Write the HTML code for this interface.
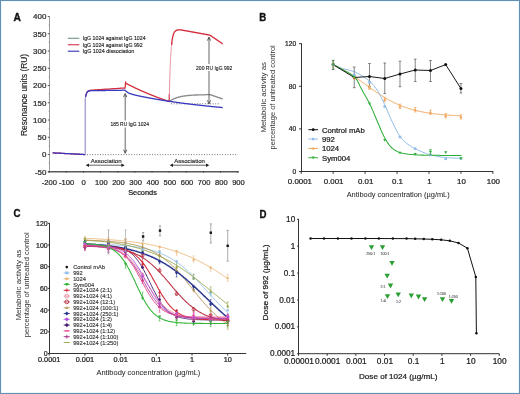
<!DOCTYPE html>
<html><head><meta charset="utf-8"><style>
html,body{margin:0;padding:0;background:#fff;}
svg{display:block;will-change:transform;filter:blur(0.3px);}
text{font-family:"Liberation Sans", sans-serif;}
</style></head><body>
<svg width="520" height="394" viewBox="0 0 520 394">
<rect x="0" y="0" width="520" height="394" fill="#fff"/>
<text x="13.60" y="20.90" font-size="10.6" fill="#111" stroke="#111" stroke-width="0.35" font-weight="bold" textLength="7.40" lengthAdjust="spacingAndGlyphs" >A</text>
<line x1="49.50" y1="16.50" x2="49.50" y2="171.80" stroke="#9a9a9a" stroke-width="1.0" />
<line x1="47.80" y1="171.80" x2="49.50" y2="171.80" stroke="#555" stroke-width="1.0" />
<line x1="48.60" y1="163.17" x2="49.50" y2="163.17" stroke="#888" stroke-width="0.8" />
<line x1="47.80" y1="154.54" x2="49.50" y2="154.54" stroke="#555" stroke-width="1.0" />
<line x1="48.60" y1="145.91" x2="49.50" y2="145.91" stroke="#888" stroke-width="0.8" />
<line x1="47.80" y1="137.29" x2="49.50" y2="137.29" stroke="#555" stroke-width="1.0" />
<line x1="48.60" y1="128.66" x2="49.50" y2="128.66" stroke="#888" stroke-width="0.8" />
<line x1="47.80" y1="120.03" x2="49.50" y2="120.03" stroke="#555" stroke-width="1.0" />
<line x1="48.60" y1="111.40" x2="49.50" y2="111.40" stroke="#888" stroke-width="0.8" />
<line x1="47.80" y1="102.78" x2="49.50" y2="102.78" stroke="#555" stroke-width="1.0" />
<line x1="48.60" y1="94.15" x2="49.50" y2="94.15" stroke="#888" stroke-width="0.8" />
<line x1="47.80" y1="85.52" x2="49.50" y2="85.52" stroke="#555" stroke-width="1.0" />
<line x1="48.60" y1="76.89" x2="49.50" y2="76.89" stroke="#888" stroke-width="0.8" />
<line x1="47.80" y1="68.27" x2="49.50" y2="68.27" stroke="#555" stroke-width="1.0" />
<line x1="48.60" y1="59.64" x2="49.50" y2="59.64" stroke="#888" stroke-width="0.8" />
<line x1="47.80" y1="51.01" x2="49.50" y2="51.01" stroke="#555" stroke-width="1.0" />
<line x1="48.60" y1="42.38" x2="49.50" y2="42.38" stroke="#888" stroke-width="0.8" />
<line x1="47.80" y1="33.76" x2="49.50" y2="33.76" stroke="#555" stroke-width="1.0" />
<line x1="48.60" y1="25.13" x2="49.50" y2="25.13" stroke="#888" stroke-width="0.8" />
<line x1="47.80" y1="16.50" x2="49.50" y2="16.50" stroke="#555" stroke-width="1.0" />
<text x="46.40" y="174.60" font-size="8" fill="#2a2a2a" stroke="#2a2a2a" stroke-width="0.24" text-anchor="end" textLength="11.50" lengthAdjust="spacingAndGlyphs" >-50</text>
<text x="46.40" y="157.34" font-size="8" fill="#2a2a2a" stroke="#2a2a2a" stroke-width="0.24" text-anchor="end" textLength="4.40" lengthAdjust="spacingAndGlyphs" >0</text>
<text x="46.40" y="140.09" font-size="8" fill="#2a2a2a" stroke="#2a2a2a" stroke-width="0.24" text-anchor="end" textLength="8.90" lengthAdjust="spacingAndGlyphs" >50</text>
<text x="46.40" y="122.83" font-size="8" fill="#2a2a2a" stroke="#2a2a2a" stroke-width="0.24" text-anchor="end" textLength="13.30" lengthAdjust="spacingAndGlyphs" >100</text>
<text x="46.40" y="105.58" font-size="8" fill="#2a2a2a" stroke="#2a2a2a" stroke-width="0.24" text-anchor="end" textLength="13.30" lengthAdjust="spacingAndGlyphs" >150</text>
<text x="46.40" y="88.32" font-size="8" fill="#2a2a2a" stroke="#2a2a2a" stroke-width="0.24" text-anchor="end" textLength="13.30" lengthAdjust="spacingAndGlyphs" >200</text>
<text x="46.40" y="71.06" font-size="8" fill="#2a2a2a" stroke="#2a2a2a" stroke-width="0.24" text-anchor="end" textLength="13.30" lengthAdjust="spacingAndGlyphs" >250</text>
<text x="46.40" y="53.81" font-size="8" fill="#2a2a2a" stroke="#2a2a2a" stroke-width="0.24" text-anchor="end" textLength="13.30" lengthAdjust="spacingAndGlyphs" >300</text>
<text x="46.40" y="36.55" font-size="8" fill="#2a2a2a" stroke="#2a2a2a" stroke-width="0.24" text-anchor="end" textLength="13.30" lengthAdjust="spacingAndGlyphs" >350</text>
<text x="46.40" y="19.30" font-size="8" fill="#2a2a2a" stroke="#2a2a2a" stroke-width="0.24" text-anchor="end" textLength="13.30" lengthAdjust="spacingAndGlyphs" >400</text>
<line x1="48.10" y1="171.80" x2="238.80" y2="171.80" stroke="#5a5a5a" stroke-width="1.6" />
<line x1="49.20" y1="171.00" x2="49.20" y2="172.80" stroke="#444" stroke-width="0.8" />
<line x1="66.34" y1="171.00" x2="66.34" y2="172.80" stroke="#444" stroke-width="0.8" />
<line x1="83.48" y1="171.00" x2="83.48" y2="172.80" stroke="#444" stroke-width="0.8" />
<line x1="100.62" y1="171.00" x2="100.62" y2="172.80" stroke="#444" stroke-width="0.8" />
<line x1="117.76" y1="171.00" x2="117.76" y2="172.80" stroke="#444" stroke-width="0.8" />
<line x1="134.90" y1="171.00" x2="134.90" y2="172.80" stroke="#444" stroke-width="0.8" />
<line x1="152.04" y1="171.00" x2="152.04" y2="172.80" stroke="#444" stroke-width="0.8" />
<line x1="169.18" y1="171.00" x2="169.18" y2="172.80" stroke="#444" stroke-width="0.8" />
<line x1="186.32" y1="171.00" x2="186.32" y2="172.80" stroke="#444" stroke-width="0.8" />
<line x1="203.46" y1="171.00" x2="203.46" y2="172.80" stroke="#444" stroke-width="0.8" />
<line x1="220.60" y1="171.00" x2="220.60" y2="172.80" stroke="#444" stroke-width="0.8" />
<line x1="237.74" y1="171.00" x2="237.74" y2="172.80" stroke="#444" stroke-width="0.8" />
<text x="49.40" y="185.30" font-size="8" fill="#2a2a2a" stroke="#2a2a2a" stroke-width="0.24" text-anchor="middle" textLength="15.20" lengthAdjust="spacingAndGlyphs" >-200</text>
<text x="66.54" y="185.30" font-size="8" fill="#2a2a2a" stroke="#2a2a2a" stroke-width="0.24" text-anchor="middle" textLength="15.20" lengthAdjust="spacingAndGlyphs" >-100</text>
<text x="83.68" y="185.30" font-size="8" fill="#2a2a2a" stroke="#2a2a2a" stroke-width="0.24" text-anchor="middle" textLength="4.30" lengthAdjust="spacingAndGlyphs" >0</text>
<text x="101.32" y="185.30" font-size="8" fill="#2a2a2a" stroke="#2a2a2a" stroke-width="0.24" text-anchor="middle" textLength="12.60" lengthAdjust="spacingAndGlyphs" >100</text>
<text x="118.46" y="185.30" font-size="8" fill="#2a2a2a" stroke="#2a2a2a" stroke-width="0.24" text-anchor="middle" textLength="12.60" lengthAdjust="spacingAndGlyphs" >200</text>
<text x="135.60" y="185.30" font-size="8" fill="#2a2a2a" stroke="#2a2a2a" stroke-width="0.24" text-anchor="middle" textLength="12.60" lengthAdjust="spacingAndGlyphs" >300</text>
<text x="152.74" y="185.30" font-size="8" fill="#2a2a2a" stroke="#2a2a2a" stroke-width="0.24" text-anchor="middle" textLength="12.60" lengthAdjust="spacingAndGlyphs" >400</text>
<text x="169.88" y="185.30" font-size="8" fill="#2a2a2a" stroke="#2a2a2a" stroke-width="0.24" text-anchor="middle" textLength="12.60" lengthAdjust="spacingAndGlyphs" >500</text>
<text x="187.02" y="185.30" font-size="8" fill="#2a2a2a" stroke="#2a2a2a" stroke-width="0.24" text-anchor="middle" textLength="12.60" lengthAdjust="spacingAndGlyphs" >600</text>
<text x="204.16" y="185.30" font-size="8" fill="#2a2a2a" stroke="#2a2a2a" stroke-width="0.24" text-anchor="middle" textLength="12.60" lengthAdjust="spacingAndGlyphs" >700</text>
<text x="221.30" y="185.30" font-size="8" fill="#2a2a2a" stroke="#2a2a2a" stroke-width="0.24" text-anchor="middle" textLength="12.60" lengthAdjust="spacingAndGlyphs" >800</text>
<text x="238.44" y="185.30" font-size="8" fill="#2a2a2a" stroke="#2a2a2a" stroke-width="0.24" text-anchor="middle" textLength="12.60" lengthAdjust="spacingAndGlyphs" >900</text>
<text x="142.50" y="195.30" font-size="7.5" fill="#222" stroke="#222" stroke-width="0.24" text-anchor="middle" textLength="28.70" lengthAdjust="spacingAndGlyphs" >Seconds</text>
<text x="27.20" y="95.00" font-size="8.3" fill="#222" stroke="#222" stroke-width="0.15" text-anchor="middle" textLength="82.00" lengthAdjust="spacingAndGlyphs" transform="rotate(-90 27.20 95.00)" >Resonance units (RU)</text>
<line x1="87.00" y1="154.60" x2="238.00" y2="154.60" stroke="#555" stroke-width="0.8" stroke-dasharray="1,1.6"/>
<line x1="171.00" y1="103.80" x2="219.00" y2="103.80" stroke="#555" stroke-width="0.8" stroke-dasharray="1,1.6"/>
<polyline points="168.8,101.2 168.9,101.2 169.0,101.2 169.1,101.2 169.2,101.5 169.3,101.4 169.4,101.4 169.4,101.3 169.5,101.3 169.6,101.2 169.7,101.1 169.8,101.1 169.9,101.0 170.0,101.0 170.0,100.9 170.1,100.8 170.2,100.8 170.3,100.7 170.4,100.7 170.5,100.6 170.6,100.6 170.6,100.5 170.7,100.5 170.8,100.4 170.9,100.4 171.0,100.3 171.1,100.2 171.2,100.2 171.2,100.1 171.3,100.1 171.4,100.0 171.5,100.0 171.6,99.9 171.7,99.9 171.8,99.9 171.8,99.8 171.9,99.8 172.0,99.7 172.1,99.7 172.2,99.6 172.3,99.6 172.4,99.5 172.4,99.5 172.5,99.4 172.6,99.4 172.7,99.4 172.8,99.3 172.9,99.3 173.0,99.2 173.0,99.2 173.1,99.1 173.2,99.1 173.3,99.1 173.4,99.0 173.5,99.0 173.6,98.9 173.6,98.9 173.7,98.9 173.8,98.8 173.9,98.8 174.0,98.7 174.1,98.7 174.2,98.7 174.2,98.6 174.3,98.6 174.4,98.6 174.5,98.5 174.6,98.5 174.7,98.5 174.8,98.4 174.8,98.4 174.9,98.3 175.0,98.3 175.1,98.3 175.2,98.2 175.3,98.2 175.4,98.2 175.4,98.2 175.5,98.1 175.6,98.1 175.7,98.1 175.8,98.0 175.9,98.0 176.0,98.0 176.0,97.9 176.1,97.9 176.2,97.9 176.3,97.8 176.4,97.8 176.5,97.8 176.6,97.8 176.6,97.7 176.7,97.7 176.8,97.7 176.9,97.6 177.0,97.6 177.1,97.6 177.2,97.6 177.2,97.5 177.3,97.5 177.4,97.5 177.5,97.5 177.6,97.4 177.7,97.4 177.8,97.4 177.8,97.4 177.9,97.3 178.0,97.3 178.1,97.3 178.2,97.3 178.3,97.2 178.3,97.2 178.4,97.2 178.5,97.2 178.6,97.1 178.7,97.1 178.8,97.1 178.9,97.1 178.9,97.0 179.0,97.0 179.1,97.0 179.2,97.0 179.3,97.0 179.4,96.9 179.5,96.9 179.5,96.9 179.6,96.9 179.7,96.9 179.8,96.8 179.9,96.8 180.0,96.8 180.1,96.8 180.1,96.8 180.2,96.7 180.3,96.7 180.4,96.7 180.5,96.7 180.6,96.7 180.7,96.6 180.7,96.6 180.8,96.6 180.9,96.6 181.0,96.6 181.1,96.5 181.2,96.5 181.3,96.5 181.3,96.5 181.4,96.5 181.5,96.5 181.6,96.4 181.7,96.4 181.8,96.4 181.9,96.4 181.9,96.4 182.0,96.4 182.1,96.3 182.2,96.3 182.3,96.3 182.4,96.3 182.5,96.3 182.5,96.3 182.6,96.3 182.7,96.2 182.8,96.2 182.9,96.2 183.0,96.2 183.1,96.2 183.1,96.2 183.2,96.2 183.3,96.1 183.4,96.1 183.5,96.1 183.6,96.1 183.7,96.1 183.7,96.1 183.8,96.1 183.9,96.0 184.0,96.0 184.1,96.0 184.2,96.0 184.3,96.0 184.3,96.0 184.4,96.0 184.5,96.0 184.6,95.9 184.7,95.9 184.8,95.9 184.9,95.9 184.9,95.9 185.0,95.9 185.1,95.9 185.2,95.9 185.3,95.8 185.4,95.8 185.5,95.8 185.5,95.8 185.6,95.8 185.7,95.8 185.8,95.8 185.9,95.8 186.0,95.8 186.1,95.7 186.1,95.7 186.2,95.7 186.3,95.7 186.4,95.7 186.5,95.7 186.6,95.7 186.7,95.7 186.7,95.7 186.8,95.7 186.9,95.6 187.0,95.6 187.1,95.6 187.2,95.6 187.3,95.6 187.3,95.6 187.4,95.6 187.5,95.6 187.6,95.6 187.7,95.6 187.8,95.6 187.9,95.5 187.9,95.5 188.0,95.5 188.1,95.5 188.2,95.5 188.3,95.5 188.4,95.5 188.5,95.5 188.5,95.5 188.6,95.5 188.7,95.5 188.8,95.5 188.9,95.4 189.0,95.4 189.1,95.4 189.1,95.4 189.2,95.4 189.3,95.4 189.4,95.4 189.5,95.4 189.6,95.4 189.7,95.4 189.7,95.4 189.8,95.4 189.9,95.4 190.0,95.4 190.1,95.3 190.2,95.3 190.3,95.3 190.3,95.3 190.4,95.3 190.5,95.3 190.6,95.3 190.7,95.3 190.8,95.3 190.9,95.3 190.9,95.3 191.0,95.3 191.1,95.3 191.2,95.3 191.3,95.3 191.4,95.3 191.5,95.2 191.5,95.2 191.6,95.2 191.7,95.2 191.8,95.2 191.9,95.2 192.0,95.2 192.1,95.2 192.1,95.2 192.2,95.2 192.3,95.2 192.4,95.2 192.5,95.2 192.6,95.2 192.7,95.2 192.7,95.2 192.8,95.2 192.9,95.2 193.0,95.1 193.1,95.1 193.2,95.1 193.3,95.1 193.3,95.1 193.4,95.1 193.5,95.1 193.6,95.1 193.7,95.1 193.8,95.1 193.9,95.1 193.9,95.1 194.0,95.1 194.1,95.1 194.2,95.1 194.3,95.1 194.4,95.1 194.5,95.1 194.5,95.1 194.6,95.1 194.7,95.1 194.8,95.1 194.9,95.0 195.0,95.0 195.1,95.0 195.1,95.0 195.2,95.0 195.3,95.0 195.4,95.0 195.5,95.0 195.6,95.0 195.7,95.0 195.7,95.0 195.8,95.0 195.9,95.0 196.0,95.0 196.1,95.0 196.2,95.0 196.3,95.0 196.3,95.0 196.4,95.0 196.5,95.0 196.6,95.0 196.7,95.0 196.8,95.0 196.9,95.0 196.9,95.0 197.0,95.0 197.1,95.0 197.2,94.9 197.3,94.9 197.4,94.9 197.5,94.9 197.5,94.9 197.6,94.9 197.7,94.9 197.8,94.9 197.9,94.9 198.0,94.9 198.1,94.9 198.1,94.9 198.2,94.9 198.3,94.9 198.4,94.9 198.5,94.9 198.6,94.9 198.7,94.9 198.7,94.9 198.8,94.9 198.9,94.9 199.0,94.9 199.1,94.9 199.2,94.9 199.3,94.9 199.3,94.9 199.4,94.9 199.5,94.9 199.6,94.9 199.7,94.9 199.8,94.9 199.9,94.9 199.9,94.9 200.0,94.9 200.1,94.9 200.2,94.9 200.3,94.9 200.4,94.8 200.5,94.8 200.5,94.8 200.6,94.8 200.7,94.8 200.8,94.8 200.9,94.8 201.0,94.8 201.1,94.8 201.1,94.8 201.2,94.8 201.3,94.8 201.4,94.8 201.5,94.8 201.6,94.8 201.7,94.8 201.7,94.8 201.8,94.8 201.9,94.8 202.0,94.8 202.1,94.8 202.2,94.8 202.3,94.8 202.3,94.8 202.4,94.8 202.5,94.8 202.6,94.8 202.7,94.8 202.8,94.8 202.9,94.8 202.9,94.8 203.0,94.8 203.1,94.8 203.2,94.8 203.3,94.8 203.4,94.8 203.5,94.8 203.5,94.8 203.6,94.8 203.7,94.8 203.8,94.8 203.9,94.8 204.0,94.8 204.1,94.8 204.1,94.8 204.2,94.8 204.3,94.8 204.4,94.8 204.5,94.8 204.6,94.8 204.7,94.8 204.7,94.8 204.8,94.8 204.9,94.8 205.0,94.8 205.1,94.7 205.2,94.7 205.3,94.7 205.3,94.7 205.4,94.7 205.5,94.7 205.6,94.7 205.7,94.7 205.8,94.7 205.9,94.7 205.9,94.7 206.0,94.7 206.1,94.7 206.2,94.7 206.3,94.7 206.4,94.7 206.5,94.7 206.5,94.7 206.6,94.7 206.7,94.7 206.8,94.7 206.9,94.7 207.0,94.7 207.1,94.7 207.1,94.7 207.2,94.7 207.3,94.7 207.4,94.7 207.5,94.7 207.6,94.7 207.7,94.7 207.7,94.7 207.8,94.7 207.9,94.7 208.0,94.7 208.1,94.7 208.2,94.7 208.3,94.7 208.3,94.7 208.4,94.7 208.5,94.7 208.6,94.7 208.7,94.7 208.8,94.7 208.9,94.7 208.9,94.7 209.0,94.7 209.1,94.7 209.2,94.7 209.3,94.7 209.4,94.7 209.5,94.7 209.5,94.7 209.6,94.7 209.7,94.7 209.8,94.7 209.9,94.7 210.0,94.6 210.1,94.6 210.1,94.7 210.2,94.7 210.3,94.7 210.4,94.7 210.5,94.8 210.6,94.8 210.7,94.8 210.7,94.9 210.8,94.9 210.9,94.9 211.0,94.9 211.1,95.0 211.2,95.0 211.3,95.0 211.3,95.1 211.4,95.1 211.5,95.1 211.6,95.2 211.7,95.2 211.8,95.2 211.9,95.2 211.9,95.3 212.0,95.3 212.1,95.3 212.2,95.4 212.3,95.4 212.4,95.4 212.5,95.4 212.5,95.5 212.6,95.5 212.7,95.5 212.8,95.6 212.9,95.6 213.0,95.6 213.1,95.7 213.1,95.7 213.2,95.7 213.3,95.7 213.4,95.8 213.5,95.8 213.6,95.8 213.7,95.9 213.7,95.9 213.8,95.9 213.9,95.9 214.0,96.0 214.1,96.0 214.2,96.0 214.3,96.1 214.3,96.1 214.4,96.1 214.5,96.2 214.6,96.2 214.7,96.2 214.8,96.2 214.9,96.3 214.9,96.3 215.0,96.3 215.1,96.4 215.2,96.4 215.3,96.4 215.4,96.4 215.5,96.5 215.5,96.5 215.6,96.5 215.7,96.6 215.8,96.6 215.9,96.6 216.0,96.6 216.1,96.7 216.1,96.7 216.2,96.7 216.3,96.8 216.4,96.8 216.5,96.8 216.6,96.9 216.7,96.9 216.7,96.9 216.8,96.9 216.9,97.0 217.0,97.0 217.1,97.0 217.2,97.1 217.3,97.1 217.3,97.1 217.4,97.1 217.5,97.2 217.6,97.2 217.7,97.2 217.8,97.3 217.9,97.3 217.9,97.3 218.0,97.4 218.1,97.4 218.2,97.4 218.3,97.4 218.4,97.5 218.5,97.5 218.5,97.5 218.6,97.6 218.7,97.6 218.8,97.6 218.9,97.6 219.0,97.7 219.1,97.7 219.1,97.7 219.2,97.8 219.3,97.8 219.4,97.8 219.5,97.9 219.6,97.9 219.7,97.9 219.7,97.9 219.8,98.0 219.9,98.0 220.0,98.0 220.1,98.1 220.2,98.1 220.3,98.1 220.3,98.1 220.4,98.2 220.5,98.2 220.6,98.2 220.7,98.3 220.8,98.3 220.9,98.3 220.9,98.4 221.0,98.4 221.1,98.4 221.2,98.4 221.3,98.5 221.4,98.5 221.5,98.5 221.5,98.6 221.6,98.6 221.7,98.6 221.8,98.6 221.9,98.7 222.0,98.7 222.1,98.7 222.1,98.8 222.2,98.8 222.3,98.8 222.4,98.8 222.5,98.9 222.6,98.9 222.7,98.9" fill="none" stroke="#878c8a" stroke-width="1.3" stroke-linejoin="round" />
<polyline points="52.6,152.8 52.7,152.8 52.8,152.8 52.9,152.8 53.0,152.8 53.1,152.8 53.1,152.8 53.2,152.8 53.3,152.9 53.4,152.9 53.5,152.9 53.6,152.9 53.7,152.9 53.7,152.9 53.8,152.9 53.9,152.9 54.0,152.9 54.1,152.9 54.2,152.9 54.3,152.9 54.3,152.9 54.4,152.9 54.5,152.9 54.6,152.9 54.7,152.9 54.8,152.9 54.9,152.9 54.9,152.9 55.0,152.9 55.1,152.9 55.2,153.0 55.3,153.0 55.4,153.0 55.5,153.0 55.5,153.0 55.6,153.0 55.7,153.0 55.8,153.0 55.9,153.0 56.0,153.0 56.1,153.0 56.1,153.0 56.2,153.0 56.3,153.0 56.4,153.0 56.5,153.0 56.6,153.0 56.7,153.0 56.7,153.0 56.8,153.0 56.9,153.0 57.0,153.0 57.1,153.1 57.2,153.1 57.3,153.1 57.3,153.1 57.4,153.1 57.5,153.1 57.6,153.1 57.7,153.1 57.8,153.1 57.9,153.1 57.9,153.1 58.0,153.1 58.1,153.1 58.2,153.1 58.3,153.1 58.4,153.1 58.5,153.1 58.5,153.1 58.6,153.1 58.7,153.1 58.8,153.1 58.9,153.1 59.0,153.2 59.1,153.2 59.1,153.2 59.2,153.2 59.3,153.2 59.4,153.2 59.5,153.2 59.6,153.2 59.7,153.2 59.7,153.2 59.8,153.2 59.9,153.2 60.0,153.2 60.1,153.2 60.2,153.2 60.3,153.2 60.3,153.2 60.4,153.2 60.5,153.2 60.6,153.2 60.7,153.2 60.8,153.2 60.9,153.3 60.9,153.3 61.0,153.3 61.1,153.3 61.2,153.3 61.3,153.3 61.4,153.3 61.5,153.3 61.5,153.3 61.6,153.3 61.7,153.3 61.8,153.3 61.9,153.3 62.0,153.3 62.1,153.3 62.1,153.3 62.2,153.3 62.3,153.3 62.4,153.3 62.5,153.3 62.6,153.3 62.7,153.3 62.7,153.4 62.8,153.4 62.9,153.4 63.0,153.4 63.1,153.4 63.2,153.4 63.3,153.4 63.3,153.4 63.4,153.4 63.5,153.4 63.6,153.4 63.7,153.4 63.8,153.4 63.9,153.4 63.9,153.4 64.0,153.4 64.1,153.4 64.2,153.4 64.3,153.4 64.4,153.4 64.5,153.4 64.5,153.4 64.6,153.5 64.7,153.5 64.8,153.5 64.9,153.5 65.0,153.5 65.1,153.5 65.1,153.5 65.2,153.5 65.3,153.5 65.4,153.5 65.5,153.5 65.6,153.5 65.7,153.5 65.7,153.5 65.8,153.5 65.9,153.5 66.0,153.5 66.1,153.5 66.2,153.5 66.3,153.5 66.3,153.5 66.4,153.5 66.5,153.6 66.6,153.6 66.7,153.6 66.8,153.6 66.9,153.6 66.9,153.6 67.0,153.6 67.1,153.6 67.2,153.6 67.3,153.6 67.4,153.6 67.5,153.6 67.5,153.6 67.6,153.6 67.7,153.6 67.8,153.6 67.9,153.6 68.0,153.6 68.1,153.6 68.1,153.6 68.2,153.6 68.3,153.6 68.4,153.7 68.5,153.7 68.6,153.7 68.7,153.7 68.7,153.7 68.8,153.7 68.9,153.7 69.0,153.7 69.1,153.7 69.2,153.7 69.3,153.7 69.3,153.7 69.4,153.7 69.5,153.7 69.6,153.7 69.7,153.7 69.8,153.7 69.9,153.7 69.9,153.7 70.0,153.7 70.1,153.7 70.2,153.7 70.3,153.7 70.4,153.8 70.5,153.8 70.5,153.8 70.6,153.8 70.7,153.8 70.8,153.8 70.9,153.8 71.0,153.8 71.1,153.8 71.1,153.8 71.2,153.8 71.3,153.8 71.4,153.8 71.5,153.8 71.6,153.8 71.7,153.8 71.7,153.8 71.8,153.8 71.9,153.8 72.0,153.8 72.1,153.8 72.2,153.8 72.3,153.9 72.3,153.9 72.4,153.9 72.5,153.9 72.6,153.9 72.7,153.9 72.8,153.9 72.9,153.9 72.9,153.9 73.0,153.9 73.1,153.9 73.2,153.9 73.3,153.9 73.4,153.9 73.5,153.9 73.5,153.9 73.6,153.9 73.7,153.9 73.8,153.9 73.9,153.9 74.0,153.9 74.1,153.9 74.1,154.0 74.2,154.0 74.3,154.0 74.4,154.0 74.5,154.0 74.6,154.0 74.7,154.0 74.7,154.0 74.8,154.0 74.9,154.0 75.0,154.0 75.1,154.0 75.2,154.0 75.3,154.0 75.3,154.0 75.4,154.0 75.5,154.0 75.6,154.0 75.7,154.0 75.8,154.0 75.9,154.0 75.9,154.0 76.0,154.1 76.1,154.1 76.2,154.1 76.3,154.1 76.4,154.1 76.5,154.1 76.5,154.1 76.6,154.1 76.7,154.1 76.8,154.1 76.9,154.1 77.0,154.1 77.1,154.1 77.1,154.1 77.2,154.1 77.3,154.1 77.4,154.1 77.5,154.1 77.6,154.1 77.7,154.1 77.7,154.1 77.8,154.1 77.9,154.2 78.0,154.2 78.1,154.2 78.2,154.2 78.3,154.2 78.3,154.2 78.4,154.2 78.5,154.2 78.6,154.2 78.7,154.2 78.8,154.2 78.9,154.2 78.9,154.2 79.0,154.2 79.1,154.2 79.2,154.2 79.3,154.2 79.4,154.2 79.5,154.2 79.5,154.2 79.6,154.2 79.7,154.2 79.8,154.3 79.9,154.3 80.0,154.3 80.1,154.3 80.1,154.3 80.2,154.3 80.3,154.3 80.4,154.3 80.5,154.3 80.6,154.3 80.7,154.3 80.7,154.3 80.8,154.3 80.9,154.3 81.0,154.3 81.1,154.3 81.2,154.3 81.3,154.3 81.3,154.3 81.4,154.3 81.5,154.3 81.6,154.3 81.7,154.4 81.8,154.4 81.9,154.4 81.9,154.4 82.0,154.4 82.1,154.4 82.2,154.4 82.3,154.4 82.4,154.4 82.5,154.4 82.5,154.4 82.6,154.4 82.7,154.4 82.8,154.4 82.9,154.4 83.0,154.4 83.1,154.4 83.1,154.4 83.2,154.4 83.3,154.4 83.4,154.4 83.5,154.4 83.6,154.5 83.7,154.5 83.7,154.5 83.8,154.5 83.9,154.5 84.0,154.5 84.1,154.5 84.2,154.5 84.3,154.5 84.3,154.5 84.4,154.5 84.5,154.5 84.6,154.5 84.7,154.5 84.8,154.5 84.9,154.5 84.9,154.5 85.0,154.5 85.1,154.5 85.2,154.5" fill="none" stroke="#d42c3c" stroke-width="1.25" stroke-linejoin="round" />
<polyline points="85.5,96.7 85.6,96.3 85.7,95.9 85.8,95.5 85.9,95.2 86.0,94.8 86.1,94.5 86.1,94.2 86.2,94.0 86.3,93.7 86.4,93.5 86.5,93.3 86.6,93.1 86.7,92.9 86.7,92.7 86.8,92.6 86.9,92.4 87.0,92.3 87.1,92.1 87.2,92.0 87.3,91.9 87.3,91.8 87.4,91.7 87.5,91.6 87.6,91.5 87.7,91.4 87.8,91.3 87.9,91.3 87.9,91.2 88.0,91.1 88.1,91.1 88.2,91.0 88.3,91.0 88.4,90.9 88.5,90.9 88.5,90.8 88.6,90.8 88.7,90.7 88.8,90.7 88.9,90.7 89.0,90.6 89.1,90.6 89.1,90.6 89.2,90.6 89.3,90.5 89.4,90.5 89.5,90.5 89.6,90.5 89.7,90.4 89.7,90.4 89.8,90.4 89.9,90.4 90.0,90.4 90.1,90.3 90.2,90.3 90.3,90.3 90.3,90.3 90.4,90.3 90.5,90.3 90.6,90.3 90.7,90.3 90.8,90.2 90.9,90.2 90.9,90.2 91.0,90.2 91.1,90.2 91.2,90.2 91.3,90.2 91.4,90.2 91.5,90.2 91.5,90.2 91.6,90.1 91.7,90.1 91.8,90.1 91.9,90.1 92.0,90.1 92.1,90.1 92.1,90.1 92.2,90.1 92.3,90.1 92.4,90.1 92.5,90.1 92.6,90.1 92.6,90.1 92.7,90.1 92.8,90.0 92.9,90.0 93.0,90.0 93.1,90.0 93.2,90.0 93.2,90.0 93.3,90.0 93.4,90.0 93.5,90.0 93.6,90.0 93.7,90.0 93.8,90.0 93.8,90.0 93.9,90.0 94.0,90.0 94.1,90.0 94.2,89.9 94.3,89.9 94.4,89.9 94.4,89.9 94.5,89.9 94.6,89.9 94.7,89.9 94.8,89.9 94.9,89.9 95.0,89.9 95.0,89.9 95.1,89.9 95.2,89.9 95.3,89.9 95.4,89.9 95.5,89.9 95.6,89.9 95.6,89.8 95.7,89.8 95.8,89.8 95.9,89.8 96.0,89.8 96.1,89.8 96.2,89.8 96.2,89.8 96.3,89.8 96.4,89.8 96.5,89.8 96.6,89.8 96.7,89.8 96.8,89.8 96.8,89.8 96.9,89.8 97.0,89.8 97.1,89.8 97.2,89.7 97.3,89.7 97.4,89.7 97.4,89.7 97.5,89.7 97.6,89.7 97.7,89.7 97.8,89.7 97.9,89.7 98.0,89.7 98.0,89.7 98.1,89.7 98.2,89.7 98.3,89.7 98.4,89.7 98.5,89.7 98.6,89.7 98.6,89.7 98.7,89.6 98.8,89.6 98.9,89.6 99.0,89.6 99.1,89.6 99.2,89.6 99.2,89.6 99.3,89.6 99.4,89.6 99.5,89.6 99.6,89.6 99.7,89.6 99.8,89.6 99.8,89.6 99.9,89.6 100.0,89.6 100.1,89.6 100.2,89.6 100.3,89.5 100.4,89.5 100.4,89.5 100.5,89.5 100.6,89.5 100.7,89.5 100.8,89.5 100.9,89.5 101.0,89.5 101.0,89.5 101.1,89.5 101.2,89.5 101.3,89.5 101.4,89.5 101.5,89.5 101.6,89.5 101.6,89.5 101.7,89.5 101.8,89.4 101.9,89.4 102.0,89.4 102.1,89.4 102.2,89.4 102.2,89.4 102.3,89.4 102.4,89.4 102.5,89.4 102.6,89.4 102.7,89.4 102.8,89.4 102.8,89.4 102.9,89.4 103.0,89.4 103.1,89.4 103.2,89.4 103.3,89.4 103.4,89.3 103.4,89.3 103.5,89.3 103.6,89.3 103.7,89.3 103.8,89.3 103.9,89.3 104.0,89.3 104.0,89.3 104.1,89.3 104.2,89.3 104.3,89.3 104.4,89.3 104.5,89.3 104.6,89.3 104.6,89.3 104.7,89.3 104.8,89.3 104.9,89.2 105.0,89.2 105.1,89.2 105.2,89.2 105.2,89.2 105.3,89.2 105.4,89.2 105.5,89.2 105.6,89.2 105.7,89.2 105.8,89.2 105.8,89.2 105.9,89.2 106.0,89.2 106.1,89.2 106.2,89.2 106.3,89.2 106.4,89.2 106.4,89.1 106.5,89.1 106.6,89.1 106.7,89.1 106.8,89.1 106.9,89.1 107.0,89.1 107.0,89.1 107.1,89.1 107.2,89.1 107.3,89.1 107.4,89.1 107.5,89.1 107.6,89.1 107.6,89.1 107.7,89.1 107.8,89.1 107.9,89.1 108.0,89.0 108.1,89.0 108.2,89.0 108.2,89.0 108.3,89.0 108.4,89.0 108.5,89.0 108.6,89.0 108.7,89.0 108.8,89.0 108.8,89.0 108.9,89.0 109.0,89.0 109.1,89.0 109.2,89.0 109.3,89.0 109.4,89.0 109.4,89.0 109.5,88.9 109.6,88.9 109.7,88.9 109.8,88.9 109.9,88.9 110.0,88.9 110.0,88.9 110.1,88.9 110.2,88.9 110.3,88.9 110.4,88.9 110.5,88.9 110.6,88.9 110.6,88.9 110.7,88.9 110.8,88.9 110.9,88.9 111.0,88.9 111.1,88.8 111.2,88.8 111.2,88.8 111.3,88.8 111.4,88.8 111.5,88.8 111.6,88.8 111.7,88.8 111.8,88.8 111.8,88.8 111.9,88.8 112.0,88.8 112.1,88.8 112.2,88.8 112.3,88.8 112.4,88.8 112.4,88.8 112.5,88.8 112.6,88.7 112.7,88.7 112.8,88.7 112.9,88.7 113.0,88.7 113.0,88.7 113.1,88.7 113.2,88.7 113.3,88.7 113.4,88.7 113.5,88.7 113.6,88.7 113.6,88.7 113.7,88.7 113.8,88.7 113.9,88.7 114.0,88.7 114.1,88.7 114.2,88.6 114.2,88.6 114.3,88.6 114.4,88.6 114.5,88.6 114.6,88.6 114.7,88.6 114.8,88.6 114.8,88.6 114.9,88.6 115.0,88.6 115.1,88.6 115.2,88.6 115.3,88.6 115.4,88.6 115.4,88.6 115.5,88.6 115.6,88.6 115.7,88.5 115.8,88.5 115.9,88.5 116.0,88.5 116.0,88.5 116.1,88.5 116.2,88.5 116.3,88.5 116.4,88.5 116.5,88.5 116.6,88.5 116.6,88.5 116.7,88.5 116.8,88.5 116.9,88.5 117.0,88.5 117.1,88.5 117.2,88.5 117.2,88.4 117.3,88.4 117.4,88.4 117.5,88.4 117.6,88.4 117.7,88.4 117.8,88.4 117.8,88.4 117.9,88.4 118.0,88.4 118.1,88.4 118.2,88.4 118.3,88.4 118.4,88.4 118.4,88.4 118.5,88.4 118.6,88.4 118.7,88.4 118.8,88.3 118.9,88.3 119.0,88.3 119.0,88.3 119.1,88.3 119.2,88.3 119.3,88.3 119.4,88.3 119.5,88.3 119.6,88.3 119.6,88.3 119.7,88.3 119.8,88.3 119.9,88.3 120.0,88.3 120.1,88.3 120.2,88.3 120.2,88.3 120.3,88.2 120.4,88.2 120.5,88.2 120.6,88.2 120.7,88.2 120.8,88.2 120.8,88.2 120.9,88.2 121.0,88.2 121.1,88.2 121.2,88.2 121.3,88.2 121.4,88.2 121.4,88.2 121.5,88.2 121.6,88.2 121.7,88.2 121.8,88.2 121.9,88.1 122.0,88.1 122.0,88.1 122.1,88.1 122.2,88.1 122.3,88.1 122.4,88.1 122.5,88.1 122.6,88.1 122.6,88.1 122.7,88.1 122.8,88.1 122.9,88.1 123.0,88.1 123.1,88.1 123.2,88.1 123.2,88.1 123.3,88.1 123.4,88.0 123.5,88.0 123.6,88.0 123.7,88.0 123.8,88.0 123.8,88.0 123.9,88.0 124.0,88.0 124.1,88.0 124.2,88.0 124.3,88.0 124.4,88.0 124.4,88.0 124.5,88.0 124.6,88.0 124.7,88.0 124.8,88.0 124.9,88.0 125.0,87.9 125.0,87.9 125.1,87.9 125.2,86.7 125.3,85.5 125.4,84.3 125.5,83.1 125.6,81.9 125.6,83.1 125.7,83.2 125.8,83.2 125.9,83.3 126.0,83.3 126.1,83.3 126.2,83.4 126.2,83.4 126.3,83.5 126.4,83.5 126.5,83.6 126.6,83.6 126.7,83.7 126.8,83.7 126.8,83.7 126.9,83.8 127.0,83.8 127.1,83.9 127.2,83.9 127.3,84.0 127.4,84.0 127.4,84.1 127.5,84.1 127.6,84.1 127.7,84.2 127.8,84.2 127.9,84.3 128.0,84.3 128.0,84.4 128.1,84.4 128.2,84.4 128.3,84.5 128.4,84.5 128.5,84.6 128.6,84.6 128.6,84.7 128.7,84.7 128.8,84.8 128.9,84.8 129.0,84.8 129.1,84.9 129.2,84.9 129.2,85.0 129.3,85.0 129.4,85.1 129.5,85.1 129.6,85.1 129.7,85.2 129.8,85.2 129.8,85.3 129.9,85.3 130.0,85.4 130.1,85.4 130.2,85.4 130.3,85.5 130.4,85.5 130.4,85.6 130.5,85.6 130.6,85.7 130.7,85.7 130.8,85.7 130.9,85.8 131.0,85.8 131.0,85.9 131.1,85.9 131.2,86.0 131.3,86.0 131.4,86.0 131.5,86.1 131.6,86.1 131.6,86.2 131.7,86.2 131.8,86.2 131.9,86.3 132.0,86.3 132.1,86.4 132.2,86.4 132.2,86.5 132.3,86.5 132.4,86.5 132.5,86.6 132.6,86.6 132.7,86.7 132.8,86.7 132.8,86.7 132.9,86.8 133.0,86.8 133.1,86.9 133.2,86.9 133.3,87.0 133.4,87.0 133.4,87.0 133.5,87.1 133.6,87.1 133.7,87.2 133.8,87.2 133.9,87.2 134.0,87.3 134.0,87.3 134.1,87.4 134.2,87.4 134.3,87.4 134.4,87.5 134.5,87.5 134.6,87.6 134.6,87.6 134.7,87.7 134.8,87.7 134.9,87.7 135.0,87.8 135.1,87.8 135.2,87.9 135.2,87.9 135.3,87.9 135.4,88.0 135.5,88.0 135.6,88.1 135.7,88.1 135.8,88.1 135.8,88.2 135.9,88.2 136.0,88.3 136.1,88.3 136.2,88.3 136.3,88.4 136.4,88.4 136.4,88.5 136.5,88.5 136.6,88.5 136.7,88.6 136.8,88.6 136.9,88.7 137.0,88.7 137.0,88.7 137.1,88.8 137.2,88.8 137.3,88.9 137.4,88.9 137.5,88.9 137.6,89.0 137.6,89.0 137.7,89.1 137.8,89.1 137.9,89.1 138.0,89.2 138.1,89.2 138.2,89.3 138.2,89.3 138.3,89.3 138.4,89.4 138.5,89.4 138.6,89.5 138.7,89.5 138.8,89.5 138.8,89.6 138.9,89.6 139.0,89.7 139.1,89.7 139.2,89.7 139.3,89.8 139.4,89.8 139.4,89.8 139.5,89.9 139.6,89.9 139.7,90.0 139.8,90.0 139.9,90.0 140.0,90.1 140.0,90.1 140.1,90.2 140.2,90.2 140.3,90.2 140.4,90.3 140.5,90.3 140.6,90.3 140.6,90.4 140.7,90.4 140.8,90.5 140.9,90.5 141.0,90.5 141.1,90.6 141.2,90.6 141.2,90.7 141.3,90.7 141.4,90.7 141.5,90.8 141.6,90.8 141.7,90.8 141.8,90.9 141.8,90.9 141.9,91.0 142.0,91.0 142.1,91.0 142.2,91.1 142.3,91.1 142.4,91.2 142.4,91.2 142.5,91.2 142.6,91.3 142.7,91.3 142.8,91.3 142.9,91.4 143.0,91.4 143.0,91.5 143.1,91.5 143.2,91.5 143.3,91.6 143.4,91.6 143.5,91.6 143.6,91.7 143.6,91.7 143.7,91.8 143.8,91.8 143.9,91.8 144.0,91.9 144.1,91.9 144.2,91.9 144.2,92.0 144.3,92.0 144.4,92.0 144.5,92.1 144.6,92.1 144.7,92.2 144.8,92.2 144.8,92.2 144.9,92.3 145.0,92.3 145.1,92.3 145.2,92.4 145.3,92.4 145.4,92.5 145.4,92.5 145.5,92.5 145.6,92.6 145.7,92.6 145.8,92.6 145.9,92.7 146.0,92.7 146.0,92.7 146.1,92.8 146.2,92.8 146.3,92.9 146.4,92.9 146.5,92.9 146.6,93.0 146.6,93.0 146.7,93.0 146.8,93.1 146.9,93.1 147.0,93.1 147.1,93.2 147.2,93.2 147.2,93.3 147.3,93.3 147.4,93.3 147.5,93.4 147.6,93.4 147.7,93.4 147.8,93.5 147.8,93.5 147.9,93.5 148.0,93.6 148.1,93.6 148.2,93.6 148.3,93.7 148.4,93.7 148.4,93.8 148.5,93.8 148.6,93.8 148.7,93.9 148.8,93.9 148.9,93.9 149.0,94.0 149.0,94.0 149.1,94.0 149.2,94.1 149.3,94.1 149.4,94.1 149.5,94.2 149.6,94.2 149.6,94.3 149.7,94.3 149.8,94.3 149.9,94.4 150.0,94.4 150.1,94.4 150.2,94.5 150.2,94.5 150.3,94.5 150.4,94.6 150.5,94.6 150.6,94.6 150.7,94.7 150.8,94.7 150.8,94.7 150.9,94.8 151.0,94.8 151.1,94.8 151.2,94.9 151.3,94.9 151.4,94.9 151.4,95.0 151.5,95.0 151.6,95.1 151.7,95.1 151.8,95.1 151.9,95.2 152.0,95.2 152.0,95.2 152.1,95.3 152.2,95.3 152.3,95.3 152.4,95.4 152.5,95.4 152.6,95.4 152.6,95.5 152.7,95.5 152.8,95.5 152.9,95.6 153.0,95.6 153.1,95.6 153.2,95.7 153.2,95.7 153.3,95.7 153.4,95.8 153.5,95.8 153.6,95.8 153.7,95.9 153.8,95.9 153.8,95.9 153.9,96.0 154.0,96.0 154.1,96.0 154.2,96.1 154.3,96.1 154.4,96.1 154.4,96.2 154.5,96.2 154.6,96.2 154.7,96.3 154.8,96.3 154.9,96.3 155.0,96.4 155.0,96.4 155.1,96.4 155.2,96.5 155.3,96.5 155.4,96.5 155.5,96.6 155.6,96.6 155.6,96.6 155.7,96.7 155.8,96.7 155.9,96.7 156.0,96.8 156.1,96.8 156.2,96.8 156.2,96.9 156.3,96.9 156.4,96.9 156.5,97.0 156.6,97.0 156.7,97.0 156.8,97.1 156.8,97.1 156.9,97.1 157.0,97.2 157.1,97.2 157.2,97.2 157.3,97.3 157.4,97.3 157.4,97.3 157.5,97.4 157.6,97.4 157.7,97.4 157.8,97.5 157.9,97.5 158.0,97.5 158.0,97.6 158.1,97.6 158.2,97.6 158.3,97.7 158.4,97.7 158.5,97.7 158.6,97.7 158.6,97.8 158.7,97.8 158.8,97.8 158.9,97.9 159.0,97.9 159.1,97.9 159.2,98.0 159.2,98.0 159.3,98.0 159.4,98.1 159.5,98.1 159.6,98.1 159.7,98.2 159.8,98.2 159.8,98.2 159.9,98.3 160.0,98.3 160.1,98.3 160.2,98.4 160.3,98.4 160.4,98.4 160.4,98.4 160.5,98.5 160.6,98.5 160.7,98.5 160.8,98.6 160.9,98.6 161.0,98.6 161.0,98.7 161.1,98.7 161.2,98.7 161.3,98.8 161.4,98.8 161.5,98.8 161.6,98.9 161.6,98.9 161.7,98.9 161.8,99.0 161.9,99.0 162.0,99.0 162.1,99.0 162.2,99.1 162.2,99.1 162.3,99.1 162.4,99.2 162.5,99.2 162.6,99.2 162.7,99.3 162.8,99.3 162.8,99.3 162.9,99.4 163.0,99.4 163.1,99.4 163.2,99.4 163.3,99.5 163.4,99.5 163.4,99.5 163.5,99.6 163.6,99.6 163.7,99.6 163.8,99.7 163.9,99.7 164.0,99.7 164.0,99.8 164.1,99.8 164.2,99.8 164.3,99.8 164.4,99.9 164.5,99.9 164.6,99.9 164.6,100.0 164.7,100.0 164.8,100.0 164.9,100.1 165.0,100.1 165.1,100.1 165.2,100.1 165.2,100.2 165.3,100.2 165.4,100.2 165.5,100.3 165.6,100.3 165.7,100.3 165.8,100.4 165.8,100.4 165.9,100.4 166.0,100.4 166.1,100.5 166.2,100.5 166.3,100.5 166.4,100.6 166.4,100.6 166.5,100.6 166.6,100.7 166.7,100.7 166.8,100.7 166.9,100.7 167.0,100.8 167.0,100.8 167.1,100.8 167.2,100.9 167.3,100.9 167.4,100.9 167.5,100.9 167.6,101.0 167.6,101.0 167.7,101.0 167.8,101.1 167.9,101.1 168.0,101.1 168.1,101.2 168.2,101.2 168.2,101.2 168.3,101.2 168.4,101.3 168.5,101.3 168.6,101.3 168.7,101.4 168.8,101.4 168.8,101.4 168.9,101.4 169.0,101.5 169.1,101.5 169.2,101.5 169.3,97.7 169.4,94.0" fill="none" stroke="#d42c3c" stroke-width="1.25" stroke-linejoin="round" />
<polyline points="169.2,101.5 169.3,97.7 169.4,94.0 169.4,90.5 169.5,87.2 169.6,84.1 169.7,81.2 169.8,78.4 169.9,75.8 170.0,73.3 170.0,70.9 170.1,68.7 170.2,66.6 170.3,64.6 170.4,62.7 170.5,60.9 170.6,59.2 170.6,57.6 170.7,56.1 170.8,54.7 170.9,53.4 171.0,52.1 171.1,50.9 171.2,49.7 171.2,48.6 171.3,47.6 171.4,46.7 171.5,45.7 171.6,44.9 171.7,44.1 171.8,43.3 171.8,42.5 171.9,41.9" fill="none" stroke="#e07888" stroke-width="0.8" stroke-linejoin="round" />
<polyline points="171.6,44.9 171.7,44.1 171.8,43.3 171.8,42.5 171.9,41.9 172.0,41.2 172.1,40.6 172.2,40.0 172.3,39.4 172.4,38.9 172.4,38.4 172.5,37.9 172.6,37.5 172.7,37.1 172.8,36.7 172.9,36.3 173.0,35.9 173.0,35.6 173.1,35.3 173.2,35.0 173.3,34.7 173.4,34.4 173.5,34.2 173.6,33.9 173.6,33.7 173.7,33.5 173.8,33.3 173.9,33.1 174.0,32.9 174.1,32.7 174.2,32.6 174.2,32.4 174.3,32.3 174.4,32.1 174.5,32.0 174.6,31.9 174.7,31.8 174.8,31.7 174.8,31.6 174.9,31.5 175.0,31.4 175.1,31.3 175.2,31.2 175.3,31.1 175.4,31.0 175.4,31.0 175.5,30.9 175.6,30.8 175.7,30.8 175.8,30.7 175.9,30.7 176.0,30.6 176.0,30.6 176.1,30.5 176.2,30.5 176.3,30.4 176.4,30.4 176.5,30.4 176.6,30.3 176.6,30.3 176.7,30.3 176.8,30.2 176.9,30.2 177.0,30.2 177.1,30.2 177.2,30.1 177.2,30.1 177.3,30.1 177.4,30.1 177.5,30.0 177.6,30.0 177.7,30.0 177.8,30.0 177.8,30.0 177.9,30.0 178.0,30.0 178.1,29.9 178.2,29.9 178.3,29.9 178.3,29.9 178.4,29.9 178.5,29.9 178.6,29.9 178.7,29.9 178.8,29.9 178.9,29.9 178.9,29.8 179.0,29.8 179.1,29.8 179.2,29.8 179.3,29.8 179.4,29.8 179.5,29.8 179.5,29.8 179.6,29.8 179.7,29.8 179.8,29.7 179.9,29.7 180.0,29.7 180.1,29.8 180.1,29.8 180.2,29.8 180.3,29.8 180.4,29.8 180.5,29.8 180.6,29.9 180.7,29.9 180.7,29.9 180.8,29.9 180.9,29.9 181.0,29.9 181.1,29.9 181.2,30.0 181.3,30.0 181.3,30.0 181.4,30.0 181.5,30.0 181.6,30.0 181.7,30.1 181.8,30.1 181.9,30.1 181.9,30.1 182.0,30.1 182.1,30.1 182.2,30.1 182.3,30.2 182.4,30.2 182.5,30.2 182.5,30.2 182.6,30.2 182.7,30.2 182.8,30.3 182.9,30.3 183.0,30.3 183.1,30.3 183.1,30.3 183.2,30.3 183.3,30.3 183.4,30.4 183.5,30.4 183.6,30.4 183.7,30.4 183.7,30.4 183.8,30.4 183.9,30.5 184.0,30.5 184.1,30.5 184.2,30.5 184.3,30.5 184.3,30.5 184.4,30.5 184.5,30.6 184.6,30.6 184.7,30.6 184.8,30.6 184.9,30.6 184.9,30.6 185.0,30.7 185.1,30.7 185.2,30.7 185.3,30.7 185.4,30.7 185.5,30.7 185.5,30.7 185.6,30.8 185.7,30.8 185.8,30.8 185.9,30.8 186.0,30.8 186.1,30.8 186.1,30.9 186.2,30.9 186.3,30.9 186.4,30.9 186.5,30.9 186.6,30.9 186.7,30.9 186.7,31.0 186.8,31.0 186.9,31.0 187.0,31.0 187.1,31.0 187.2,31.0 187.3,31.1 187.3,31.1 187.4,31.1 187.5,31.1 187.6,31.1 187.7,31.1 187.8,31.1 187.9,31.2 187.9,31.2 188.0,31.2 188.1,31.2 188.2,31.2 188.3,31.2 188.4,31.3 188.5,31.3 188.5,31.3 188.6,31.3 188.7,31.3 188.8,31.3 188.9,31.3 189.0,31.4 189.1,31.4 189.1,31.4 189.2,31.4 189.3,31.4 189.4,31.4 189.5,31.5 189.6,31.5 189.7,31.5 189.7,31.5 189.8,31.5 189.9,31.5 190.0,31.5 190.1,31.6 190.2,31.6 190.3,31.6 190.3,31.6 190.4,31.6 190.5,31.6 190.6,31.7 190.7,31.7 190.8,31.7 190.9,31.7 190.9,31.7 191.0,31.7 191.1,31.7 191.2,31.8 191.3,31.8 191.4,31.8 191.5,31.8 191.5,31.8 191.6,31.8 191.7,31.9 191.8,31.9 191.9,31.9 192.0,31.9 192.1,31.9 192.1,31.9 192.2,31.9 192.3,32.0 192.4,32.0 192.5,32.0 192.6,32.0 192.7,32.0 192.7,32.0 192.8,32.1 192.9,32.1 193.0,32.1 193.1,32.1 193.2,32.1 193.3,32.1 193.3,32.1 193.4,32.2 193.5,32.2 193.6,32.2 193.7,32.2 193.8,32.2 193.9,32.2 193.9,32.3 194.0,32.3 194.1,32.3 194.2,32.3 194.3,32.3 194.4,32.3 194.5,32.3 194.5,32.4 194.6,32.4 194.7,32.4 194.8,32.4 194.9,32.4 195.0,32.4 195.1,32.5 195.1,32.5 195.2,32.5 195.3,32.5 195.4,32.5 195.5,32.5 195.6,32.5 195.7,32.6 195.7,32.6 195.8,32.6 195.9,32.6 196.0,32.6 196.1,32.6 196.2,32.7 196.3,32.7 196.3,32.7 196.4,32.7 196.5,32.7 196.6,32.7 196.7,32.7 196.8,32.8 196.9,32.8 196.9,32.8 197.0,32.8 197.1,32.8 197.2,32.8 197.3,32.9 197.4,32.9 197.5,32.9 197.5,32.9 197.6,32.9 197.7,32.9 197.8,32.9 197.9,33.0 198.0,33.0 198.1,33.0 198.1,33.0 198.2,33.0 198.3,33.0 198.4,33.1 198.5,33.1 198.6,33.1 198.7,33.1 198.7,33.1 198.8,33.1 198.9,33.1 199.0,33.2 199.1,33.2 199.2,33.2 199.3,33.2 199.3,33.2 199.4,33.2 199.5,33.3 199.6,33.3 199.7,33.3 199.8,33.3 199.9,33.3 199.9,33.3 200.0,33.3 200.1,33.4 200.2,33.4 200.3,33.4 200.4,33.4 200.5,33.4 200.5,33.4 200.6,33.5 200.7,33.5 200.8,33.5 200.9,33.5 201.0,33.5 201.1,33.5 201.1,33.5 201.2,33.6 201.3,33.6 201.4,33.6 201.5,33.6 201.6,33.6 201.7,33.6 201.7,33.7 201.8,33.7 201.9,33.7 202.0,33.7 202.1,33.7 202.2,33.7 202.3,33.7 202.3,33.8 202.4,33.8 202.5,33.8 202.6,33.8 202.7,33.8 202.8,33.8 202.9,33.9 202.9,33.9 203.0,33.9 203.1,33.9 203.2,33.9 203.3,33.9 203.4,33.9 203.5,34.0 203.5,34.0 203.6,34.0 203.7,34.0 203.8,34.0 203.9,34.0 204.0,34.1 204.1,34.1 204.1,34.1 204.2,34.1 204.3,34.1 204.4,34.1 204.5,34.2 204.6,34.2 204.7,34.2 204.7,34.2 204.8,34.2 204.9,34.2 205.0,34.2 205.1,34.3 205.2,34.3 205.3,34.3 205.3,34.3 205.4,34.3 205.5,34.3 205.6,34.4 205.7,34.4 205.8,34.4 205.9,34.4 205.9,34.4 206.0,34.4 206.1,34.4 206.2,34.5 206.3,34.5 206.4,34.5 206.5,34.5 206.5,34.5 206.6,34.5 206.7,34.6 206.8,34.6 206.9,34.6 207.0,34.6 207.1,34.6 207.1,34.6 207.2,34.6 207.3,34.7 207.4,34.7 207.5,34.7 207.6,34.7 207.7,34.7 207.7,34.7 207.8,34.8 207.9,34.8 208.0,34.8 208.1,34.8 208.2,34.8 208.3,34.8 208.3,34.8 208.4,34.9 208.5,34.9 208.6,34.9 208.7,34.9 208.8,34.9 208.9,34.9 208.9,35.0 209.0,35.0 209.1,35.0 209.2,35.0 209.3,35.0 209.4,35.0 209.5,35.0 209.5,35.1 209.6,35.1 209.7,35.1 209.8,35.1 209.9,35.1 210.0,35.1 210.1,35.2 210.1,35.3 210.2,35.3 210.3,35.4 210.4,35.4 210.5,35.5 210.6,35.5 210.7,35.6 210.7,35.7 210.8,35.7 210.9,35.8 211.0,35.8 211.1,35.9 211.2,36.0 211.3,36.0 211.3,36.1 211.4,36.1 211.5,36.2 211.6,36.3 211.7,36.3 211.8,36.4 211.9,36.4 211.9,36.5 212.0,36.5 212.1,36.6 212.2,36.7 212.3,36.7 212.4,36.8 212.5,36.8 212.5,36.9 212.6,37.0 212.7,37.0 212.8,37.1 212.9,37.1 213.0,37.2 213.1,37.2 213.1,37.3 213.2,37.4 213.3,37.4 213.4,37.5 213.5,37.5 213.6,37.6 213.7,37.7 213.7,37.7 213.8,37.8 213.9,37.8 214.0,37.9 214.1,38.0 214.2,38.0 214.3,38.1 214.3,38.1 214.4,38.2 214.5,38.2 214.6,38.3 214.7,38.4 214.8,38.4 214.9,38.5 214.9,38.5 215.0,38.6 215.1,38.7 215.2,38.7 215.3,38.8 215.4,38.8 215.5,38.9 215.5,38.9 215.6,39.0 215.7,39.1 215.8,39.1 215.9,39.2 216.0,39.2 216.1,39.3 216.1,39.4 216.2,39.4 216.3,39.5 216.4,39.5 216.5,39.6 216.6,39.7 216.7,39.7 216.7,39.8 216.8,39.8 216.9,39.9 217.0,39.9 217.1,40.0 217.2,40.1 217.3,40.1 217.3,40.2 217.4,40.2 217.5,40.3 217.6,40.4 217.7,40.4 217.8,40.5 217.9,40.5 217.9,40.6 218.0,40.7 218.1,40.7 218.2,40.8 218.3,40.8 218.4,40.9 218.5,40.9 218.5,41.0 218.6,41.1 218.7,41.1 218.8,41.2 218.9,41.2 219.0,41.3 219.1,41.4 219.1,41.4 219.2,41.5 219.3,41.5 219.4,41.6 219.5,41.6 219.6,41.7 219.7,41.8 219.7,41.8 219.8,41.9 219.9,41.9 220.0,42.0 220.1,42.1 220.2,42.1 220.3,42.2 220.3,42.2 220.4,42.3 220.5,42.4 220.6,42.4 220.7,42.5 220.8,42.5 220.9,42.6 220.9,42.6 221.0,42.7 221.1,42.8 221.2,42.8 221.3,42.9 221.4,42.9 221.5,43.0 221.5,43.1 221.6,43.1 221.7,43.2 221.8,43.2 221.9,43.3 222.0,43.3 222.1,43.4 222.1,43.5 222.2,43.5 222.3,43.6 222.4,43.6 222.5,43.7 222.6,43.8 222.7,43.8" fill="none" stroke="#d42c3c" stroke-width="1.3" stroke-linejoin="round" />
<polyline points="52.6,152.8 52.7,152.8 52.8,152.8 52.9,152.8 53.0,152.8 53.1,152.8 53.1,152.8 53.2,152.8 53.3,152.9 53.4,152.9 53.5,152.9 53.6,152.9 53.7,152.9 53.7,152.9 53.8,152.9 53.9,152.9 54.0,152.9 54.1,152.9 54.2,152.9 54.3,152.9 54.3,152.9 54.4,152.9 54.5,152.9 54.6,152.9 54.7,152.9 54.8,152.9 54.9,152.9 54.9,152.9 55.0,152.9 55.1,152.9 55.2,153.0 55.3,153.0 55.4,153.0 55.5,153.0 55.5,153.0 55.6,153.0 55.7,153.0 55.8,153.0 55.9,153.0 56.0,153.0 56.1,153.0 56.1,153.0 56.2,153.0 56.3,153.0 56.4,153.0 56.5,153.0 56.6,153.0 56.7,153.0 56.7,153.0 56.8,153.0 56.9,153.0 57.0,153.0 57.1,153.1 57.2,153.1 57.3,153.1 57.3,153.1 57.4,153.1 57.5,153.1 57.6,153.1 57.7,153.1 57.8,153.1 57.9,153.1 57.9,153.1 58.0,153.1 58.1,153.1 58.2,153.1 58.3,153.1 58.4,153.1 58.5,153.1 58.5,153.1 58.6,153.1 58.7,153.1 58.8,153.1 58.9,153.1 59.0,153.2 59.1,153.2 59.1,153.2 59.2,153.2 59.3,153.2 59.4,153.2 59.5,153.2 59.6,153.2 59.7,153.2 59.7,153.2 59.8,153.2 59.9,153.2 60.0,153.2 60.1,153.2 60.2,153.2 60.3,153.2 60.3,153.2 60.4,153.2 60.5,153.2 60.6,153.2 60.7,153.2 60.8,153.2 60.9,153.3 60.9,153.3 61.0,153.3 61.1,153.3 61.2,153.3 61.3,153.3 61.4,153.3 61.5,153.3 61.5,153.3 61.6,153.3 61.7,153.3 61.8,153.3 61.9,153.3 62.0,153.3 62.1,153.3 62.1,153.3 62.2,153.3 62.3,153.3 62.4,153.3 62.5,153.3 62.6,153.3 62.7,153.3 62.7,153.4 62.8,153.4 62.9,153.4 63.0,153.4 63.1,153.4 63.2,153.4 63.3,153.4 63.3,153.4 63.4,153.4 63.5,153.4 63.6,153.4 63.7,153.4 63.8,153.4 63.9,153.4 63.9,153.4 64.0,153.4 64.1,153.4 64.2,153.4 64.3,153.4 64.4,153.4 64.5,153.4 64.5,153.4 64.6,153.5 64.7,153.5 64.8,153.5 64.9,153.5 65.0,153.5 65.1,153.5 65.1,153.5 65.2,153.5 65.3,153.5 65.4,153.5 65.5,153.5 65.6,153.5 65.7,153.5 65.7,153.5 65.8,153.5 65.9,153.5 66.0,153.5 66.1,153.5 66.2,153.5 66.3,153.5 66.3,153.5 66.4,153.5 66.5,153.6 66.6,153.6 66.7,153.6 66.8,153.6 66.9,153.6 66.9,153.6 67.0,153.6 67.1,153.6 67.2,153.6 67.3,153.6 67.4,153.6 67.5,153.6 67.5,153.6 67.6,153.6 67.7,153.6 67.8,153.6 67.9,153.6 68.0,153.6 68.1,153.6 68.1,153.6 68.2,153.6 68.3,153.6 68.4,153.7 68.5,153.7 68.6,153.7 68.7,153.7 68.7,153.7 68.8,153.7 68.9,153.7 69.0,153.7 69.1,153.7 69.2,153.7 69.3,153.7 69.3,153.7 69.4,153.7 69.5,153.7 69.6,153.7 69.7,153.7 69.8,153.7 69.9,153.7 69.9,153.7 70.0,153.7 70.1,153.7 70.2,153.7 70.3,153.7 70.4,153.8 70.5,153.8 70.5,153.8 70.6,153.8 70.7,153.8 70.8,153.8 70.9,153.8 71.0,153.8 71.1,153.8 71.1,153.8 71.2,153.8 71.3,153.8 71.4,153.8 71.5,153.8 71.6,153.8 71.7,153.8 71.7,153.8 71.8,153.8 71.9,153.8 72.0,153.8 72.1,153.8 72.2,153.8 72.3,153.9 72.3,153.9 72.4,153.9 72.5,153.9 72.6,153.9 72.7,153.9 72.8,153.9 72.9,153.9 72.9,153.9 73.0,153.9 73.1,153.9 73.2,153.9 73.3,153.9 73.4,153.9 73.5,153.9 73.5,153.9 73.6,153.9 73.7,153.9 73.8,153.9 73.9,153.9 74.0,153.9 74.1,153.9 74.1,154.0 74.2,154.0 74.3,154.0 74.4,154.0 74.5,154.0 74.6,154.0 74.7,154.0 74.7,154.0 74.8,154.0 74.9,154.0 75.0,154.0 75.1,154.0 75.2,154.0 75.3,154.0 75.3,154.0 75.4,154.0 75.5,154.0 75.6,154.0 75.7,154.0 75.8,154.0 75.9,154.0 75.9,154.0 76.0,154.1 76.1,154.1 76.2,154.1 76.3,154.1 76.4,154.1 76.5,154.1 76.5,154.1 76.6,154.1 76.7,154.1 76.8,154.1 76.9,154.1 77.0,154.1 77.1,154.1 77.1,154.1 77.2,154.1 77.3,154.1 77.4,154.1 77.5,154.1 77.6,154.1 77.7,154.1 77.7,154.1 77.8,154.1 77.9,154.2 78.0,154.2 78.1,154.2 78.2,154.2 78.3,154.2 78.3,154.2 78.4,154.2 78.5,154.2 78.6,154.2 78.7,154.2 78.8,154.2 78.9,154.2 78.9,154.2 79.0,154.2 79.1,154.2 79.2,154.2 79.3,154.2 79.4,154.2 79.5,154.2 79.5,154.2 79.6,154.2 79.7,154.2 79.8,154.3 79.9,154.3 80.0,154.3 80.1,154.3 80.1,154.3 80.2,154.3 80.3,154.3 80.4,154.3 80.5,154.3 80.6,154.3 80.7,154.3 80.7,154.3 80.8,154.3 80.9,154.3 81.0,154.3 81.1,154.3 81.2,154.3 81.3,154.3 81.3,154.3 81.4,154.3 81.5,154.3 81.6,154.3 81.7,154.4 81.8,154.4 81.9,154.4 81.9,154.4 82.0,154.4 82.1,154.4 82.2,154.4 82.3,154.4 82.4,154.4 82.5,154.4 82.5,154.4 82.6,154.4 82.7,154.4 82.8,154.4 82.9,154.4 83.0,154.4 83.1,154.4 83.1,154.4 83.2,154.4 83.3,154.4 83.4,154.4 83.5,154.4 83.6,154.5 83.7,154.5 83.7,154.5 83.8,154.5 83.9,154.5 84.0,154.5 84.1,154.5 84.2,154.5 84.3,154.5 84.3,154.5 84.4,154.5 84.5,154.5 84.6,154.5 84.7,154.5 84.8,154.5 84.9,154.5 84.9,154.5 85.0,154.5 85.1,154.5 85.2,154.5" fill="none" stroke="#3838c0" stroke-width="1.25" stroke-linejoin="round" />
<polyline points="85.2,154.5 85.2,99.0 85.3,98.4 85.4,97.9 85.5,97.4 85.5,96.9 85.6,96.5 85.7,96.1 85.8,95.7 85.9,95.4" fill="none" stroke="#6a58b0" stroke-width="0.8" stroke-linejoin="round" />
<polyline points="85.5,96.9 85.6,96.5 85.7,96.1 85.8,95.7 85.9,95.4 86.0,95.0 86.1,94.7 86.1,94.5 86.2,94.2 86.3,94.0 86.4,93.7 86.5,93.5 86.6,93.3 86.7,93.1 86.7,93.0 86.8,92.8 86.9,92.7 87.0,92.5 87.1,92.4 87.2,92.3 87.3,92.2 87.3,92.1 87.4,92.0 87.5,91.9 87.6,91.8 87.7,91.7 87.8,91.6 87.9,91.6 87.9,91.5 88.0,91.4 88.1,91.4 88.2,91.3 88.3,91.3 88.4,91.2 88.5,91.2 88.5,91.2 88.6,91.1 88.7,91.1 88.8,91.1 88.9,91.0 89.0,91.0 89.1,91.0 89.1,91.0 89.2,90.9 89.3,90.9 89.4,90.9 89.5,90.9 89.6,90.9 89.7,90.8 89.7,90.8 89.8,90.8 89.9,90.8 90.0,90.8 90.1,90.8 90.2,90.8 90.3,90.8 90.3,90.7 90.4,90.7 90.5,90.7 90.6,90.7 90.7,90.7 90.8,90.7 90.9,90.7 90.9,90.7 91.0,90.7 91.1,90.7 91.2,90.7 91.3,90.7 91.4,90.7 91.5,90.7 91.5,90.7 91.6,90.7 91.7,90.7 91.8,90.7 91.9,90.6 92.0,90.6 92.1,90.6 92.1,90.6 92.2,90.6 92.3,90.6 92.4,90.6 92.5,90.6 92.6,90.6 92.6,90.6 92.7,90.6 92.8,90.6 92.9,90.6 93.0,90.6 93.1,90.6 93.2,90.6 93.2,90.6 93.3,90.6 93.4,90.6 93.5,90.6 93.6,90.6 93.7,90.6 93.8,90.6 93.8,90.6 93.9,90.6 94.0,90.6 94.1,90.6 94.2,90.6 94.3,90.6 94.4,90.6 94.4,90.6 94.5,90.6 94.6,90.6 94.7,90.6 94.8,90.6 94.9,90.6 95.0,90.6 95.0,90.6 95.1,90.6 95.2,90.6 95.3,90.6 95.4,90.6 95.5,90.6 95.6,90.6 95.6,90.6 95.7,90.6 95.8,90.6 95.9,90.6 96.0,90.6 96.1,90.6 96.2,90.6 96.2,90.6 96.3,90.6 96.4,90.6 96.5,90.6 96.6,90.6 96.7,90.6 96.8,90.6 96.8,90.6 96.9,90.6 97.0,90.6 97.1,90.6 97.2,90.6 97.3,90.6 97.4,90.5 97.4,90.5 97.5,90.5 97.6,90.5 97.7,90.5 97.8,90.5 97.9,90.5 98.0,90.5 98.0,90.5 98.1,90.5 98.2,90.5 98.3,90.5 98.4,90.5 98.5,90.5 98.6,90.5 98.6,90.5 98.7,90.5 98.8,90.5 98.9,90.5 99.0,90.5 99.1,90.5 99.2,90.5 99.2,90.5 99.3,90.5 99.4,90.5 99.5,90.5 99.6,90.5 99.7,90.5 99.8,90.5 99.8,90.5 99.9,90.5 100.0,90.5 100.1,90.5 100.2,90.5 100.3,90.5 100.4,90.5 100.4,90.5 100.5,90.5 100.6,90.5 100.7,90.5 100.8,90.5 100.9,90.5 101.0,90.5 101.0,90.5 101.1,90.5 101.2,90.5 101.3,90.5 101.4,90.5 101.5,90.5 101.6,90.5 101.6,90.5 101.7,90.5 101.8,90.5 101.9,90.5 102.0,90.5 102.1,90.5 102.2,90.5 102.2,90.5 102.3,90.5 102.4,90.5 102.5,90.5 102.6,90.5 102.7,90.5 102.8,90.5 102.8,90.5 102.9,90.5 103.0,90.5 103.1,90.5 103.2,90.5 103.3,90.5 103.4,90.5 103.4,90.5 103.5,90.5 103.6,90.5 103.7,90.5 103.8,90.5 103.9,90.5 104.0,90.5 104.0,90.5 104.1,90.5 104.2,90.5 104.3,90.5 104.4,90.5 104.5,90.5 104.6,90.5 104.6,90.5 104.7,90.5 104.8,90.5 104.9,90.5 105.0,90.5 105.1,90.5 105.2,90.5 105.2,90.5 105.3,90.5 105.4,90.5 105.5,90.4 105.6,90.4 105.7,90.4 105.8,90.4 105.8,90.4 105.9,90.4 106.0,90.4 106.1,90.4 106.2,90.4 106.3,90.4 106.4,90.4 106.4,90.4 106.5,90.4 106.6,90.4 106.7,90.4 106.8,90.4 106.9,90.4 107.0,90.4 107.0,90.4 107.1,90.4 107.2,90.4 107.3,90.4 107.4,90.4 107.5,90.4 107.6,90.4 107.6,90.4 107.7,90.4 107.8,90.4 107.9,90.4 108.0,90.4 108.1,90.4 108.2,90.4 108.2,90.4 108.3,90.4 108.4,90.4 108.5,90.4 108.6,90.4 108.7,90.4 108.8,90.4 108.8,90.4 108.9,90.4 109.0,90.4 109.1,90.4 109.2,90.4 109.3,90.4 109.4,90.4 109.4,90.4 109.5,90.4 109.6,90.4 109.7,90.4 109.8,90.4 109.9,90.4 110.0,90.4 110.0,90.4 110.1,90.4 110.2,90.4 110.3,90.4 110.4,90.4 110.5,90.4 110.6,90.4 110.6,90.4 110.7,90.4 110.8,90.4 110.9,90.4 111.0,90.4 111.1,90.4 111.2,90.4 111.2,90.4 111.3,90.4 111.4,90.4 111.5,90.4 111.6,90.4 111.7,90.4 111.8,90.4 111.8,90.4 111.9,90.4 112.0,90.4 112.1,90.4 112.2,90.4 112.3,90.4 112.4,90.4 112.4,90.4 112.5,90.4 112.6,90.4 112.7,90.4 112.8,90.4 112.9,90.4 113.0,90.4 113.0,90.4 113.1,90.4 113.2,90.4 113.3,90.4 113.4,90.4 113.5,90.4 113.6,90.4 113.6,90.4 113.7,90.3 113.8,90.3 113.9,90.3 114.0,90.3 114.1,90.3 114.2,90.3 114.2,90.3 114.3,90.3 114.4,90.3 114.5,90.3 114.6,90.3 114.7,90.3 114.8,90.3 114.8,90.3 114.9,90.3 115.0,90.3 115.1,90.3 115.2,90.3 115.3,90.3 115.4,90.3 115.4,90.3 115.5,90.3 115.6,90.3 115.7,90.3 115.8,90.3 115.9,90.3 116.0,90.3 116.0,90.3 116.1,90.3 116.2,90.3 116.3,90.3 116.4,90.3 116.5,90.3 116.6,90.3 116.6,90.3 116.7,90.3 116.8,90.3 116.9,90.3 117.0,90.3 117.1,90.3 117.2,90.3 117.2,90.3 117.3,90.3 117.4,90.3 117.5,90.3 117.6,90.3 117.7,90.3 117.8,90.3 117.8,90.3 117.9,90.3 118.0,90.3 118.1,90.3 118.2,90.3 118.3,90.3 118.4,90.3 118.4,90.3 118.5,90.3 118.6,90.3 118.7,90.3 118.8,90.3 118.9,90.3 119.0,90.3 119.0,90.3 119.1,90.3 119.2,90.3 119.3,90.3 119.4,90.3 119.5,90.3 119.6,90.3 119.6,90.3 119.7,90.3 119.8,90.3 119.9,90.3 120.0,90.3 120.1,90.3 120.2,90.3 120.2,90.3 120.3,90.3 120.4,90.3 120.5,90.3 120.6,90.3 120.7,90.3 120.8,90.3 120.8,90.3 120.9,90.3 121.0,90.3 121.1,90.3 121.2,90.3 121.3,90.3 121.4,90.3 121.4,90.3 121.5,90.3 121.6,90.3 121.7,90.3 121.8,90.3 121.9,90.3 122.0,90.2 122.0,90.2 122.1,90.2 122.2,90.2 122.3,90.2 122.4,90.2 122.5,90.2 122.6,90.2 122.6,90.2 122.7,90.2 122.8,90.2 122.9,90.2 123.0,90.2 123.1,90.2 123.2,90.2 123.2,90.2 123.3,90.2 123.4,90.2 123.5,90.2 123.6,90.2 123.7,90.2 123.8,90.2 123.8,90.2 123.9,90.2 124.0,90.2 124.1,90.2 124.2,90.2 124.3,90.2 124.4,90.2 124.4,90.2 124.5,90.2 124.6,90.2 124.7,90.2 124.8,90.2 124.9,90.2 125.0,90.1 125.0,90.2 125.1,90.3 125.2,90.4 125.3,90.5 125.4,90.6 125.5,90.7 125.6,90.8 125.6,90.8 125.7,90.9 125.8,91.0 125.9,91.1 126.0,91.2 126.1,91.2 126.2,91.3 126.2,91.4 126.3,91.4 126.4,91.5 126.5,91.6 126.6,91.6 126.7,91.7 126.8,91.8 126.8,91.8 126.9,91.9 127.0,91.9 127.1,92.0 127.2,92.1 127.3,92.1 127.4,92.2 127.4,92.2 127.5,92.3 127.6,92.3 127.7,92.4 127.8,92.4 127.9,92.5 128.0,92.5 128.0,92.6 128.1,92.6 128.2,92.7 128.3,92.7 128.4,92.8 128.5,92.8 128.6,92.8 128.6,92.9 128.7,92.9 128.8,93.0 128.9,93.0 129.0,93.0 129.1,93.1 129.2,93.1 129.2,93.2 129.3,93.2 129.4,93.2 129.5,93.3 129.6,93.3 129.7,93.4 129.8,93.4 129.8,93.4 129.9,93.5 130.0,93.5 130.1,93.5 130.2,93.6 130.3,93.6 130.4,93.6 130.4,93.7 130.5,93.7 130.6,93.7 130.7,93.7 130.8,93.8 130.9,93.8 131.0,93.8 131.0,93.9 131.1,93.9 131.2,93.9 131.3,94.0 131.4,94.0 131.5,94.0 131.6,94.0 131.6,94.1 131.7,94.1 131.8,94.1 131.9,94.1 132.0,94.2 132.1,94.2 132.2,94.2 132.2,94.3 132.3,94.3 132.4,94.3 132.5,94.3 132.6,94.4 132.7,94.4 132.8,94.4 132.8,94.4 132.9,94.5 133.0,94.5 133.1,94.5 133.2,94.5 133.3,94.5 133.4,94.6 133.4,94.6 133.5,94.6 133.6,94.6 133.7,94.7 133.8,94.7 133.9,94.7 134.0,94.7 134.0,94.8 134.1,94.8 134.2,94.8 134.3,94.8 134.4,94.8 134.5,94.9 134.6,94.9 134.6,94.9 134.7,94.9 134.8,94.9 134.9,95.0 135.0,95.0 135.1,95.0 135.2,95.0 135.2,95.1 135.3,95.1 135.4,95.1 135.5,95.1 135.6,95.1 135.7,95.2 135.8,95.2 135.8,95.2 135.9,95.2 136.0,95.2 136.1,95.3 136.2,95.3 136.3,95.3 136.4,95.3 136.4,95.3 136.5,95.4 136.6,95.4 136.7,95.4 136.8,95.4 136.9,95.4 137.0,95.5 137.0,95.5 137.1,95.5 137.2,95.5 137.3,95.5 137.4,95.6 137.5,95.6 137.6,95.6 137.6,95.6 137.7,95.6 137.8,95.6 137.9,95.7 138.0,95.7 138.1,95.7 138.2,95.7 138.2,95.7 138.3,95.8 138.4,95.8 138.5,95.8 138.6,95.8 138.7,95.8 138.8,95.9 138.8,95.9 138.9,95.9 139.0,95.9 139.1,95.9 139.2,95.9 139.3,96.0 139.4,96.0 139.4,96.0 139.5,96.0 139.6,96.0 139.7,96.1 139.8,96.1 139.9,96.1 140.0,96.1 140.0,96.1 140.1,96.1 140.2,96.2 140.3,96.2 140.4,96.2 140.5,96.2 140.6,96.2 140.6,96.2 140.7,96.3 140.8,96.3 140.9,96.3 141.0,96.3 141.1,96.3 141.2,96.4 141.2,96.4 141.3,96.4 141.4,96.4 141.5,96.4 141.6,96.4 141.7,96.5 141.8,96.5 141.8,96.5 141.9,96.5 142.0,96.5 142.1,96.5 142.2,96.6 142.3,96.6 142.4,96.6 142.4,96.6 142.5,96.6 142.6,96.6 142.7,96.7 142.8,96.7 142.9,96.7 143.0,96.7 143.0,96.7 143.1,96.7 143.2,96.8 143.3,96.8 143.4,96.8 143.5,96.8 143.6,96.8 143.6,96.8 143.7,96.9 143.8,96.9 143.9,96.9 144.0,96.9 144.1,96.9 144.2,97.0 144.2,97.0 144.3,97.0 144.4,97.0 144.5,97.0 144.6,97.0 144.7,97.1 144.8,97.1 144.8,97.1 144.9,97.1 145.0,97.1 145.1,97.1 145.2,97.2 145.3,97.2 145.4,97.2 145.4,97.2 145.5,97.2 145.6,97.2 145.7,97.2 145.8,97.3 145.9,97.3 146.0,97.3 146.0,97.3 146.1,97.3 146.2,97.3 146.3,97.4 146.4,97.4 146.5,97.4 146.6,97.4 146.6,97.4 146.7,97.4 146.8,97.5 146.9,97.5 147.0,97.5 147.1,97.5 147.2,97.5 147.2,97.5 147.3,97.6 147.4,97.6 147.5,97.6 147.6,97.6 147.7,97.6 147.8,97.6 147.8,97.7 147.9,97.7 148.0,97.7 148.1,97.7 148.2,97.7 148.3,97.7 148.4,97.8 148.4,97.8 148.5,97.8 148.6,97.8 148.7,97.8 148.8,97.8 148.9,97.8 149.0,97.9 149.0,97.9 149.1,97.9 149.2,97.9 149.3,97.9 149.4,97.9 149.5,98.0 149.6,98.0 149.6,98.0 149.7,98.0 149.8,98.0 149.9,98.0 150.0,98.1 150.1,98.1 150.2,98.1 150.2,98.1 150.3,98.1 150.4,98.1 150.5,98.1 150.6,98.2 150.7,98.2 150.8,98.2 150.8,98.2 150.9,98.2 151.0,98.2 151.1,98.3 151.2,98.3 151.3,98.3 151.4,98.3 151.4,98.3 151.5,98.3 151.6,98.3 151.7,98.4 151.8,98.4 151.9,98.4 152.0,98.4 152.0,98.4 152.1,98.4 152.2,98.5 152.3,98.5 152.4,98.5 152.5,98.5 152.6,98.5 152.6,98.5 152.7,98.5 152.8,98.6 152.9,98.6 153.0,98.6 153.1,98.6 153.2,98.6 153.2,98.6 153.3,98.7 153.4,98.7 153.5,98.7 153.6,98.7 153.7,98.7 153.8,98.7 153.8,98.7 153.9,98.8 154.0,98.8 154.1,98.8 154.2,98.8 154.3,98.8 154.4,98.8 154.4,98.8 154.5,98.9 154.6,98.9 154.7,98.9 154.8,98.9 154.9,98.9 155.0,98.9 155.0,99.0 155.1,99.0 155.2,99.0 155.3,99.0 155.4,99.0 155.5,99.0 155.6,99.0 155.6,99.1 155.7,99.1 155.8,99.1 155.9,99.1 156.0,99.1 156.1,99.1 156.2,99.1 156.2,99.2 156.3,99.2 156.4,99.2 156.5,99.2 156.6,99.2 156.7,99.2 156.8,99.2 156.8,99.3 156.9,99.3 157.0,99.3 157.1,99.3 157.2,99.3 157.3,99.3 157.4,99.4 157.4,99.4 157.5,99.4 157.6,99.4 157.7,99.4 157.8,99.4 157.9,99.4 158.0,99.5 158.0,99.5 158.1,99.5 158.2,99.5 158.3,99.5 158.4,99.5 158.5,99.5 158.6,99.6 158.6,99.6 158.7,99.6 158.8,99.6 158.9,99.6 159.0,99.6 159.1,99.6 159.2,99.7 159.2,99.7 159.3,99.7 159.4,99.7 159.5,99.7 159.6,99.7 159.7,99.7 159.8,99.8 159.8,99.8 159.9,99.8 160.0,99.8 160.1,99.8 160.2,99.8 160.3,99.8 160.4,99.9 160.4,99.9 160.5,99.9 160.6,99.9 160.7,99.9 160.8,99.9 160.9,99.9 161.0,100.0 161.0,100.0 161.1,100.0 161.2,100.0 161.3,100.0 161.4,100.0 161.5,100.0 161.6,100.1 161.6,100.1 161.7,100.1 161.8,100.1 161.9,100.1 162.0,100.1 162.1,100.1 162.2,100.1 162.2,100.2 162.3,100.2 162.4,100.2 162.5,100.2 162.6,100.2 162.7,100.2 162.8,100.2 162.8,100.3 162.9,100.3 163.0,100.3 163.1,100.3 163.2,100.3 163.3,100.3 163.4,100.3 163.4,100.4 163.5,100.4 163.6,100.4 163.7,100.4 163.8,100.4 163.9,100.4 164.0,100.4 164.0,100.5 164.1,100.5 164.2,100.5 164.3,100.5 164.4,100.5 164.5,100.5 164.6,100.5 164.6,100.5 164.7,100.6 164.8,100.6 164.9,100.6 165.0,100.6 165.1,100.6 165.2,100.6 165.2,100.6 165.3,100.7 165.4,100.7 165.5,100.7 165.6,100.7 165.7,100.7 165.8,100.7 165.8,100.7 165.9,100.7 166.0,100.8 166.1,100.8 166.2,100.8 166.3,100.8 166.4,100.8 166.4,100.8 166.5,100.8 166.6,100.9 166.7,100.9 166.8,100.9 166.9,100.9 167.0,100.9 167.0,100.9 167.1,100.9 167.2,100.9 167.3,101.0 167.4,101.0 167.5,101.0 167.6,101.0 167.6,101.0 167.7,101.0 167.8,101.0 167.9,101.1 168.0,101.1 168.1,101.1 168.2,101.1 168.2,101.1 168.3,101.1 168.4,101.1 168.5,101.1 168.6,101.2 168.7,101.2 168.8,101.2 168.8,101.2 168.9,101.2 169.0,101.2 169.1,101.2 169.2,101.2 169.3,101.3 169.4,101.3 169.4,101.3 169.5,101.3 169.6,101.3 169.7,101.3 169.8,101.3 169.9,101.4 170.0,101.4 170.0,101.4 170.1,101.4 170.2,101.4 170.3,101.4 170.4,101.4 170.5,101.4 170.6,101.5 170.6,101.5 170.7,101.5 170.8,101.5 170.9,101.5 171.0,101.5 171.1,101.5 171.2,101.5 171.2,101.6 171.3,101.6 171.4,101.6 171.5,101.6 171.6,101.6 171.7,101.6 171.8,101.6 171.8,101.6 171.9,101.7 172.0,101.7 172.1,101.7 172.2,101.7 172.3,101.7 172.4,101.7 172.4,101.7 172.5,101.7 172.6,101.8 172.7,101.8 172.8,101.8 172.9,101.8 173.0,101.8 173.0,101.8 173.1,101.8 173.2,101.8 173.3,101.9 173.4,101.9 173.5,101.9 173.6,101.9 173.6,101.9 173.7,101.9 173.8,101.9 173.9,101.9 174.0,102.0 174.1,102.0 174.2,102.0 174.2,102.0 174.3,102.0 174.4,102.0 174.5,102.0 174.6,102.0 174.7,102.1 174.8,102.1 174.8,102.1 174.9,102.1 175.0,102.1 175.1,102.1 175.2,102.1 175.3,102.1 175.4,102.2 175.4,102.2 175.5,102.2 175.6,102.2 175.7,102.2 175.8,102.2 175.9,102.2 176.0,102.2 176.0,102.2 176.1,102.3 176.2,102.3 176.3,102.3 176.4,102.3 176.5,102.3 176.6,102.3 176.6,102.3 176.7,102.3 176.8,102.4 176.9,102.4 177.0,102.4 177.1,102.4 177.2,102.4 177.2,102.4 177.3,102.4 177.4,102.4 177.5,102.5 177.6,102.5 177.7,102.5 177.8,102.5 177.8,102.5 177.9,102.5 178.0,102.5 178.1,102.5 178.2,102.5 178.3,102.6 178.3,102.6 178.4,102.6 178.5,102.6 178.6,102.6 178.7,102.6 178.8,102.6 178.9,102.6 178.9,102.7 179.0,102.7 179.1,102.7 179.2,102.7 179.3,102.7 179.4,102.7 179.5,102.7 179.5,102.7 179.6,102.7 179.7,102.8 179.8,102.8 179.9,102.8 180.0,102.8 180.1,102.8 180.1,102.8 180.2,102.8 180.3,102.8 180.4,102.9 180.5,102.9 180.6,102.9 180.7,102.9 180.7,102.9 180.8,102.9 180.9,102.9 181.0,102.9 181.1,102.9 181.2,103.0 181.3,103.0 181.3,103.0 181.4,103.0 181.5,103.0 181.6,103.0 181.7,103.0 181.8,103.0 181.9,103.0 181.9,103.1 182.0,103.1 182.1,103.1 182.2,103.1 182.3,103.1 182.4,103.1 182.5,103.1 182.5,103.1 182.6,103.1 182.7,103.2 182.8,103.2 182.9,103.2 183.0,103.2 183.1,103.2 183.1,103.2 183.2,103.2 183.3,103.2 183.4,103.3 183.5,103.3 183.6,103.3 183.7,103.3 183.7,103.3 183.8,103.3 183.9,103.3 184.0,103.3 184.1,103.3 184.2,103.4 184.3,103.4 184.3,103.4 184.4,103.4 184.5,103.4 184.6,103.4 184.7,103.4 184.8,103.4 184.9,103.4 184.9,103.5 185.0,103.5 185.1,103.5 185.2,103.5 185.3,103.5 185.4,103.5 185.5,103.5 185.5,103.5 185.6,103.5 185.7,103.6 185.8,103.6 185.9,103.6 186.0,103.6 186.1,103.6 186.1,103.6 186.2,103.6 186.3,103.6 186.4,103.6 186.5,103.6 186.6,103.7 186.7,103.7 186.7,103.7 186.8,103.7 186.9,103.7 187.0,103.7 187.1,103.7 187.2,103.7 187.3,103.7 187.3,103.8 187.4,103.8 187.5,103.8 187.6,103.8 187.7,103.8 187.8,103.8 187.9,103.8 187.9,103.8 188.0,103.8 188.1,103.9 188.2,103.9 188.3,103.9 188.4,103.9 188.5,103.9 188.5,103.9 188.6,103.9 188.7,103.9 188.8,103.9 188.9,104.0 189.0,104.0 189.1,104.0 189.1,104.0 189.2,104.0 189.3,104.0 189.4,104.0 189.5,104.0 189.6,104.0 189.7,104.0 189.7,104.1 189.8,104.1 189.9,104.1 190.0,104.1 190.1,104.1 190.2,104.1 190.3,104.1 190.3,104.1 190.4,104.1 190.5,104.2 190.6,104.2 190.7,104.2 190.8,104.2 190.9,104.2 190.9,104.2 191.0,104.2 191.1,104.2 191.2,104.2 191.3,104.2 191.4,104.3 191.5,104.3 191.5,104.3 191.6,104.3 191.7,104.3 191.8,104.3 191.9,104.3 192.0,104.3 192.1,104.3 192.1,104.3 192.2,104.4 192.3,104.4 192.4,104.4 192.5,104.4 192.6,104.4 192.7,104.4 192.7,104.4 192.8,104.4 192.9,104.4 193.0,104.5 193.1,104.5 193.2,104.5 193.3,104.5 193.3,104.5 193.4,104.5 193.5,104.5 193.6,104.5 193.7,104.5 193.8,104.5 193.9,104.6 193.9,104.6 194.0,104.6 194.1,104.6 194.2,104.6 194.3,104.6 194.4,104.6 194.5,104.6 194.5,104.6 194.6,104.6 194.7,104.7 194.8,104.7 194.9,104.7 195.0,104.7 195.1,104.7 195.1,104.7 195.2,104.7 195.3,104.7 195.4,104.7 195.5,104.7 195.6,104.8 195.7,104.8 195.7,104.8 195.8,104.8 195.9,104.8 196.0,104.8 196.1,104.8 196.2,104.8 196.3,104.8 196.3,104.8 196.4,104.9 196.5,104.9 196.6,104.9 196.7,104.9 196.8,104.9 196.9,104.9 196.9,104.9 197.0,104.9 197.1,104.9 197.2,104.9 197.3,105.0 197.4,105.0 197.5,105.0 197.5,105.0 197.6,105.0 197.7,105.0 197.8,105.0 197.9,105.0 198.0,105.0 198.1,105.0 198.1,105.0 198.2,105.1 198.3,105.1 198.4,105.1 198.5,105.1 198.6,105.1 198.7,105.1 198.7,105.1 198.8,105.1 198.9,105.1 199.0,105.1 199.1,105.2 199.2,105.2 199.3,105.2 199.3,105.2 199.4,105.2 199.5,105.2 199.6,105.2 199.7,105.2 199.8,105.2 199.9,105.2 199.9,105.3 200.0,105.3 200.1,105.3 200.2,105.3 200.3,105.3 200.4,105.3 200.5,105.3 200.5,105.3 200.6,105.3 200.7,105.3 200.8,105.3 200.9,105.4 201.0,105.4 201.1,105.4 201.1,105.4 201.2,105.4 201.3,105.4 201.4,105.4 201.5,105.4 201.6,105.4 201.7,105.4 201.7,105.4 201.8,105.5 201.9,105.5 202.0,105.5 202.1,105.5 202.2,105.5 202.3,105.5 202.3,105.5 202.4,105.5 202.5,105.5 202.6,105.5 202.7,105.6 202.8,105.6 202.9,105.6 202.9,105.6 203.0,105.6 203.1,105.6 203.2,105.6 203.3,105.6 203.4,105.6 203.5,105.6 203.5,105.6 203.6,105.7 203.7,105.7 203.8,105.7 203.9,105.7 204.0,105.7 204.1,105.7 204.1,105.7 204.2,105.7 204.3,105.7 204.4,105.7 204.5,105.7 204.6,105.8 204.7,105.8 204.7,105.8 204.8,105.8 204.9,105.8 205.0,105.8 205.1,105.8 205.2,105.8 205.3,105.8 205.3,105.8 205.4,105.8 205.5,105.9 205.6,105.9 205.7,105.9 205.8,105.9 205.9,105.9 205.9,105.9 206.0,105.9 206.1,105.9 206.2,105.9 206.3,105.9 206.4,105.9 206.5,106.0 206.5,106.0 206.6,106.0 206.7,106.0 206.8,106.0 206.9,106.0 207.0,106.0 207.1,106.0 207.1,106.0 207.2,106.0 207.3,106.0 207.4,106.1 207.5,106.1 207.6,106.1 207.7,106.1 207.7,106.1 207.8,106.1 207.9,106.1 208.0,106.1 208.1,106.1 208.2,106.1 208.3,106.1 208.3,106.1 208.4,106.2 208.5,106.2 208.6,106.2 208.7,106.2 208.8,106.2 208.9,106.2 208.9,106.2 209.0,106.2 209.1,106.2 209.2,106.2 209.3,106.2 209.4,106.3 209.5,106.3 209.5,106.3 209.6,106.3 209.7,106.3 209.8,106.3 209.9,106.3 210.0,106.3 210.1,106.3 210.1,106.3 210.2,106.3 210.3,106.3 210.4,106.4 210.5,106.4 210.6,106.4 210.7,106.4 210.7,106.4 210.8,106.4 210.9,106.4 211.0,106.4 211.1,106.4 211.2,106.4 211.3,106.4 211.3,106.5 211.4,106.5 211.5,106.5 211.6,106.5 211.7,106.5 211.8,106.5 211.9,106.5 211.9,106.5 212.0,106.5 212.1,106.5 212.2,106.5 212.3,106.5 212.4,106.6 212.5,106.6 212.5,106.6 212.6,106.6 212.7,106.6 212.8,106.6 212.9,106.6 213.0,106.6 213.1,106.6 213.1,106.6 213.2,106.6 213.3,106.6 213.4,106.7 213.5,106.7 213.6,106.7 213.7,106.7 213.7,106.7 213.8,106.7 213.9,106.7 214.0,106.7 214.1,106.7 214.2,106.7 214.3,106.7 214.3,106.7 214.4,106.8 214.5,106.8 214.6,106.8 214.7,106.8 214.8,106.8 214.9,106.8 214.9,106.8 215.0,106.8 215.1,106.8 215.2,106.8 215.3,106.8 215.4,106.8 215.5,106.9 215.5,106.9 215.6,106.9 215.7,106.9 215.8,106.9 215.9,106.9 216.0,106.9 216.1,106.9 216.1,106.9 216.2,106.9 216.3,106.9 216.4,106.9 216.5,106.9 216.6,107.0 216.7,107.0 216.7,107.0 216.8,107.0 216.9,107.0 217.0,107.0 217.1,107.0 217.2,107.0 217.3,107.0 217.3,107.0 217.4,107.0 217.5,107.0 217.6,107.1 217.7,107.1 217.8,107.1 217.9,107.1 217.9,107.1 218.0,107.1 218.1,107.1 218.2,107.1 218.3,107.1 218.4,107.1 218.5,107.1 218.5,107.1 218.6,107.1 218.7,107.2 218.8,107.2 218.9,107.2 219.0,107.2 219.1,107.2 219.1,107.2 219.2,107.2 219.3,107.2 219.4,107.2 219.5,107.2 219.6,107.2 219.7,107.2 219.7,107.3 219.8,107.3 219.9,107.3 220.0,107.3 220.1,107.3 220.2,107.3 220.3,107.3 220.3,107.3 220.4,107.3 220.5,107.3 220.6,107.3 220.7,107.3 220.8,107.3 220.9,107.4 220.9,107.4 221.0,107.4 221.1,107.4 221.2,107.4 221.3,107.4 221.4,107.4 221.5,107.4 221.5,107.4 221.6,107.4 221.7,107.4 221.8,107.4 221.9,107.4 222.0,107.5 222.1,107.5 222.1,107.5 222.2,107.5 222.3,107.5 222.4,107.5 222.5,107.5 222.6,107.5 222.7,107.5" fill="none" stroke="#3838c0" stroke-width="1.25" stroke-linejoin="round" />
<line x1="125.20" y1="94.50" x2="125.20" y2="152.30" stroke="#333" stroke-width="0.75" />
<path d="M123.60,97.10 L125.20,93.50 L126.80,97.10" fill="none" stroke="#333" stroke-width="0.8"/>
<path d="M123.60,149.70 L125.20,153.30 L126.80,149.70" fill="none" stroke="#333" stroke-width="0.8"/>
<line x1="209.00" y1="38.00" x2="209.00" y2="103.00" stroke="#333" stroke-width="0.75" />
<path d="M207.40,40.60 L209.00,37.00 L210.60,40.60" fill="none" stroke="#333" stroke-width="0.8"/>
<path d="M207.40,100.40 L209.00,104.00 L210.60,100.40" fill="none" stroke="#333" stroke-width="0.8"/>
<rect x="110" y="120.5" width="40" height="7" fill="#fff"/>
<text x="129.70" y="126.20" font-size="6.2" fill="#222" stroke="#222" stroke-width="0.14" text-anchor="middle" textLength="38.60" lengthAdjust="spacingAndGlyphs" >185 RU IgG 1024</text>
<rect x="195.5" y="64" width="37.5" height="7" fill="#fff"/>
<text x="214.20" y="69.70" font-size="6.2" fill="#222" stroke="#222" stroke-width="0.14" text-anchor="middle" textLength="36.30" lengthAdjust="spacingAndGlyphs" >200 RU IgG 992</text>
<line x1="86.80" y1="165.20" x2="123.60" y2="165.20" stroke="#222" stroke-width="0.7" />
<path d="M85.80,165.20 L89.00,163.50 L89.00,166.90 Z" fill="#222"/>
<path d="M124.60,165.20 L121.40,163.50 L121.40,166.90 Z" fill="#222"/>
<line x1="170.80" y1="165.20" x2="208.20" y2="165.20" stroke="#222" stroke-width="0.7" />
<path d="M169.80,165.20 L173.00,163.50 L173.00,166.90 Z" fill="#222"/>
<path d="M209.20,165.20 L206.00,163.50 L206.00,166.90 Z" fill="#222"/>
<text x="106.20" y="163.30" font-size="6.2" fill="#222" text-anchor="middle" textLength="30.70" lengthAdjust="spacingAndGlyphs" stroke="#222" stroke-width="0.15">Association</text>
<text x="189.50" y="163.30" font-size="6.2" fill="#222" text-anchor="middle" textLength="30.70" lengthAdjust="spacingAndGlyphs" stroke="#222" stroke-width="0.15">Association</text>
<line x1="67.80" y1="38.30" x2="79.30" y2="38.30" stroke="#73907f" stroke-width="1.1" />
<text x="82.70" y="40.30" font-size="5.6" fill="#222" stroke="#222" stroke-width="0.14" textLength="62.92" lengthAdjust="spacingAndGlyphs" >IgG 1024 against IgG 1024</text>
<line x1="67.80" y1="44.75" x2="79.30" y2="44.75" stroke="#d8304a" stroke-width="1.1" />
<text x="82.70" y="46.75" font-size="5.6" fill="#222" stroke="#222" stroke-width="0.14" textLength="60.01" lengthAdjust="spacingAndGlyphs" >IgG 1024 against IgG 992</text>
<line x1="67.80" y1="51.20" x2="79.30" y2="51.20" stroke="#3232b4" stroke-width="1.1" />
<text x="82.70" y="53.20" font-size="5.6" fill="#222" stroke="#222" stroke-width="0.14" textLength="51.54" lengthAdjust="spacingAndGlyphs" >IgG 1024 dissociation</text>
<text x="259.30" y="20.90" font-size="10.8" fill="#111" stroke="#111" stroke-width="0.35" font-weight="bold" textLength="7.00" lengthAdjust="spacingAndGlyphs" >B</text>
<line x1="301.50" y1="43.20" x2="301.50" y2="172.00" stroke="#333" stroke-width="1.0" />
<line x1="301.00" y1="171.50" x2="493.20" y2="171.50" stroke="#333" stroke-width="1.0" />
<line x1="299.10" y1="171.50" x2="301.50" y2="171.50" stroke="#333" stroke-width="1.0" />
<text x="296.20" y="174.00" font-size="7.2" fill="#222" stroke="#222" stroke-width="0.24" text-anchor="end" textLength="3.72" lengthAdjust="spacingAndGlyphs" >0</text>
<line x1="299.10" y1="128.90" x2="301.50" y2="128.90" stroke="#333" stroke-width="1.0" />
<text x="296.20" y="131.40" font-size="7.2" fill="#222" stroke="#222" stroke-width="0.24" text-anchor="end" textLength="7.44" lengthAdjust="spacingAndGlyphs" >40</text>
<line x1="299.10" y1="86.30" x2="301.50" y2="86.30" stroke="#333" stroke-width="1.0" />
<text x="296.20" y="88.80" font-size="7.2" fill="#222" stroke="#222" stroke-width="0.24" text-anchor="end" textLength="7.44" lengthAdjust="spacingAndGlyphs" >80</text>
<line x1="299.10" y1="43.70" x2="301.50" y2="43.70" stroke="#333" stroke-width="1.0" />
<text x="296.20" y="46.20" font-size="7.2" fill="#222" stroke="#222" stroke-width="0.24" text-anchor="end" textLength="11.16" lengthAdjust="spacingAndGlyphs" >120</text>
<line x1="301.20" y1="171.50" x2="301.20" y2="173.80" stroke="#333" stroke-width="1.0" />
<line x1="333.15" y1="171.50" x2="333.15" y2="173.80" stroke="#333" stroke-width="1.0" />
<line x1="365.10" y1="171.50" x2="365.10" y2="173.80" stroke="#333" stroke-width="1.0" />
<line x1="397.05" y1="171.50" x2="397.05" y2="173.80" stroke="#333" stroke-width="1.0" />
<line x1="429.00" y1="171.50" x2="429.00" y2="173.80" stroke="#333" stroke-width="1.0" />
<line x1="460.95" y1="171.50" x2="460.95" y2="173.80" stroke="#333" stroke-width="1.0" />
<line x1="492.90" y1="171.50" x2="492.90" y2="173.80" stroke="#333" stroke-width="1.0" />
<text x="299.90" y="184.30" font-size="7.9" fill="#222" stroke="#222" stroke-width="0.24" text-anchor="middle" textLength="24.16" lengthAdjust="spacingAndGlyphs" >0.0001</text>
<text x="333.65" y="184.30" font-size="7.9" fill="#222" stroke="#222" stroke-width="0.24" text-anchor="middle" textLength="19.77" lengthAdjust="spacingAndGlyphs" >0.001</text>
<text x="365.60" y="184.30" font-size="7.9" fill="#222" stroke="#222" stroke-width="0.24" text-anchor="middle" textLength="15.37" lengthAdjust="spacingAndGlyphs" >0.01</text>
<text x="397.55" y="184.30" font-size="7.9" fill="#222" stroke="#222" stroke-width="0.24" text-anchor="middle" textLength="10.98" lengthAdjust="spacingAndGlyphs" >0.1</text>
<text x="429.50" y="184.30" font-size="7.9" fill="#222" stroke="#222" stroke-width="0.24" text-anchor="middle" textLength="4.39" lengthAdjust="spacingAndGlyphs" >1</text>
<text x="461.45" y="184.30" font-size="7.9" fill="#222" stroke="#222" stroke-width="0.24" text-anchor="middle" textLength="8.79" lengthAdjust="spacingAndGlyphs" >10</text>
<text x="493.40" y="184.30" font-size="7.9" fill="#222" stroke="#222" stroke-width="0.24" text-anchor="middle" textLength="13.18" lengthAdjust="spacingAndGlyphs" >100</text>
<text x="398.20" y="197.40" font-size="7.4" fill="#2a2a2a" stroke="#2a2a2a" stroke-width="0.05" text-anchor="middle" textLength="103.00" lengthAdjust="spacingAndGlyphs" >Antibody concentration (µg/mL)</text>
<text x="266.20" y="97.30" font-size="7.6" fill="#333" text-anchor="middle" textLength="70.60" lengthAdjust="spacingAndGlyphs" transform="rotate(-90 266.20 97.30)" >Metabolic  activity as</text>
<text x="275.30" y="97.30" font-size="7.6" fill="#333" text-anchor="middle" textLength="104.20" lengthAdjust="spacingAndGlyphs" transform="rotate(-90 275.30 97.30)" >percentage of untreated control</text>
<polyline points="333.1,64.4 333.8,64.7 334.4,65.0 335.1,65.3 335.7,65.6 336.3,65.9 337.0,66.2 337.6,66.5 338.3,66.9 338.9,67.2 339.5,67.5 340.2,67.9 340.8,68.2 341.5,68.6 342.1,68.9 342.7,69.3 343.4,69.7 344.0,70.0 344.7,70.4 345.3,70.8 345.9,71.2 346.6,71.6 347.2,72.0 347.8,72.4 348.5,72.8 349.1,73.2 349.8,73.6 350.4,74.0 351.0,74.4 351.7,74.8 352.3,75.3 353.0,75.7 353.6,76.1 354.2,76.6 354.9,77.0 355.5,77.4 356.2,77.9 356.8,78.3 357.4,78.8 358.1,79.2 358.7,79.7 359.3,80.1 360.0,80.6 360.6,81.0 361.3,81.5 361.9,82.0 362.5,82.4 363.2,82.9 363.8,83.3 364.5,83.8 365.1,84.3 365.7,84.7 366.4,85.2 367.0,85.6 367.7,86.1 368.3,86.6 368.9,87.0 369.6,87.5 370.2,87.9 370.9,88.4 371.5,88.8 372.1,89.3 372.8,89.7 373.4,90.2 374.0,90.6 374.7,91.1 375.3,91.5 376.0,91.9 376.6,92.4 377.2,92.8 377.9,93.2 378.5,93.7 379.2,94.1 379.8,94.5 380.4,94.9 381.1,95.3 381.7,95.7 382.4,96.1 383.0,96.5 383.6,96.9 384.3,97.3 384.9,97.7 385.5,98.0 386.2,98.4 386.8,98.8 387.5,99.2 388.1,99.5 388.7,99.9 389.4,100.2 390.0,100.6 390.7,100.9 391.3,101.2 391.9,101.6 392.6,101.9 393.2,102.2 393.9,102.5 394.5,102.8 395.1,103.2 395.8,103.5 396.4,103.8 397.0,104.0 397.7,104.3 398.3,104.6 399.0,104.9 399.6,105.2 400.2,105.4 400.9,105.7 401.5,105.9 402.2,106.2 402.8,106.4 403.4,106.7 404.1,106.9 404.7,107.2 405.4,107.4 406.0,107.6 406.6,107.8 407.3,108.0 407.9,108.2 408.6,108.5 409.2,108.7 409.8,108.9 410.5,109.0 411.1,109.2 411.7,109.4 412.4,109.6 413.0,109.8 413.7,109.9 414.3,110.1 414.9,110.3 415.6,110.4 416.2,110.6 416.9,110.8 417.5,110.9 418.1,111.1 418.8,111.2 419.4,111.3 420.1,111.5 420.7,111.6 421.3,111.7 422.0,111.9 422.6,112.0 423.2,112.1 423.9,112.2 424.5,112.4 425.2,112.5 425.8,112.6 426.4,112.7 427.1,112.8 427.7,112.9 428.4,113.0 429.0,113.1 429.6,113.2 430.3,113.3 430.9,113.4 431.6,113.5 432.2,113.5 432.8,113.6 433.5,113.7 434.1,113.8 434.8,113.9 435.4,113.9 436.0,114.0 436.7,114.1 437.3,114.2 437.9,114.2 438.6,114.3 439.2,114.4 439.9,114.4 440.5,114.5 441.1,114.5 441.8,114.6 442.4,114.7 443.1,114.7 443.7,114.8 444.3,114.8 445.0,114.9 445.6,114.9 446.3,115.0 446.9,115.0 447.5,115.1 448.2,115.1 448.8,115.1 449.4,115.2 450.1,115.2 450.7,115.3 451.4,115.3 452.0,115.3 452.6,115.4 453.3,115.4 453.9,115.5 454.6,115.5 455.2,115.5 455.8,115.6 456.5,115.6 457.1,115.6 457.8,115.6 458.4,115.7 459.0,115.7 459.7,115.7 460.3,115.8 460.9,115.8" fill="none" stroke="#f2a458" stroke-width="1.0" stroke-linejoin="round" />
<polyline points="333.2,64.6 334.3,65.1 335.3,65.6 336.4,66.1 337.5,66.6 338.5,67.0 339.6,67.5 340.7,67.8 341.8,68.2 342.8,68.5 343.9,68.8 345.0,69.1 346.0,69.4 347.1,69.6 348.2,69.9 349.2,70.2 350.3,70.5 351.4,70.8 352.4,71.1 353.5,71.5 354.6,71.8 355.7,72.3 356.7,72.8 357.8,73.3 358.9,73.9 359.9,74.5 361.0,75.2 362.1,75.8 363.1,76.5 364.2,77.2 365.3,77.9 366.3,78.6 367.4,79.4 368.5,80.2 369.6,81.1 370.6,82.1 371.7,83.2 372.8,84.4 373.8,85.7 374.9,87.0 376.0,88.5 377.0,90.0 378.1,91.7 379.2,93.4 380.2,95.4 381.3,97.5 382.4,99.7 383.5,102.0 384.5,104.3 385.6,106.6 386.7,109.0 387.7,111.5 388.8,114.1 389.9,116.6 390.9,119.0 392.0,121.3 393.1,123.5 394.1,125.8 395.2,128.0 396.3,130.2 397.4,132.2 398.4,134.1 399.5,135.8 400.6,137.2 401.6,138.5 402.7,139.7 403.8,140.8 404.8,141.8 405.9,142.7 407.0,143.6 408.0,144.4 409.1,145.2 410.2,145.9 411.2,146.6 412.3,147.2 413.4,147.8 414.5,148.4 415.5,149.0 416.6,149.5 417.7,150.0 418.7,150.4 419.8,150.9 420.9,151.4 421.9,151.8 423.0,152.3 424.1,152.7 425.1,153.1 426.2,153.5 427.3,153.9 428.4,154.3 429.4,154.6 430.5,154.9 431.6,155.1 432.6,155.4 433.7,155.6 434.8,155.9 435.8,156.1 436.9,156.3 438.0,156.5 439.0,156.7 440.1,156.9 441.2,157.0 442.3,157.2 443.3,157.3 444.4,157.4 445.5,157.5 446.5,157.6 447.6,157.7 448.7,157.8 449.7,157.8 450.8,157.9 451.9,158.0 452.9,158.0 454.0,158.1 455.1,158.1 456.2,158.2 457.2,158.2 458.3,158.3 459.4,158.3 460.4,158.3 461.5,158.3" fill="none" stroke="#92bde8" stroke-width="1.0" stroke-linejoin="round" />
<polyline points="333.2,64.6 334.3,65.2 335.3,65.7 336.4,66.3 337.5,66.9 338.5,67.5 339.6,68.0 340.7,68.6 341.8,69.2 342.8,69.8 343.9,70.4 345.0,71.0 346.0,71.6 347.1,72.1 348.2,72.6 349.2,73.2 350.3,73.7 351.4,74.4 352.4,75.1 353.5,75.9 354.6,76.8 355.7,78.0 356.7,79.6 357.8,81.6 358.9,83.7 359.9,85.9 361.0,88.1 362.1,90.1 363.1,92.0 364.2,93.9 365.3,95.7 366.3,97.6 367.4,99.5 368.5,101.5 369.6,103.6 370.6,105.8 371.7,108.1 372.8,110.6 373.8,113.1 374.9,115.7 376.0,118.3 377.0,120.8 378.1,123.2 379.2,125.7 380.2,128.2 381.3,130.8 382.4,133.2 383.5,135.5 384.5,137.6 385.6,139.5 386.7,141.2 387.7,142.9 388.8,144.4 389.9,145.8 390.9,147.0 392.0,148.0 393.1,148.8 394.1,149.6 395.2,150.3 396.3,151.0 397.4,151.6 398.4,152.1 399.5,152.5 400.6,152.8 401.6,153.0 402.7,153.3 403.8,153.5 404.8,153.7 405.9,153.8 407.0,154.0 408.0,154.2 409.1,154.3 410.2,154.4 411.2,154.5 412.3,154.6 413.4,154.7 414.5,154.8 415.5,154.8 416.6,154.9 417.7,154.9 418.7,155.0 419.8,155.0 420.9,155.1 421.9,155.1 423.0,155.1 424.1,155.2 425.1,155.2 426.2,155.2 427.3,155.3 428.4,155.3 429.4,155.3 430.5,155.3 431.6,155.3 432.6,155.3 433.7,155.3 434.8,155.3 435.8,155.3 436.9,155.3 438.0,155.3 439.0,155.3 440.1,155.4 441.2,155.4 442.3,155.4 443.3,155.4 444.4,155.4 445.5,155.4 446.5,155.4 447.6,155.4 448.7,155.4 449.7,155.4 450.8,155.4 451.9,155.4 452.9,155.4 454.0,155.4 455.1,155.4 456.2,155.4 457.2,155.4 458.3,155.4 459.4,155.4 460.4,155.4 461.5,155.4" fill="none" stroke="#2fae3a" stroke-width="1.05" stroke-linejoin="round" />
<line x1="333.15" y1="60.40" x2="333.15" y2="69.40" stroke="#666" stroke-width="0.8" />
<line x1="331.85" y1="60.40" x2="334.45" y2="60.40" stroke="#666" stroke-width="0.8" />
<line x1="331.85" y1="69.40" x2="334.45" y2="69.40" stroke="#666" stroke-width="0.8" />
<line x1="354.23" y1="67.00" x2="354.23" y2="87.70" stroke="#666" stroke-width="0.8" />
<line x1="352.93" y1="67.00" x2="355.53" y2="67.00" stroke="#666" stroke-width="0.8" />
<line x1="352.93" y1="87.70" x2="355.53" y2="87.70" stroke="#666" stroke-width="0.8" />
<line x1="369.47" y1="63.50" x2="369.47" y2="86.70" stroke="#666" stroke-width="0.8" />
<line x1="368.17" y1="63.50" x2="370.77" y2="63.50" stroke="#666" stroke-width="0.8" />
<line x1="368.17" y1="86.70" x2="370.77" y2="86.70" stroke="#666" stroke-width="0.8" />
<line x1="384.75" y1="63.00" x2="384.75" y2="93.50" stroke="#666" stroke-width="0.8" />
<line x1="383.45" y1="63.00" x2="386.05" y2="63.00" stroke="#666" stroke-width="0.8" />
<line x1="383.45" y1="93.50" x2="386.05" y2="93.50" stroke="#666" stroke-width="0.8" />
<line x1="399.98" y1="61.20" x2="399.98" y2="86.70" stroke="#666" stroke-width="0.8" />
<line x1="398.68" y1="61.20" x2="401.28" y2="61.20" stroke="#666" stroke-width="0.8" />
<line x1="398.68" y1="86.70" x2="401.28" y2="86.70" stroke="#666" stroke-width="0.8" />
<line x1="415.22" y1="59.20" x2="415.22" y2="81.50" stroke="#666" stroke-width="0.8" />
<line x1="413.92" y1="59.20" x2="416.52" y2="59.20" stroke="#666" stroke-width="0.8" />
<line x1="413.92" y1="81.50" x2="416.52" y2="81.50" stroke="#666" stroke-width="0.8" />
<line x1="430.46" y1="60.50" x2="430.46" y2="81.50" stroke="#666" stroke-width="0.8" />
<line x1="429.16" y1="60.50" x2="431.76" y2="60.50" stroke="#666" stroke-width="0.8" />
<line x1="429.16" y1="81.50" x2="431.76" y2="81.50" stroke="#666" stroke-width="0.8" />
<line x1="460.95" y1="83.50" x2="460.95" y2="93.00" stroke="#666" stroke-width="0.8" />
<line x1="459.65" y1="83.50" x2="462.25" y2="83.50" stroke="#666" stroke-width="0.8" />
<line x1="459.65" y1="93.00" x2="462.25" y2="93.00" stroke="#666" stroke-width="0.8" />
<polyline points="333.1,64.6 354.2,77.5 369.5,76.5 384.7,78.5 400.0,74.0 415.2,70.0 430.5,70.5 445.7,64.6 460.9,88.5" fill="none" stroke="#1a1a1a" stroke-width="1.0" stroke-linejoin="round" />
<circle cx="333.15" cy="64.60" r="1.5" fill="#111"/>
<circle cx="354.23" cy="77.50" r="1.5" fill="#111"/>
<circle cx="369.47" cy="76.50" r="1.5" fill="#111"/>
<circle cx="384.75" cy="78.50" r="1.5" fill="#111"/>
<circle cx="399.98" cy="74.00" r="1.5" fill="#111"/>
<circle cx="415.22" cy="70.00" r="1.5" fill="#111"/>
<circle cx="430.46" cy="70.50" r="1.5" fill="#111"/>
<circle cx="445.70" cy="64.60" r="1.5" fill="#111"/>
<circle cx="460.95" cy="88.50" r="1.5" fill="#111"/>
<line x1="333.15" y1="62.40" x2="333.15" y2="66.80" stroke="#f2a458" stroke-width="0.7" />
<line x1="331.95" y1="62.40" x2="334.35" y2="62.40" stroke="#f2a458" stroke-width="0.7" />
<line x1="331.95" y1="66.80" x2="334.35" y2="66.80" stroke="#f2a458" stroke-width="0.7" />
<path d="M331.55,65.80 L334.75,65.80 L333.15,63.08 Z" fill="#f2a458"/>
<line x1="354.23" y1="74.80" x2="354.23" y2="79.20" stroke="#f2a458" stroke-width="0.7" />
<line x1="353.03" y1="74.80" x2="355.43" y2="74.80" stroke="#f2a458" stroke-width="0.7" />
<line x1="353.03" y1="79.20" x2="355.43" y2="79.20" stroke="#f2a458" stroke-width="0.7" />
<path d="M352.63,78.20 L355.83,78.20 L354.23,75.48 Z" fill="#f2a458"/>
<line x1="369.47" y1="85.10" x2="369.47" y2="89.50" stroke="#f2a458" stroke-width="0.7" />
<line x1="368.27" y1="85.10" x2="370.67" y2="85.10" stroke="#f2a458" stroke-width="0.7" />
<line x1="368.27" y1="89.50" x2="370.67" y2="89.50" stroke="#f2a458" stroke-width="0.7" />
<path d="M367.87,88.50 L371.07,88.50 L369.47,85.78 Z" fill="#f2a458"/>
<line x1="384.75" y1="97.30" x2="384.75" y2="101.70" stroke="#f2a458" stroke-width="0.7" />
<line x1="383.55" y1="97.30" x2="385.95" y2="97.30" stroke="#f2a458" stroke-width="0.7" />
<line x1="383.55" y1="101.70" x2="385.95" y2="101.70" stroke="#f2a458" stroke-width="0.7" />
<path d="M383.15,100.70 L386.35,100.70 L384.75,97.98 Z" fill="#f2a458"/>
<line x1="399.98" y1="104.10" x2="399.98" y2="108.50" stroke="#f2a458" stroke-width="0.7" />
<line x1="398.78" y1="104.10" x2="401.18" y2="104.10" stroke="#f2a458" stroke-width="0.7" />
<line x1="398.78" y1="108.50" x2="401.18" y2="108.50" stroke="#f2a458" stroke-width="0.7" />
<path d="M398.38,107.50 L401.58,107.50 L399.98,104.78 Z" fill="#f2a458"/>
<line x1="415.22" y1="107.50" x2="415.22" y2="111.90" stroke="#f2a458" stroke-width="0.7" />
<line x1="414.02" y1="107.50" x2="416.42" y2="107.50" stroke="#f2a458" stroke-width="0.7" />
<line x1="414.02" y1="111.90" x2="416.42" y2="111.90" stroke="#f2a458" stroke-width="0.7" />
<path d="M413.62,110.90 L416.82,110.90 L415.22,108.18 Z" fill="#f2a458"/>
<line x1="430.46" y1="110.00" x2="430.46" y2="114.40" stroke="#f2a458" stroke-width="0.7" />
<line x1="429.26" y1="110.00" x2="431.66" y2="110.00" stroke="#f2a458" stroke-width="0.7" />
<line x1="429.26" y1="114.40" x2="431.66" y2="114.40" stroke="#f2a458" stroke-width="0.7" />
<path d="M428.86,113.40 L432.06,113.40 L430.46,110.68 Z" fill="#f2a458"/>
<line x1="445.70" y1="113.60" x2="445.70" y2="118.00" stroke="#f2a458" stroke-width="0.7" />
<line x1="444.50" y1="113.60" x2="446.90" y2="113.60" stroke="#f2a458" stroke-width="0.7" />
<line x1="444.50" y1="118.00" x2="446.90" y2="118.00" stroke="#f2a458" stroke-width="0.7" />
<path d="M444.10,117.00 L447.30,117.00 L445.70,114.28 Z" fill="#f2a458"/>
<line x1="460.95" y1="114.70" x2="460.95" y2="119.10" stroke="#f2a458" stroke-width="0.7" />
<line x1="459.75" y1="114.70" x2="462.15" y2="114.70" stroke="#f2a458" stroke-width="0.7" />
<line x1="459.75" y1="119.10" x2="462.15" y2="119.10" stroke="#f2a458" stroke-width="0.7" />
<path d="M459.35,118.10 L462.55,118.10 L460.95,115.38 Z" fill="#f2a458"/>
<rect x="331.85" y="63.30" width="2.60" height="2.60" fill="#92bde8"/>
<rect x="352.93" y="73.70" width="2.60" height="2.60" fill="#92bde8"/>
<rect x="368.17" y="80.80" width="2.60" height="2.60" fill="#92bde8"/>
<rect x="383.45" y="105.20" width="2.60" height="2.60" fill="#92bde8"/>
<rect x="398.68" y="135.70" width="2.60" height="2.60" fill="#92bde8"/>
<rect x="413.92" y="147.40" width="2.60" height="2.60" fill="#92bde8"/>
<rect x="429.16" y="153.70" width="2.60" height="2.60" fill="#92bde8"/>
<rect x="444.40" y="157.50" width="2.60" height="2.60" fill="#92bde8"/>
<rect x="459.65" y="157.20" width="2.60" height="2.60" fill="#92bde8"/>
<path d="M331.55,63.40 L334.75,63.40 L333.15,66.12 Z" fill="#2fae3a"/>
<path d="M352.63,75.80 L355.83,75.80 L354.23,78.52 Z" fill="#2fae3a"/>
<path d="M367.87,102.50 L371.07,102.50 L369.47,105.22 Z" fill="#2fae3a"/>
<path d="M383.15,139.00 L386.35,139.00 L384.75,141.72 Z" fill="#2fae3a"/>
<path d="M398.38,151.70 L401.58,151.70 L399.98,154.42 Z" fill="#2fae3a"/>
<path d="M413.62,153.00 L416.82,153.00 L415.22,155.72 Z" fill="#2fae3a"/>
<line x1="430.46" y1="149.40" x2="430.46" y2="154.40" stroke="#2fae3a" stroke-width="0.7" />
<line x1="429.26" y1="149.40" x2="431.66" y2="149.40" stroke="#2fae3a" stroke-width="0.7" />
<line x1="429.26" y1="154.40" x2="431.66" y2="154.40" stroke="#2fae3a" stroke-width="0.7" />
<path d="M428.86,150.70 L432.06,150.70 L430.46,153.42 Z" fill="#2fae3a"/>
<path d="M444.10,151.30 L447.30,151.30 L445.70,154.02 Z" fill="#2fae3a"/>
<path d="M459.35,157.20 L462.55,157.20 L460.95,159.92 Z" fill="#2fae3a"/>
<line x1="333.15" y1="60.40" x2="333.15" y2="69.40" stroke="#4a8a4a" stroke-width="0.7" />
<line x1="331.95" y1="60.40" x2="334.35" y2="60.40" stroke="#4a8a4a" stroke-width="0.7" />
<line x1="331.95" y1="69.40" x2="334.35" y2="69.40" stroke="#4a8a4a" stroke-width="0.7" />
<line x1="308.40" y1="129.70" x2="318.00" y2="129.70" stroke="#111" stroke-width="1.0" />
<circle cx="313.2" cy="129.70" r="1.4" fill="#111"/>
<text x="322.00" y="132.50" font-size="7.7" fill="#222" stroke="#222" stroke-width="0.24" textLength="42.79" lengthAdjust="spacingAndGlyphs" >Control mAb</text>
<line x1="308.40" y1="139.05" x2="318.00" y2="139.05" stroke="#92bde8" stroke-width="1.0" />
<rect x="312.00" y="137.85" width="2.40" height="2.40" fill="#92bde8"/>
<text x="322.00" y="141.85" font-size="7.7" fill="#222" stroke="#222" stroke-width="0.24" textLength="12.85" lengthAdjust="spacingAndGlyphs" >992</text>
<line x1="308.40" y1="148.40" x2="318.00" y2="148.40" stroke="#f2a458" stroke-width="1.0" />
<path d="M311.70,149.52 L314.70,149.52 L313.20,146.97 Z" fill="#f2a458"/>
<text x="322.00" y="151.20" font-size="7.7" fill="#222" stroke="#222" stroke-width="0.24" textLength="17.13" lengthAdjust="spacingAndGlyphs" >1024</text>
<line x1="308.40" y1="157.75" x2="318.00" y2="157.75" stroke="#2fae3a" stroke-width="1.0" />
<path d="M311.70,156.62 L314.70,156.62 L313.20,159.18 Z" fill="#2fae3a"/>
<text x="322.00" y="160.55" font-size="7.7" fill="#222" stroke="#222" stroke-width="0.24" textLength="28.25" lengthAdjust="spacingAndGlyphs" >Sym004</text>
<text x="13.50" y="217.30" font-size="10.8" fill="#111" stroke="#111" stroke-width="0.35" font-weight="bold" textLength="7.00" lengthAdjust="spacingAndGlyphs" >C</text>
<line x1="49.50" y1="223.00" x2="49.50" y2="354.00" stroke="#333" stroke-width="1.0" />
<line x1="49.00" y1="353.50" x2="246.20" y2="353.50" stroke="#333" stroke-width="1.0" />
<line x1="48.00" y1="353.50" x2="49.50" y2="353.50" stroke="#333" stroke-width="1.0" />
<text x="47.70" y="356.10" font-size="7.2" fill="#222" stroke="#222" stroke-width="0.24" text-anchor="end" textLength="3.89" lengthAdjust="spacingAndGlyphs" >0</text>
<line x1="48.00" y1="331.80" x2="49.50" y2="331.80" stroke="#333" stroke-width="1.0" />
<text x="47.70" y="334.40" font-size="7.2" fill="#222" stroke="#222" stroke-width="0.24" text-anchor="end" textLength="7.79" lengthAdjust="spacingAndGlyphs" >20</text>
<line x1="48.00" y1="310.10" x2="49.50" y2="310.10" stroke="#333" stroke-width="1.0" />
<text x="47.70" y="312.70" font-size="7.2" fill="#222" stroke="#222" stroke-width="0.24" text-anchor="end" textLength="7.79" lengthAdjust="spacingAndGlyphs" >40</text>
<line x1="48.00" y1="288.40" x2="49.50" y2="288.40" stroke="#333" stroke-width="1.0" />
<text x="47.70" y="291.00" font-size="7.2" fill="#222" stroke="#222" stroke-width="0.24" text-anchor="end" textLength="7.79" lengthAdjust="spacingAndGlyphs" >60</text>
<line x1="48.00" y1="266.70" x2="49.50" y2="266.70" stroke="#333" stroke-width="1.0" />
<text x="47.70" y="269.30" font-size="7.2" fill="#222" stroke="#222" stroke-width="0.24" text-anchor="end" textLength="7.79" lengthAdjust="spacingAndGlyphs" >80</text>
<line x1="48.00" y1="245.00" x2="49.50" y2="245.00" stroke="#333" stroke-width="1.0" />
<text x="47.70" y="247.60" font-size="7.2" fill="#222" stroke="#222" stroke-width="0.24" text-anchor="end" textLength="11.68" lengthAdjust="spacingAndGlyphs" >100</text>
<line x1="48.00" y1="223.30" x2="49.50" y2="223.30" stroke="#333" stroke-width="1.0" />
<text x="47.70" y="225.90" font-size="7.2" fill="#222" stroke="#222" stroke-width="0.24" text-anchor="end" textLength="11.68" lengthAdjust="spacingAndGlyphs" >120</text>
<line x1="49.20" y1="353.50" x2="49.20" y2="355.60" stroke="#333" stroke-width="1.0" />
<line x1="84.90" y1="353.50" x2="84.90" y2="355.60" stroke="#333" stroke-width="1.0" />
<line x1="120.60" y1="353.50" x2="120.60" y2="355.60" stroke="#333" stroke-width="1.0" />
<line x1="156.30" y1="353.50" x2="156.30" y2="355.60" stroke="#333" stroke-width="1.0" />
<line x1="192.00" y1="353.50" x2="192.00" y2="355.60" stroke="#333" stroke-width="1.0" />
<line x1="227.70" y1="353.50" x2="227.70" y2="355.60" stroke="#333" stroke-width="1.0" />
<text x="49.20" y="361.90" font-size="7.3" fill="#222" stroke="#222" stroke-width="0.24" text-anchor="middle" textLength="22.33" lengthAdjust="spacingAndGlyphs" >0.0001</text>
<text x="84.90" y="361.90" font-size="7.3" fill="#222" stroke="#222" stroke-width="0.24" text-anchor="middle" textLength="18.27" lengthAdjust="spacingAndGlyphs" >0.001</text>
<text x="120.60" y="361.90" font-size="7.3" fill="#222" stroke="#222" stroke-width="0.24" text-anchor="middle" textLength="14.21" lengthAdjust="spacingAndGlyphs" >0.01</text>
<text x="156.30" y="361.90" font-size="7.3" fill="#222" stroke="#222" stroke-width="0.24" text-anchor="middle" textLength="10.15" lengthAdjust="spacingAndGlyphs" >0.1</text>
<text x="192.00" y="361.90" font-size="7.3" fill="#222" stroke="#222" stroke-width="0.24" text-anchor="middle" textLength="4.06" lengthAdjust="spacingAndGlyphs" >1</text>
<text x="227.70" y="361.90" font-size="7.3" fill="#222" stroke="#222" stroke-width="0.24" text-anchor="middle" textLength="8.12" lengthAdjust="spacingAndGlyphs" >10</text>
<text x="148.40" y="375.40" font-size="7.5" fill="#2a2a2a" stroke="#2a2a2a" stroke-width="0.05" text-anchor="middle" textLength="103.80" lengthAdjust="spacingAndGlyphs" >Antibody concentration (µg/mL)</text>
<text x="20.70" y="285.00" font-size="7.6" fill="#333" text-anchor="middle" textLength="71.10" lengthAdjust="spacingAndGlyphs" transform="rotate(-90 20.70 285.00)" >Metabolic  activity as</text>
<text x="29.00" y="284.80" font-size="7.6" fill="#333" text-anchor="middle" textLength="104.90" lengthAdjust="spacingAndGlyphs" transform="rotate(-90 29.00 284.80)" >percentage of untreated control</text>
<line x1="84.90" y1="237.92" x2="84.90" y2="240.67" stroke="#ecb87a" stroke-width="0.6" />
<line x1="84.00" y1="237.92" x2="85.80" y2="237.92" stroke="#ecb87a" stroke-width="0.6" />
<line x1="84.00" y1="240.67" x2="85.80" y2="240.67" stroke="#ecb87a" stroke-width="0.6" />
<line x1="108.46" y1="237.60" x2="108.46" y2="239.96" stroke="#ecb87a" stroke-width="0.6" />
<line x1="107.56" y1="237.60" x2="109.36" y2="237.60" stroke="#ecb87a" stroke-width="0.6" />
<line x1="107.56" y1="239.96" x2="109.36" y2="239.96" stroke="#ecb87a" stroke-width="0.6" />
<line x1="125.48" y1="238.99" x2="125.48" y2="242.82" stroke="#ecb87a" stroke-width="0.6" />
<line x1="124.58" y1="238.99" x2="126.38" y2="238.99" stroke="#ecb87a" stroke-width="0.6" />
<line x1="124.58" y1="242.82" x2="126.38" y2="242.82" stroke="#ecb87a" stroke-width="0.6" />
<line x1="142.55" y1="243.51" x2="142.55" y2="248.05" stroke="#ecb87a" stroke-width="0.6" />
<line x1="141.65" y1="243.51" x2="143.45" y2="243.51" stroke="#ecb87a" stroke-width="0.6" />
<line x1="141.65" y1="248.05" x2="143.45" y2="248.05" stroke="#ecb87a" stroke-width="0.6" />
<line x1="159.57" y1="247.19" x2="159.57" y2="251.36" stroke="#ecb87a" stroke-width="0.6" />
<line x1="158.67" y1="247.19" x2="160.47" y2="247.19" stroke="#ecb87a" stroke-width="0.6" />
<line x1="158.67" y1="251.36" x2="160.47" y2="251.36" stroke="#ecb87a" stroke-width="0.6" />
<line x1="176.60" y1="252.77" x2="176.60" y2="255.22" stroke="#ecb87a" stroke-width="0.6" />
<line x1="175.70" y1="252.77" x2="177.50" y2="252.77" stroke="#ecb87a" stroke-width="0.6" />
<line x1="175.70" y1="255.22" x2="177.50" y2="255.22" stroke="#ecb87a" stroke-width="0.6" />
<line x1="193.63" y1="255.83" x2="193.63" y2="261.96" stroke="#ecb87a" stroke-width="0.6" />
<line x1="192.73" y1="255.83" x2="194.53" y2="255.83" stroke="#ecb87a" stroke-width="0.6" />
<line x1="192.73" y1="261.96" x2="194.53" y2="261.96" stroke="#ecb87a" stroke-width="0.6" />
<line x1="210.67" y1="267.99" x2="210.67" y2="271.11" stroke="#ecb87a" stroke-width="0.6" />
<line x1="209.77" y1="267.99" x2="211.57" y2="267.99" stroke="#ecb87a" stroke-width="0.6" />
<line x1="209.77" y1="271.11" x2="211.57" y2="271.11" stroke="#ecb87a" stroke-width="0.6" />
<line x1="227.70" y1="274.58" x2="227.70" y2="281.32" stroke="#ecb87a" stroke-width="0.6" />
<line x1="226.80" y1="274.58" x2="228.60" y2="274.58" stroke="#ecb87a" stroke-width="0.6" />
<line x1="226.80" y1="281.32" x2="228.60" y2="281.32" stroke="#ecb87a" stroke-width="0.6" />
<line x1="84.90" y1="241.60" x2="84.90" y2="245.58" stroke="#8fc0ea" stroke-width="0.6" />
<line x1="84.00" y1="241.60" x2="85.80" y2="241.60" stroke="#8fc0ea" stroke-width="0.6" />
<line x1="84.00" y1="245.58" x2="85.80" y2="245.58" stroke="#8fc0ea" stroke-width="0.6" />
<line x1="108.46" y1="240.92" x2="108.46" y2="243.15" stroke="#8fc0ea" stroke-width="0.6" />
<line x1="107.56" y1="240.92" x2="109.36" y2="240.92" stroke="#8fc0ea" stroke-width="0.6" />
<line x1="107.56" y1="243.15" x2="109.36" y2="243.15" stroke="#8fc0ea" stroke-width="0.6" />
<line x1="125.48" y1="242.04" x2="125.48" y2="245.49" stroke="#8fc0ea" stroke-width="0.6" />
<line x1="124.58" y1="242.04" x2="126.38" y2="242.04" stroke="#8fc0ea" stroke-width="0.6" />
<line x1="124.58" y1="245.49" x2="126.38" y2="245.49" stroke="#8fc0ea" stroke-width="0.6" />
<line x1="142.55" y1="248.71" x2="142.55" y2="251.30" stroke="#8fc0ea" stroke-width="0.6" />
<line x1="141.65" y1="248.71" x2="143.45" y2="248.71" stroke="#8fc0ea" stroke-width="0.6" />
<line x1="141.65" y1="251.30" x2="143.45" y2="251.30" stroke="#8fc0ea" stroke-width="0.6" />
<line x1="159.57" y1="250.93" x2="159.57" y2="257.01" stroke="#8fc0ea" stroke-width="0.6" />
<line x1="158.67" y1="250.93" x2="160.47" y2="250.93" stroke="#8fc0ea" stroke-width="0.6" />
<line x1="158.67" y1="257.01" x2="160.47" y2="257.01" stroke="#8fc0ea" stroke-width="0.6" />
<line x1="176.60" y1="261.35" x2="176.60" y2="266.26" stroke="#8fc0ea" stroke-width="0.6" />
<line x1="175.70" y1="261.35" x2="177.50" y2="261.35" stroke="#8fc0ea" stroke-width="0.6" />
<line x1="175.70" y1="266.26" x2="177.50" y2="266.26" stroke="#8fc0ea" stroke-width="0.6" />
<line x1="193.63" y1="274.08" x2="193.63" y2="277.94" stroke="#8fc0ea" stroke-width="0.6" />
<line x1="192.73" y1="274.08" x2="194.53" y2="274.08" stroke="#8fc0ea" stroke-width="0.6" />
<line x1="192.73" y1="277.94" x2="194.53" y2="277.94" stroke="#8fc0ea" stroke-width="0.6" />
<line x1="210.67" y1="293.77" x2="210.67" y2="296.08" stroke="#8fc0ea" stroke-width="0.6" />
<line x1="209.77" y1="293.77" x2="211.57" y2="293.77" stroke="#8fc0ea" stroke-width="0.6" />
<line x1="209.77" y1="296.08" x2="211.57" y2="296.08" stroke="#8fc0ea" stroke-width="0.6" />
<line x1="227.70" y1="313.16" x2="227.70" y2="316.19" stroke="#8fc0ea" stroke-width="0.6" />
<line x1="226.80" y1="313.16" x2="228.60" y2="313.16" stroke="#8fc0ea" stroke-width="0.6" />
<line x1="226.80" y1="316.19" x2="228.60" y2="316.19" stroke="#8fc0ea" stroke-width="0.6" />
<line x1="84.90" y1="236.85" x2="84.90" y2="240.99" stroke="#98a84a" stroke-width="0.6" />
<line x1="84.00" y1="236.85" x2="85.80" y2="236.85" stroke="#98a84a" stroke-width="0.6" />
<line x1="84.00" y1="240.99" x2="85.80" y2="240.99" stroke="#98a84a" stroke-width="0.6" />
<line x1="108.46" y1="240.73" x2="108.46" y2="245.65" stroke="#98a84a" stroke-width="0.6" />
<line x1="107.56" y1="240.73" x2="109.36" y2="240.73" stroke="#98a84a" stroke-width="0.6" />
<line x1="107.56" y1="245.65" x2="109.36" y2="245.65" stroke="#98a84a" stroke-width="0.6" />
<line x1="125.48" y1="243.55" x2="125.48" y2="247.05" stroke="#98a84a" stroke-width="0.6" />
<line x1="124.58" y1="243.55" x2="126.38" y2="243.55" stroke="#98a84a" stroke-width="0.6" />
<line x1="124.58" y1="247.05" x2="126.38" y2="247.05" stroke="#98a84a" stroke-width="0.6" />
<line x1="142.55" y1="245.15" x2="142.55" y2="250.65" stroke="#98a84a" stroke-width="0.6" />
<line x1="141.65" y1="245.15" x2="143.45" y2="245.15" stroke="#98a84a" stroke-width="0.6" />
<line x1="141.65" y1="250.65" x2="143.45" y2="250.65" stroke="#98a84a" stroke-width="0.6" />
<line x1="159.57" y1="255.06" x2="159.57" y2="259.93" stroke="#98a84a" stroke-width="0.6" />
<line x1="158.67" y1="255.06" x2="160.47" y2="255.06" stroke="#98a84a" stroke-width="0.6" />
<line x1="158.67" y1="259.93" x2="160.47" y2="259.93" stroke="#98a84a" stroke-width="0.6" />
<line x1="176.60" y1="262.01" x2="176.60" y2="268.38" stroke="#98a84a" stroke-width="0.6" />
<line x1="175.70" y1="262.01" x2="177.50" y2="262.01" stroke="#98a84a" stroke-width="0.6" />
<line x1="175.70" y1="268.38" x2="177.50" y2="268.38" stroke="#98a84a" stroke-width="0.6" />
<line x1="193.63" y1="274.18" x2="193.63" y2="277.61" stroke="#98a84a" stroke-width="0.6" />
<line x1="192.73" y1="274.18" x2="194.53" y2="274.18" stroke="#98a84a" stroke-width="0.6" />
<line x1="192.73" y1="277.61" x2="194.53" y2="277.61" stroke="#98a84a" stroke-width="0.6" />
<line x1="210.67" y1="286.77" x2="210.67" y2="289.36" stroke="#98a84a" stroke-width="0.6" />
<line x1="209.77" y1="286.77" x2="211.57" y2="286.77" stroke="#98a84a" stroke-width="0.6" />
<line x1="209.77" y1="289.36" x2="211.57" y2="289.36" stroke="#98a84a" stroke-width="0.6" />
<line x1="227.70" y1="301.88" x2="227.70" y2="307.67" stroke="#98a84a" stroke-width="0.6" />
<line x1="226.80" y1="301.88" x2="228.60" y2="301.88" stroke="#98a84a" stroke-width="0.6" />
<line x1="226.80" y1="307.67" x2="228.60" y2="307.67" stroke="#98a84a" stroke-width="0.6" />
<line x1="84.90" y1="240.15" x2="84.90" y2="244.59" stroke="#b09050" stroke-width="0.6" />
<line x1="84.00" y1="240.15" x2="85.80" y2="240.15" stroke="#b09050" stroke-width="0.6" />
<line x1="84.00" y1="244.59" x2="85.80" y2="244.59" stroke="#b09050" stroke-width="0.6" />
<line x1="108.46" y1="241.24" x2="108.46" y2="246.58" stroke="#b09050" stroke-width="0.6" />
<line x1="107.56" y1="241.24" x2="109.36" y2="241.24" stroke="#b09050" stroke-width="0.6" />
<line x1="107.56" y1="246.58" x2="109.36" y2="246.58" stroke="#b09050" stroke-width="0.6" />
<line x1="125.48" y1="239.31" x2="125.48" y2="244.18" stroke="#b09050" stroke-width="0.6" />
<line x1="124.58" y1="239.31" x2="126.38" y2="239.31" stroke="#b09050" stroke-width="0.6" />
<line x1="124.58" y1="244.18" x2="126.38" y2="244.18" stroke="#b09050" stroke-width="0.6" />
<line x1="142.55" y1="243.35" x2="142.55" y2="246.92" stroke="#b09050" stroke-width="0.6" />
<line x1="141.65" y1="243.35" x2="143.45" y2="243.35" stroke="#b09050" stroke-width="0.6" />
<line x1="141.65" y1="246.92" x2="143.45" y2="246.92" stroke="#b09050" stroke-width="0.6" />
<line x1="159.57" y1="251.88" x2="159.57" y2="256.85" stroke="#b09050" stroke-width="0.6" />
<line x1="158.67" y1="251.88" x2="160.47" y2="251.88" stroke="#b09050" stroke-width="0.6" />
<line x1="158.67" y1="256.85" x2="160.47" y2="256.85" stroke="#b09050" stroke-width="0.6" />
<line x1="176.60" y1="267.55" x2="176.60" y2="271.83" stroke="#b09050" stroke-width="0.6" />
<line x1="175.70" y1="267.55" x2="177.50" y2="267.55" stroke="#b09050" stroke-width="0.6" />
<line x1="175.70" y1="271.83" x2="177.50" y2="271.83" stroke="#b09050" stroke-width="0.6" />
<line x1="193.63" y1="285.15" x2="193.63" y2="291.88" stroke="#b09050" stroke-width="0.6" />
<line x1="192.73" y1="285.15" x2="194.53" y2="285.15" stroke="#b09050" stroke-width="0.6" />
<line x1="192.73" y1="291.88" x2="194.53" y2="291.88" stroke="#b09050" stroke-width="0.6" />
<line x1="210.67" y1="307.66" x2="210.67" y2="312.98" stroke="#b09050" stroke-width="0.6" />
<line x1="209.77" y1="307.66" x2="211.57" y2="307.66" stroke="#b09050" stroke-width="0.6" />
<line x1="209.77" y1="312.98" x2="211.57" y2="312.98" stroke="#b09050" stroke-width="0.6" />
<line x1="227.70" y1="323.72" x2="227.70" y2="329.23" stroke="#b09050" stroke-width="0.6" />
<line x1="226.80" y1="323.72" x2="228.60" y2="323.72" stroke="#b09050" stroke-width="0.6" />
<line x1="226.80" y1="329.23" x2="228.60" y2="329.23" stroke="#b09050" stroke-width="0.6" />
<line x1="84.90" y1="239.62" x2="84.90" y2="246.59" stroke="#2a3890" stroke-width="0.6" />
<line x1="84.00" y1="239.62" x2="85.80" y2="239.62" stroke="#2a3890" stroke-width="0.6" />
<line x1="84.00" y1="246.59" x2="85.80" y2="246.59" stroke="#2a3890" stroke-width="0.6" />
<line x1="108.46" y1="242.45" x2="108.46" y2="245.87" stroke="#2a3890" stroke-width="0.6" />
<line x1="107.56" y1="242.45" x2="109.36" y2="242.45" stroke="#2a3890" stroke-width="0.6" />
<line x1="107.56" y1="245.87" x2="109.36" y2="245.87" stroke="#2a3890" stroke-width="0.6" />
<line x1="125.48" y1="246.61" x2="125.48" y2="251.96" stroke="#2a3890" stroke-width="0.6" />
<line x1="124.58" y1="246.61" x2="126.38" y2="246.61" stroke="#2a3890" stroke-width="0.6" />
<line x1="124.58" y1="251.96" x2="126.38" y2="251.96" stroke="#2a3890" stroke-width="0.6" />
<line x1="142.55" y1="253.75" x2="142.55" y2="258.06" stroke="#2a3890" stroke-width="0.6" />
<line x1="141.65" y1="253.75" x2="143.45" y2="253.75" stroke="#2a3890" stroke-width="0.6" />
<line x1="141.65" y1="258.06" x2="143.45" y2="258.06" stroke="#2a3890" stroke-width="0.6" />
<line x1="159.57" y1="261.22" x2="159.57" y2="263.81" stroke="#2a3890" stroke-width="0.6" />
<line x1="158.67" y1="261.22" x2="160.47" y2="261.22" stroke="#2a3890" stroke-width="0.6" />
<line x1="158.67" y1="263.81" x2="160.47" y2="263.81" stroke="#2a3890" stroke-width="0.6" />
<line x1="176.60" y1="271.10" x2="176.60" y2="276.94" stroke="#2a3890" stroke-width="0.6" />
<line x1="175.70" y1="271.10" x2="177.50" y2="271.10" stroke="#2a3890" stroke-width="0.6" />
<line x1="175.70" y1="276.94" x2="177.50" y2="276.94" stroke="#2a3890" stroke-width="0.6" />
<line x1="193.63" y1="286.35" x2="193.63" y2="289.59" stroke="#2a3890" stroke-width="0.6" />
<line x1="192.73" y1="286.35" x2="194.53" y2="286.35" stroke="#2a3890" stroke-width="0.6" />
<line x1="192.73" y1="289.59" x2="194.53" y2="289.59" stroke="#2a3890" stroke-width="0.6" />
<line x1="210.67" y1="299.58" x2="210.67" y2="305.94" stroke="#2a3890" stroke-width="0.6" />
<line x1="209.77" y1="299.58" x2="211.57" y2="299.58" stroke="#2a3890" stroke-width="0.6" />
<line x1="209.77" y1="305.94" x2="211.57" y2="305.94" stroke="#2a3890" stroke-width="0.6" />
<line x1="227.70" y1="317.83" x2="227.70" y2="322.07" stroke="#2a3890" stroke-width="0.6" />
<line x1="226.80" y1="317.83" x2="228.60" y2="317.83" stroke="#2a3890" stroke-width="0.6" />
<line x1="226.80" y1="322.07" x2="228.60" y2="322.07" stroke="#2a3890" stroke-width="0.6" />
<line x1="84.90" y1="242.57" x2="84.90" y2="248.99" stroke="#b83444" stroke-width="0.6" />
<line x1="84.00" y1="242.57" x2="85.80" y2="242.57" stroke="#b83444" stroke-width="0.6" />
<line x1="84.00" y1="248.99" x2="85.80" y2="248.99" stroke="#b83444" stroke-width="0.6" />
<line x1="108.46" y1="242.45" x2="108.46" y2="248.77" stroke="#b83444" stroke-width="0.6" />
<line x1="107.56" y1="242.45" x2="109.36" y2="242.45" stroke="#b83444" stroke-width="0.6" />
<line x1="107.56" y1="248.77" x2="109.36" y2="248.77" stroke="#b83444" stroke-width="0.6" />
<line x1="125.48" y1="249.45" x2="125.48" y2="253.53" stroke="#b83444" stroke-width="0.6" />
<line x1="124.58" y1="249.45" x2="126.38" y2="249.45" stroke="#b83444" stroke-width="0.6" />
<line x1="124.58" y1="253.53" x2="126.38" y2="253.53" stroke="#b83444" stroke-width="0.6" />
<line x1="142.55" y1="255.13" x2="142.55" y2="261.55" stroke="#b83444" stroke-width="0.6" />
<line x1="141.65" y1="255.13" x2="143.45" y2="255.13" stroke="#b83444" stroke-width="0.6" />
<line x1="141.65" y1="261.55" x2="143.45" y2="261.55" stroke="#b83444" stroke-width="0.6" />
<line x1="159.57" y1="268.22" x2="159.57" y2="270.98" stroke="#b83444" stroke-width="0.6" />
<line x1="158.67" y1="268.22" x2="160.47" y2="268.22" stroke="#b83444" stroke-width="0.6" />
<line x1="158.67" y1="270.98" x2="160.47" y2="270.98" stroke="#b83444" stroke-width="0.6" />
<line x1="176.60" y1="291.97" x2="176.60" y2="295.13" stroke="#b83444" stroke-width="0.6" />
<line x1="175.70" y1="291.97" x2="177.50" y2="291.97" stroke="#b83444" stroke-width="0.6" />
<line x1="175.70" y1="295.13" x2="177.50" y2="295.13" stroke="#b83444" stroke-width="0.6" />
<line x1="193.63" y1="307.39" x2="193.63" y2="311.81" stroke="#b83444" stroke-width="0.6" />
<line x1="192.73" y1="307.39" x2="194.53" y2="307.39" stroke="#b83444" stroke-width="0.6" />
<line x1="192.73" y1="311.81" x2="194.53" y2="311.81" stroke="#b83444" stroke-width="0.6" />
<line x1="210.67" y1="314.90" x2="210.67" y2="318.21" stroke="#b83444" stroke-width="0.6" />
<line x1="209.77" y1="314.90" x2="211.57" y2="314.90" stroke="#b83444" stroke-width="0.6" />
<line x1="209.77" y1="318.21" x2="211.57" y2="318.21" stroke="#b83444" stroke-width="0.6" />
<line x1="227.70" y1="321.43" x2="227.70" y2="325.52" stroke="#b83444" stroke-width="0.6" />
<line x1="226.80" y1="321.43" x2="228.60" y2="321.43" stroke="#b83444" stroke-width="0.6" />
<line x1="226.80" y1="325.52" x2="228.60" y2="325.52" stroke="#b83444" stroke-width="0.6" />
<line x1="84.90" y1="243.60" x2="84.90" y2="248.43" stroke="#4a2272" stroke-width="0.6" />
<line x1="84.00" y1="243.60" x2="85.80" y2="243.60" stroke="#4a2272" stroke-width="0.6" />
<line x1="84.00" y1="248.43" x2="85.80" y2="248.43" stroke="#4a2272" stroke-width="0.6" />
<line x1="108.46" y1="240.79" x2="108.46" y2="246.25" stroke="#4a2272" stroke-width="0.6" />
<line x1="107.56" y1="240.79" x2="109.36" y2="240.79" stroke="#4a2272" stroke-width="0.6" />
<line x1="107.56" y1="246.25" x2="109.36" y2="246.25" stroke="#4a2272" stroke-width="0.6" />
<line x1="125.48" y1="247.20" x2="125.48" y2="252.29" stroke="#4a2272" stroke-width="0.6" />
<line x1="124.58" y1="247.20" x2="126.38" y2="247.20" stroke="#4a2272" stroke-width="0.6" />
<line x1="124.58" y1="252.29" x2="126.38" y2="252.29" stroke="#4a2272" stroke-width="0.6" />
<line x1="142.55" y1="265.86" x2="142.55" y2="268.13" stroke="#4a2272" stroke-width="0.6" />
<line x1="141.65" y1="265.86" x2="143.45" y2="265.86" stroke="#4a2272" stroke-width="0.6" />
<line x1="141.65" y1="268.13" x2="143.45" y2="268.13" stroke="#4a2272" stroke-width="0.6" />
<line x1="159.57" y1="295.71" x2="159.57" y2="301.61" stroke="#4a2272" stroke-width="0.6" />
<line x1="158.67" y1="295.71" x2="160.47" y2="295.71" stroke="#4a2272" stroke-width="0.6" />
<line x1="158.67" y1="301.61" x2="160.47" y2="301.61" stroke="#4a2272" stroke-width="0.6" />
<line x1="176.60" y1="311.30" x2="176.60" y2="317.29" stroke="#4a2272" stroke-width="0.6" />
<line x1="175.70" y1="311.30" x2="177.50" y2="311.30" stroke="#4a2272" stroke-width="0.6" />
<line x1="175.70" y1="317.29" x2="177.50" y2="317.29" stroke="#4a2272" stroke-width="0.6" />
<line x1="193.63" y1="318.03" x2="193.63" y2="322.02" stroke="#4a2272" stroke-width="0.6" />
<line x1="192.73" y1="318.03" x2="194.53" y2="318.03" stroke="#4a2272" stroke-width="0.6" />
<line x1="192.73" y1="322.02" x2="194.53" y2="322.02" stroke="#4a2272" stroke-width="0.6" />
<line x1="210.67" y1="319.50" x2="210.67" y2="324.67" stroke="#4a2272" stroke-width="0.6" />
<line x1="209.77" y1="319.50" x2="211.57" y2="319.50" stroke="#4a2272" stroke-width="0.6" />
<line x1="209.77" y1="324.67" x2="211.57" y2="324.67" stroke="#4a2272" stroke-width="0.6" />
<line x1="227.70" y1="321.21" x2="227.70" y2="323.55" stroke="#4a2272" stroke-width="0.6" />
<line x1="226.80" y1="321.21" x2="228.60" y2="321.21" stroke="#4a2272" stroke-width="0.6" />
<line x1="226.80" y1="323.55" x2="228.60" y2="323.55" stroke="#4a2272" stroke-width="0.6" />
<line x1="84.90" y1="246.45" x2="84.90" y2="249.26" stroke="#d42a3a" stroke-width="0.6" />
<line x1="84.00" y1="246.45" x2="85.80" y2="246.45" stroke="#d42a3a" stroke-width="0.6" />
<line x1="84.00" y1="249.26" x2="85.80" y2="249.26" stroke="#d42a3a" stroke-width="0.6" />
<line x1="108.46" y1="246.65" x2="108.46" y2="248.91" stroke="#d42a3a" stroke-width="0.6" />
<line x1="107.56" y1="246.65" x2="109.36" y2="246.65" stroke="#d42a3a" stroke-width="0.6" />
<line x1="107.56" y1="248.91" x2="109.36" y2="248.91" stroke="#d42a3a" stroke-width="0.6" />
<line x1="125.48" y1="251.19" x2="125.48" y2="253.95" stroke="#d42a3a" stroke-width="0.6" />
<line x1="124.58" y1="251.19" x2="126.38" y2="251.19" stroke="#d42a3a" stroke-width="0.6" />
<line x1="124.58" y1="253.95" x2="126.38" y2="253.95" stroke="#d42a3a" stroke-width="0.6" />
<line x1="142.55" y1="262.70" x2="142.55" y2="266.52" stroke="#d42a3a" stroke-width="0.6" />
<line x1="141.65" y1="262.70" x2="143.45" y2="262.70" stroke="#d42a3a" stroke-width="0.6" />
<line x1="141.65" y1="266.52" x2="143.45" y2="266.52" stroke="#d42a3a" stroke-width="0.6" />
<line x1="159.57" y1="290.10" x2="159.57" y2="296.47" stroke="#d42a3a" stroke-width="0.6" />
<line x1="158.67" y1="290.10" x2="160.47" y2="290.10" stroke="#d42a3a" stroke-width="0.6" />
<line x1="158.67" y1="296.47" x2="160.47" y2="296.47" stroke="#d42a3a" stroke-width="0.6" />
<line x1="176.60" y1="309.97" x2="176.60" y2="312.71" stroke="#d42a3a" stroke-width="0.6" />
<line x1="175.70" y1="309.97" x2="177.50" y2="309.97" stroke="#d42a3a" stroke-width="0.6" />
<line x1="175.70" y1="312.71" x2="177.50" y2="312.71" stroke="#d42a3a" stroke-width="0.6" />
<line x1="193.63" y1="317.82" x2="193.63" y2="321.56" stroke="#d42a3a" stroke-width="0.6" />
<line x1="192.73" y1="317.82" x2="194.53" y2="317.82" stroke="#d42a3a" stroke-width="0.6" />
<line x1="192.73" y1="321.56" x2="194.53" y2="321.56" stroke="#d42a3a" stroke-width="0.6" />
<line x1="210.67" y1="319.10" x2="210.67" y2="321.72" stroke="#d42a3a" stroke-width="0.6" />
<line x1="209.77" y1="319.10" x2="211.57" y2="319.10" stroke="#d42a3a" stroke-width="0.6" />
<line x1="209.77" y1="321.72" x2="211.57" y2="321.72" stroke="#d42a3a" stroke-width="0.6" />
<line x1="227.70" y1="314.55" x2="227.70" y2="321.51" stroke="#d42a3a" stroke-width="0.6" />
<line x1="226.80" y1="314.55" x2="228.60" y2="314.55" stroke="#d42a3a" stroke-width="0.6" />
<line x1="226.80" y1="321.51" x2="228.60" y2="321.51" stroke="#d42a3a" stroke-width="0.6" />
<line x1="84.90" y1="242.64" x2="84.90" y2="247.06" stroke="#f08aa0" stroke-width="0.6" />
<line x1="84.00" y1="242.64" x2="85.80" y2="242.64" stroke="#f08aa0" stroke-width="0.6" />
<line x1="84.00" y1="247.06" x2="85.80" y2="247.06" stroke="#f08aa0" stroke-width="0.6" />
<line x1="108.46" y1="248.02" x2="108.46" y2="250.53" stroke="#f08aa0" stroke-width="0.6" />
<line x1="107.56" y1="248.02" x2="109.36" y2="248.02" stroke="#f08aa0" stroke-width="0.6" />
<line x1="107.56" y1="250.53" x2="109.36" y2="250.53" stroke="#f08aa0" stroke-width="0.6" />
<line x1="125.48" y1="254.21" x2="125.48" y2="257.53" stroke="#f08aa0" stroke-width="0.6" />
<line x1="124.58" y1="254.21" x2="126.38" y2="254.21" stroke="#f08aa0" stroke-width="0.6" />
<line x1="124.58" y1="257.53" x2="126.38" y2="257.53" stroke="#f08aa0" stroke-width="0.6" />
<line x1="142.55" y1="272.95" x2="142.55" y2="275.76" stroke="#f08aa0" stroke-width="0.6" />
<line x1="141.65" y1="272.95" x2="143.45" y2="272.95" stroke="#f08aa0" stroke-width="0.6" />
<line x1="141.65" y1="275.76" x2="143.45" y2="275.76" stroke="#f08aa0" stroke-width="0.6" />
<line x1="159.57" y1="300.75" x2="159.57" y2="307.50" stroke="#f08aa0" stroke-width="0.6" />
<line x1="158.67" y1="300.75" x2="160.47" y2="300.75" stroke="#f08aa0" stroke-width="0.6" />
<line x1="158.67" y1="307.50" x2="160.47" y2="307.50" stroke="#f08aa0" stroke-width="0.6" />
<line x1="176.60" y1="312.63" x2="176.60" y2="315.36" stroke="#f08aa0" stroke-width="0.6" />
<line x1="175.70" y1="312.63" x2="177.50" y2="312.63" stroke="#f08aa0" stroke-width="0.6" />
<line x1="175.70" y1="315.36" x2="177.50" y2="315.36" stroke="#f08aa0" stroke-width="0.6" />
<line x1="193.63" y1="316.51" x2="193.63" y2="318.64" stroke="#f08aa0" stroke-width="0.6" />
<line x1="192.73" y1="316.51" x2="194.53" y2="316.51" stroke="#f08aa0" stroke-width="0.6" />
<line x1="192.73" y1="318.64" x2="194.53" y2="318.64" stroke="#f08aa0" stroke-width="0.6" />
<line x1="210.67" y1="315.09" x2="210.67" y2="321.98" stroke="#f08aa0" stroke-width="0.6" />
<line x1="209.77" y1="315.09" x2="211.57" y2="315.09" stroke="#f08aa0" stroke-width="0.6" />
<line x1="209.77" y1="321.98" x2="211.57" y2="321.98" stroke="#f08aa0" stroke-width="0.6" />
<line x1="227.70" y1="314.18" x2="227.70" y2="319.66" stroke="#f08aa0" stroke-width="0.6" />
<line x1="226.80" y1="314.18" x2="228.60" y2="314.18" stroke="#f08aa0" stroke-width="0.6" />
<line x1="226.80" y1="319.66" x2="228.60" y2="319.66" stroke="#f08aa0" stroke-width="0.6" />
<line x1="84.90" y1="244.43" x2="84.90" y2="248.27" stroke="#b452e0" stroke-width="0.6" />
<line x1="84.00" y1="244.43" x2="85.80" y2="244.43" stroke="#b452e0" stroke-width="0.6" />
<line x1="84.00" y1="248.27" x2="85.80" y2="248.27" stroke="#b452e0" stroke-width="0.6" />
<line x1="108.46" y1="245.40" x2="108.46" y2="251.26" stroke="#b452e0" stroke-width="0.6" />
<line x1="107.56" y1="245.40" x2="109.36" y2="245.40" stroke="#b452e0" stroke-width="0.6" />
<line x1="107.56" y1="251.26" x2="109.36" y2="251.26" stroke="#b452e0" stroke-width="0.6" />
<line x1="125.48" y1="249.90" x2="125.48" y2="255.80" stroke="#b452e0" stroke-width="0.6" />
<line x1="124.58" y1="249.90" x2="126.38" y2="249.90" stroke="#b452e0" stroke-width="0.6" />
<line x1="124.58" y1="255.80" x2="126.38" y2="255.80" stroke="#b452e0" stroke-width="0.6" />
<line x1="142.55" y1="274.20" x2="142.55" y2="277.31" stroke="#b452e0" stroke-width="0.6" />
<line x1="141.65" y1="274.20" x2="143.45" y2="274.20" stroke="#b452e0" stroke-width="0.6" />
<line x1="141.65" y1="277.31" x2="143.45" y2="277.31" stroke="#b452e0" stroke-width="0.6" />
<line x1="159.57" y1="297.98" x2="159.57" y2="304.91" stroke="#b452e0" stroke-width="0.6" />
<line x1="158.67" y1="297.98" x2="160.47" y2="297.98" stroke="#b452e0" stroke-width="0.6" />
<line x1="158.67" y1="304.91" x2="160.47" y2="304.91" stroke="#b452e0" stroke-width="0.6" />
<line x1="176.60" y1="310.35" x2="176.60" y2="316.38" stroke="#b452e0" stroke-width="0.6" />
<line x1="175.70" y1="310.35" x2="177.50" y2="310.35" stroke="#b452e0" stroke-width="0.6" />
<line x1="175.70" y1="316.38" x2="177.50" y2="316.38" stroke="#b452e0" stroke-width="0.6" />
<line x1="193.63" y1="313.48" x2="193.63" y2="319.18" stroke="#b452e0" stroke-width="0.6" />
<line x1="192.73" y1="313.48" x2="194.53" y2="313.48" stroke="#b452e0" stroke-width="0.6" />
<line x1="192.73" y1="319.18" x2="194.53" y2="319.18" stroke="#b452e0" stroke-width="0.6" />
<line x1="210.67" y1="317.77" x2="210.67" y2="322.36" stroke="#b452e0" stroke-width="0.6" />
<line x1="209.77" y1="317.77" x2="211.57" y2="317.77" stroke="#b452e0" stroke-width="0.6" />
<line x1="209.77" y1="322.36" x2="211.57" y2="322.36" stroke="#b452e0" stroke-width="0.6" />
<line x1="227.70" y1="318.39" x2="227.70" y2="320.54" stroke="#b452e0" stroke-width="0.6" />
<line x1="226.80" y1="318.39" x2="228.60" y2="318.39" stroke="#b452e0" stroke-width="0.6" />
<line x1="226.80" y1="320.54" x2="228.60" y2="320.54" stroke="#b452e0" stroke-width="0.6" />
<line x1="84.90" y1="247.15" x2="84.90" y2="250.55" stroke="#a83c90" stroke-width="0.6" />
<line x1="84.00" y1="247.15" x2="85.80" y2="247.15" stroke="#a83c90" stroke-width="0.6" />
<line x1="84.00" y1="250.55" x2="85.80" y2="250.55" stroke="#a83c90" stroke-width="0.6" />
<line x1="108.46" y1="246.77" x2="108.46" y2="252.23" stroke="#a83c90" stroke-width="0.6" />
<line x1="107.56" y1="246.77" x2="109.36" y2="246.77" stroke="#a83c90" stroke-width="0.6" />
<line x1="107.56" y1="252.23" x2="109.36" y2="252.23" stroke="#a83c90" stroke-width="0.6" />
<line x1="125.48" y1="251.50" x2="125.48" y2="255.73" stroke="#a83c90" stroke-width="0.6" />
<line x1="124.58" y1="251.50" x2="126.38" y2="251.50" stroke="#a83c90" stroke-width="0.6" />
<line x1="124.58" y1="255.73" x2="126.38" y2="255.73" stroke="#a83c90" stroke-width="0.6" />
<line x1="142.55" y1="273.70" x2="142.55" y2="280.64" stroke="#a83c90" stroke-width="0.6" />
<line x1="141.65" y1="273.70" x2="143.45" y2="273.70" stroke="#a83c90" stroke-width="0.6" />
<line x1="141.65" y1="280.64" x2="143.45" y2="280.64" stroke="#a83c90" stroke-width="0.6" />
<line x1="159.57" y1="301.06" x2="159.57" y2="304.88" stroke="#a83c90" stroke-width="0.6" />
<line x1="158.67" y1="301.06" x2="160.47" y2="301.06" stroke="#a83c90" stroke-width="0.6" />
<line x1="158.67" y1="304.88" x2="160.47" y2="304.88" stroke="#a83c90" stroke-width="0.6" />
<line x1="176.60" y1="315.46" x2="176.60" y2="318.59" stroke="#a83c90" stroke-width="0.6" />
<line x1="175.70" y1="315.46" x2="177.50" y2="315.46" stroke="#a83c90" stroke-width="0.6" />
<line x1="175.70" y1="318.59" x2="177.50" y2="318.59" stroke="#a83c90" stroke-width="0.6" />
<line x1="193.63" y1="317.92" x2="193.63" y2="320.95" stroke="#a83c90" stroke-width="0.6" />
<line x1="192.73" y1="317.92" x2="194.53" y2="317.92" stroke="#a83c90" stroke-width="0.6" />
<line x1="192.73" y1="320.95" x2="194.53" y2="320.95" stroke="#a83c90" stroke-width="0.6" />
<line x1="210.67" y1="314.31" x2="210.67" y2="320.81" stroke="#a83c90" stroke-width="0.6" />
<line x1="209.77" y1="314.31" x2="211.57" y2="314.31" stroke="#a83c90" stroke-width="0.6" />
<line x1="209.77" y1="320.81" x2="211.57" y2="320.81" stroke="#a83c90" stroke-width="0.6" />
<line x1="227.70" y1="314.27" x2="227.70" y2="318.67" stroke="#a83c90" stroke-width="0.6" />
<line x1="226.80" y1="314.27" x2="228.60" y2="314.27" stroke="#a83c90" stroke-width="0.6" />
<line x1="226.80" y1="318.67" x2="228.60" y2="318.67" stroke="#a83c90" stroke-width="0.6" />
<line x1="84.90" y1="241.85" x2="84.90" y2="247.85" stroke="#e8408c" stroke-width="0.6" />
<line x1="84.00" y1="241.85" x2="85.80" y2="241.85" stroke="#e8408c" stroke-width="0.6" />
<line x1="84.00" y1="247.85" x2="85.80" y2="247.85" stroke="#e8408c" stroke-width="0.6" />
<line x1="108.46" y1="247.22" x2="108.46" y2="252.52" stroke="#e8408c" stroke-width="0.6" />
<line x1="107.56" y1="247.22" x2="109.36" y2="247.22" stroke="#e8408c" stroke-width="0.6" />
<line x1="107.56" y1="252.52" x2="109.36" y2="252.52" stroke="#e8408c" stroke-width="0.6" />
<line x1="125.48" y1="251.31" x2="125.48" y2="257.22" stroke="#e8408c" stroke-width="0.6" />
<line x1="124.58" y1="251.31" x2="126.38" y2="251.31" stroke="#e8408c" stroke-width="0.6" />
<line x1="124.58" y1="257.22" x2="126.38" y2="257.22" stroke="#e8408c" stroke-width="0.6" />
<line x1="142.55" y1="279.17" x2="142.55" y2="283.56" stroke="#e8408c" stroke-width="0.6" />
<line x1="141.65" y1="279.17" x2="143.45" y2="279.17" stroke="#e8408c" stroke-width="0.6" />
<line x1="141.65" y1="283.56" x2="143.45" y2="283.56" stroke="#e8408c" stroke-width="0.6" />
<line x1="159.57" y1="306.26" x2="159.57" y2="312.20" stroke="#e8408c" stroke-width="0.6" />
<line x1="158.67" y1="306.26" x2="160.47" y2="306.26" stroke="#e8408c" stroke-width="0.6" />
<line x1="158.67" y1="312.20" x2="160.47" y2="312.20" stroke="#e8408c" stroke-width="0.6" />
<line x1="176.60" y1="313.22" x2="176.60" y2="319.23" stroke="#e8408c" stroke-width="0.6" />
<line x1="175.70" y1="313.22" x2="177.50" y2="313.22" stroke="#e8408c" stroke-width="0.6" />
<line x1="175.70" y1="319.23" x2="177.50" y2="319.23" stroke="#e8408c" stroke-width="0.6" />
<line x1="193.63" y1="312.28" x2="193.63" y2="316.26" stroke="#e8408c" stroke-width="0.6" />
<line x1="192.73" y1="312.28" x2="194.53" y2="312.28" stroke="#e8408c" stroke-width="0.6" />
<line x1="192.73" y1="316.26" x2="194.53" y2="316.26" stroke="#e8408c" stroke-width="0.6" />
<line x1="210.67" y1="314.26" x2="210.67" y2="321.00" stroke="#e8408c" stroke-width="0.6" />
<line x1="209.77" y1="314.26" x2="211.57" y2="314.26" stroke="#e8408c" stroke-width="0.6" />
<line x1="209.77" y1="321.00" x2="211.57" y2="321.00" stroke="#e8408c" stroke-width="0.6" />
<line x1="227.70" y1="314.49" x2="227.70" y2="317.34" stroke="#e8408c" stroke-width="0.6" />
<line x1="226.80" y1="314.49" x2="228.60" y2="314.49" stroke="#e8408c" stroke-width="0.6" />
<line x1="226.80" y1="317.34" x2="228.60" y2="317.34" stroke="#e8408c" stroke-width="0.6" />
<line x1="84.90" y1="244.46" x2="84.90" y2="247.22" stroke="#35b53a" stroke-width="0.6" />
<line x1="84.00" y1="244.46" x2="85.80" y2="244.46" stroke="#35b53a" stroke-width="0.6" />
<line x1="84.00" y1="247.22" x2="85.80" y2="247.22" stroke="#35b53a" stroke-width="0.6" />
<line x1="108.46" y1="242.21" x2="108.46" y2="248.24" stroke="#35b53a" stroke-width="0.6" />
<line x1="107.56" y1="242.21" x2="109.36" y2="242.21" stroke="#35b53a" stroke-width="0.6" />
<line x1="107.56" y1="248.24" x2="109.36" y2="248.24" stroke="#35b53a" stroke-width="0.6" />
<line x1="125.48" y1="261.97" x2="125.48" y2="268.10" stroke="#35b53a" stroke-width="0.6" />
<line x1="124.58" y1="261.97" x2="126.38" y2="261.97" stroke="#35b53a" stroke-width="0.6" />
<line x1="124.58" y1="268.10" x2="126.38" y2="268.10" stroke="#35b53a" stroke-width="0.6" />
<line x1="142.55" y1="292.09" x2="142.55" y2="297.37" stroke="#35b53a" stroke-width="0.6" />
<line x1="141.65" y1="292.09" x2="143.45" y2="292.09" stroke="#35b53a" stroke-width="0.6" />
<line x1="141.65" y1="297.37" x2="143.45" y2="297.37" stroke="#35b53a" stroke-width="0.6" />
<line x1="159.57" y1="316.21" x2="159.57" y2="320.96" stroke="#35b53a" stroke-width="0.6" />
<line x1="158.67" y1="316.21" x2="160.47" y2="316.21" stroke="#35b53a" stroke-width="0.6" />
<line x1="158.67" y1="320.96" x2="160.47" y2="320.96" stroke="#35b53a" stroke-width="0.6" />
<line x1="176.60" y1="323.51" x2="176.60" y2="325.58" stroke="#35b53a" stroke-width="0.6" />
<line x1="175.70" y1="323.51" x2="177.50" y2="323.51" stroke="#35b53a" stroke-width="0.6" />
<line x1="175.70" y1="325.58" x2="177.50" y2="325.58" stroke="#35b53a" stroke-width="0.6" />
<line x1="193.63" y1="318.17" x2="193.63" y2="323.42" stroke="#35b53a" stroke-width="0.6" />
<line x1="192.73" y1="318.17" x2="194.53" y2="318.17" stroke="#35b53a" stroke-width="0.6" />
<line x1="192.73" y1="323.42" x2="194.53" y2="323.42" stroke="#35b53a" stroke-width="0.6" />
<line x1="210.67" y1="320.00" x2="210.67" y2="326.67" stroke="#35b53a" stroke-width="0.6" />
<line x1="209.77" y1="320.00" x2="211.57" y2="320.00" stroke="#35b53a" stroke-width="0.6" />
<line x1="209.77" y1="326.67" x2="211.57" y2="326.67" stroke="#35b53a" stroke-width="0.6" />
<line x1="227.70" y1="320.68" x2="227.70" y2="327.04" stroke="#35b53a" stroke-width="0.6" />
<line x1="226.80" y1="320.68" x2="228.60" y2="320.68" stroke="#35b53a" stroke-width="0.6" />
<line x1="226.80" y1="327.04" x2="228.60" y2="327.04" stroke="#35b53a" stroke-width="0.6" />
<polyline points="84.9,238.3 85.6,238.4 86.3,238.4 87.0,238.4 87.8,238.5 88.5,238.5 89.2,238.5 89.9,238.5 90.6,238.6 91.3,238.6 92.0,238.6 92.8,238.7 93.5,238.7 94.2,238.7 94.9,238.8 95.6,238.8 96.3,238.9 97.0,238.9 97.8,238.9 98.5,239.0 99.2,239.0 99.9,239.0 100.6,239.1 101.3,239.1 102.0,239.2 102.8,239.2 103.5,239.3 104.2,239.3 104.9,239.4 105.6,239.4 106.3,239.4 107.0,239.5 107.7,239.5 108.5,239.6 109.2,239.6 109.9,239.7 110.6,239.8 111.3,239.8 112.0,239.9 112.7,239.9 113.5,240.0 114.2,240.0 114.9,240.1 115.6,240.2 116.3,240.2 117.0,240.3 117.7,240.3 118.5,240.4 119.2,240.5 119.9,240.5 120.6,240.6 121.3,240.7 122.0,240.7 122.7,240.8 123.5,240.9 124.2,241.0 124.9,241.0 125.6,241.1 126.3,241.2 127.0,241.3 127.7,241.3 128.5,241.4 129.2,241.5 129.9,241.6 130.6,241.7 131.3,241.8 132.0,241.9 132.7,242.0 133.5,242.0 134.2,242.1 134.9,242.2 135.6,242.3 136.3,242.4 137.0,242.5 137.7,242.6 138.4,242.7 139.2,242.9 139.9,243.0 140.6,243.1 141.3,243.2 142.0,243.3 142.7,243.4 143.4,243.5 144.2,243.6 144.9,243.8 145.6,243.9 146.3,244.0 147.0,244.1 147.7,244.3 148.4,244.4 149.2,244.5 149.9,244.7 150.6,244.8 151.3,245.0 152.0,245.1 152.7,245.2 153.4,245.4 154.2,245.5 154.9,245.7 155.6,245.8 156.3,246.0 157.0,246.2 157.7,246.3 158.4,246.5 159.2,246.7 159.9,246.8 160.6,247.0 161.3,247.2 162.0,247.4 162.7,247.5 163.4,247.7 164.2,247.9 164.9,248.1 165.6,248.3 166.3,248.5 167.0,248.7 167.7,248.9 168.4,249.1 169.2,249.3 169.9,249.5 170.6,249.7 171.3,249.9 172.0,250.2 172.7,250.4 173.4,250.6 174.2,250.8 174.9,251.1 175.6,251.3 176.3,251.6 177.0,251.8 177.7,252.0 178.4,252.3 179.1,252.5 179.9,252.8 180.6,253.1 181.3,253.3 182.0,253.6 182.7,253.9 183.4,254.1 184.1,254.4 184.9,254.7 185.6,255.0 186.3,255.3 187.0,255.6 187.7,255.9 188.4,256.2 189.1,256.5 189.9,256.8 190.6,257.1 191.3,257.4 192.0,257.7 192.7,258.1 193.4,258.4 194.1,258.7 194.9,259.1 195.6,259.4 196.3,259.7 197.0,260.1 197.7,260.4 198.4,260.8 199.1,261.2 199.9,261.5 200.6,261.9 201.3,262.3 202.0,262.6 202.7,263.0 203.4,263.4 204.1,263.8 204.9,264.2 205.6,264.6 206.3,265.0 207.0,265.4 207.7,265.8 208.4,266.2 209.1,266.6 209.9,267.0 210.6,267.5 211.3,267.9 212.0,268.3 212.7,268.7 213.4,269.2 214.1,269.6 214.8,270.1 215.6,270.5 216.3,271.0 217.0,271.4 217.7,271.9 218.4,272.3 219.1,272.8 219.8,273.3 220.6,273.7 221.3,274.2 222.0,274.7 222.7,275.2 223.4,275.7 224.1,276.2 224.8,276.7 225.6,277.1 226.3,277.6 227.0,278.1 227.7,278.6" fill="none" stroke="#ecb87a" stroke-width="0.95" stroke-linejoin="round" />
<polyline points="84.9,244.0 85.6,244.0 86.3,244.0 87.0,244.0 87.8,244.1 88.5,244.1 89.2,244.1 89.9,244.1 90.6,244.1 91.3,244.1 92.0,244.1 92.8,244.1 93.5,244.2 94.2,244.2 94.9,244.2 95.6,244.2 96.3,244.2 97.0,244.2 97.8,244.3 98.5,244.3 99.2,244.3 99.9,244.3 100.6,244.3 101.3,244.4 102.0,244.4 102.8,244.4 103.5,244.4 104.2,244.5 104.9,244.5 105.6,244.5 106.3,244.5 107.0,244.6 107.7,244.6 108.5,244.6 109.2,244.6 109.9,244.7 110.6,244.7 111.3,244.7 112.0,244.8 112.7,244.8 113.5,244.9 114.2,244.9 114.9,244.9 115.6,245.0 116.3,245.0 117.0,245.1 117.7,245.1 118.5,245.2 119.2,245.2 119.9,245.3 120.6,245.3 121.3,245.4 122.0,245.4 122.7,245.5 123.5,245.5 124.2,245.6 124.9,245.7 125.6,245.7 126.3,245.8 127.0,245.9 127.7,245.9 128.5,246.0 129.2,246.1 129.9,246.2 130.6,246.2 131.3,246.3 132.0,246.4 132.7,246.5 133.5,246.6 134.2,246.7 134.9,246.8 135.6,246.9 136.3,247.0 137.0,247.1 137.7,247.2 138.4,247.3 139.2,247.5 139.9,247.6 140.6,247.7 141.3,247.8 142.0,248.0 142.7,248.1 143.4,248.3 144.2,248.4 144.9,248.6 145.6,248.7 146.3,248.9 147.0,249.0 147.7,249.2 148.4,249.4 149.2,249.6 149.9,249.8 150.6,250.0 151.3,250.2 152.0,250.4 152.7,250.6 153.4,250.8 154.2,251.0 154.9,251.2 155.6,251.5 156.3,251.7 157.0,252.0 157.7,252.2 158.4,252.5 159.2,252.8 159.9,253.0 160.6,253.3 161.3,253.6 162.0,253.9 162.7,254.2 163.4,254.6 164.2,254.9 164.9,255.2 165.6,255.6 166.3,255.9 167.0,256.3 167.7,256.7 168.4,257.0 169.2,257.4 169.9,257.8 170.6,258.2 171.3,258.7 172.0,259.1 172.7,259.5 173.4,260.0 174.2,260.4 174.9,260.9 175.6,261.4 176.3,261.9 177.0,262.4 177.7,262.9 178.4,263.4 179.1,263.9 179.9,264.5 180.6,265.0 181.3,265.6 182.0,266.1 182.7,266.7 183.4,267.3 184.1,267.9 184.9,268.5 185.6,269.1 186.3,269.8 187.0,270.4 187.7,271.1 188.4,271.7 189.1,272.4 189.9,273.1 190.6,273.7 191.3,274.4 192.0,275.1 192.7,275.8 193.4,276.6 194.1,277.3 194.9,278.0 195.6,278.7 196.3,279.5 197.0,280.2 197.7,281.0 198.4,281.8 199.1,282.5 199.9,283.3 200.6,284.1 201.3,284.8 202.0,285.6 202.7,286.4 203.4,287.2 204.1,288.0 204.9,288.8 205.6,289.6 206.3,290.3 207.0,291.1 207.7,291.9 208.4,292.7 209.1,293.5 209.9,294.3 210.6,295.1 211.3,295.9 212.0,296.6 212.7,297.4 213.4,298.2 214.1,299.0 214.8,299.7 215.6,300.5 216.3,301.2 217.0,302.0 217.7,302.7 218.4,303.5 219.1,304.2 219.8,304.9 220.6,305.6 221.3,306.3 222.0,307.0 222.7,307.7 223.4,308.4 224.1,309.1 224.8,309.7 225.6,310.4 226.3,311.0 227.0,311.7 227.7,312.3" fill="none" stroke="#8fc0ea" stroke-width="0.95" stroke-linejoin="round" />
<polyline points="84.9,239.9 85.6,240.0 86.3,240.0 87.0,240.1 87.8,240.1 88.5,240.2 89.2,240.2 89.9,240.3 90.6,240.3 91.3,240.4 92.0,240.4 92.8,240.5 93.5,240.6 94.2,240.6 94.9,240.7 95.6,240.8 96.3,240.8 97.0,240.9 97.8,241.0 98.5,241.0 99.2,241.1 99.9,241.2 100.6,241.2 101.3,241.3 102.0,241.4 102.8,241.5 103.5,241.6 104.2,241.6 104.9,241.7 105.6,241.8 106.3,241.9 107.0,242.0 107.7,242.1 108.5,242.2 109.2,242.3 109.9,242.4 110.6,242.5 111.3,242.6 112.0,242.7 112.7,242.8 113.5,242.9 114.2,243.0 114.9,243.1 115.6,243.2 116.3,243.3 117.0,243.5 117.7,243.6 118.5,243.7 119.2,243.8 119.9,244.0 120.6,244.1 121.3,244.2 122.0,244.4 122.7,244.5 123.5,244.6 124.2,244.8 124.9,244.9 125.6,245.1 126.3,245.2 127.0,245.4 127.7,245.5 128.5,245.7 129.2,245.9 129.9,246.0 130.6,246.2 131.3,246.4 132.0,246.5 132.7,246.7 133.5,246.9 134.2,247.1 134.9,247.3 135.6,247.5 136.3,247.6 137.0,247.8 137.7,248.0 138.4,248.3 139.2,248.5 139.9,248.7 140.6,248.9 141.3,249.1 142.0,249.3 142.7,249.6 143.4,249.8 144.2,250.0 144.9,250.3 145.6,250.5 146.3,250.7 147.0,251.0 147.7,251.3 148.4,251.5 149.2,251.8 149.9,252.0 150.6,252.3 151.3,252.6 152.0,252.9 152.7,253.2 153.4,253.4 154.2,253.7 154.9,254.0 155.6,254.3 156.3,254.6 157.0,255.0 157.7,255.3 158.4,255.6 159.2,255.9 159.9,256.2 160.6,256.6 161.3,256.9 162.0,257.3 162.7,257.6 163.4,258.0 164.2,258.3 164.9,258.7 165.6,259.1 166.3,259.4 167.0,259.8 167.7,260.2 168.4,260.6 169.2,261.0 169.9,261.4 170.6,261.8 171.3,262.2 172.0,262.6 172.7,263.0 173.4,263.4 174.2,263.8 174.9,264.3 175.6,264.7 176.3,265.1 177.0,265.6 177.7,266.0 178.4,266.5 179.1,266.9 179.9,267.4 180.6,267.9 181.3,268.3 182.0,268.8 182.7,269.3 183.4,269.8 184.1,270.3 184.9,270.8 185.6,271.3 186.3,271.8 187.0,272.3 187.7,272.8 188.4,273.3 189.1,273.8 189.9,274.3 190.6,274.9 191.3,275.4 192.0,275.9 192.7,276.4 193.4,277.0 194.1,277.5 194.9,278.1 195.6,278.6 196.3,279.2 197.0,279.7 197.7,280.3 198.4,280.8 199.1,281.4 199.9,282.0 200.6,282.5 201.3,283.1 202.0,283.7 202.7,284.2 203.4,284.8 204.1,285.4 204.9,285.9 205.6,286.5 206.3,287.1 207.0,287.7 207.7,288.3 208.4,288.8 209.1,289.4 209.9,290.0 210.6,290.6 211.3,291.2 212.0,291.7 212.7,292.3 213.4,292.9 214.1,293.5 214.8,294.1 215.6,294.7 216.3,295.2 217.0,295.8 217.7,296.4 218.4,297.0 219.1,297.6 219.8,298.1 220.6,298.7 221.3,299.3 222.0,299.8 222.7,300.4 223.4,301.0 224.1,301.5 224.8,302.1 225.6,302.7 226.3,303.2 227.0,303.8 227.7,304.3" fill="none" stroke="#98a84a" stroke-width="0.95" stroke-linejoin="round" />
<polyline points="84.9,240.5 85.6,240.5 86.3,240.5 87.0,240.5 87.8,240.5 88.5,240.6 89.2,240.6 89.9,240.6 90.6,240.6 91.3,240.6 92.0,240.7 92.8,240.7 93.5,240.7 94.2,240.7 94.9,240.7 95.6,240.8 96.3,240.8 97.0,240.8 97.8,240.9 98.5,240.9 99.2,240.9 99.9,240.9 100.6,241.0 101.3,241.0 102.0,241.0 102.8,241.1 103.5,241.1 104.2,241.1 104.9,241.2 105.6,241.2 106.3,241.3 107.0,241.3 107.7,241.4 108.5,241.4 109.2,241.5 109.9,241.5 110.6,241.6 111.3,241.6 112.0,241.7 112.7,241.7 113.5,241.8 114.2,241.8 114.9,241.9 115.6,242.0 116.3,242.0 117.0,242.1 117.7,242.2 118.5,242.3 119.2,242.3 119.9,242.4 120.6,242.5 121.3,242.6 122.0,242.7 122.7,242.8 123.5,242.9 124.2,243.0 124.9,243.1 125.6,243.2 126.3,243.3 127.0,243.4 127.7,243.5 128.5,243.7 129.2,243.8 129.9,243.9 130.6,244.1 131.3,244.2 132.0,244.4 132.7,244.5 133.5,244.7 134.2,244.8 134.9,245.0 135.6,245.2 136.3,245.3 137.0,245.5 137.7,245.7 138.4,245.9 139.2,246.1 139.9,246.3 140.6,246.5 141.3,246.8 142.0,247.0 142.7,247.2 143.4,247.5 144.2,247.7 144.9,248.0 145.6,248.3 146.3,248.5 147.0,248.8 147.7,249.1 148.4,249.4 149.2,249.7 149.9,250.0 150.6,250.4 151.3,250.7 152.0,251.1 152.7,251.4 153.4,251.8 154.2,252.2 154.9,252.6 155.6,253.0 156.3,253.4 157.0,253.8 157.7,254.2 158.4,254.7 159.2,255.2 159.9,255.6 160.6,256.1 161.3,256.6 162.0,257.1 162.7,257.6 163.4,258.1 164.2,258.7 164.9,259.2 165.6,259.8 166.3,260.4 167.0,261.0 167.7,261.6 168.4,262.2 169.2,262.8 169.9,263.5 170.6,264.1 171.3,264.8 172.0,265.5 172.7,266.2 173.4,266.9 174.2,267.6 174.9,268.3 175.6,269.1 176.3,269.8 177.0,270.6 177.7,271.3 178.4,272.1 179.1,272.9 179.9,273.7 180.6,274.5 181.3,275.3 182.0,276.1 182.7,277.0 183.4,277.8 184.1,278.7 184.9,279.5 185.6,280.4 186.3,281.3 187.0,282.1 187.7,283.0 188.4,283.9 189.1,284.8 189.9,285.7 190.6,286.5 191.3,287.4 192.0,288.3 192.7,289.2 193.4,290.1 194.1,291.0 194.9,291.9 195.6,292.8 196.3,293.7 197.0,294.5 197.7,295.4 198.4,296.3 199.1,297.2 199.9,298.0 200.6,298.9 201.3,299.7 202.0,300.6 202.7,301.4 203.4,302.3 204.1,303.1 204.9,303.9 205.6,304.7 206.3,305.5 207.0,306.3 207.7,307.1 208.4,307.8 209.1,308.6 209.9,309.3 210.6,310.1 211.3,310.8 212.0,311.5 212.7,312.2 213.4,312.9 214.1,313.6 214.8,314.2 215.6,314.9 216.3,315.5 217.0,316.2 217.7,316.8 218.4,317.4 219.1,318.0 219.8,318.5 220.6,319.1 221.3,319.7 222.0,320.2 222.7,320.7 223.4,321.2 224.1,321.8 224.8,322.2 225.6,322.7 226.3,323.2 227.0,323.6 227.7,324.1" fill="none" stroke="#b09050" stroke-width="0.95" stroke-linejoin="round" />
<polyline points="84.9,243.9 85.6,243.9 86.3,244.0 87.0,244.0 87.8,244.1 88.5,244.1 89.2,244.2 89.9,244.2 90.6,244.3 91.3,244.3 92.0,244.4 92.8,244.4 93.5,244.5 94.2,244.5 94.9,244.6 95.6,244.6 96.3,244.7 97.0,244.7 97.8,244.8 98.5,244.9 99.2,244.9 99.9,245.0 100.6,245.1 101.3,245.1 102.0,245.2 102.8,245.3 103.5,245.3 104.2,245.4 104.9,245.5 105.6,245.6 106.3,245.7 107.0,245.7 107.7,245.8 108.5,245.9 109.2,246.0 109.9,246.1 110.6,246.2 111.3,246.3 112.0,246.4 112.7,246.5 113.5,246.6 114.2,246.7 114.9,246.8 115.6,246.9 116.3,247.0 117.0,247.1 117.7,247.2 118.5,247.3 119.2,247.5 119.9,247.6 120.6,247.7 121.3,247.8 122.0,248.0 122.7,248.1 123.5,248.3 124.2,248.4 124.9,248.5 125.6,248.7 126.3,248.8 127.0,249.0 127.7,249.2 128.5,249.3 129.2,249.5 129.9,249.6 130.6,249.8 131.3,250.0 132.0,250.2 132.7,250.4 133.5,250.5 134.2,250.7 134.9,250.9 135.6,251.1 136.3,251.3 137.0,251.5 137.7,251.8 138.4,252.0 139.2,252.2 139.9,252.4 140.6,252.7 141.3,252.9 142.0,253.1 142.7,253.4 143.4,253.6 144.2,253.9 144.9,254.1 145.6,254.4 146.3,254.7 147.0,255.0 147.7,255.2 148.4,255.5 149.2,255.8 149.9,256.1 150.6,256.4 151.3,256.7 152.0,257.0 152.7,257.3 153.4,257.7 154.2,258.0 154.9,258.3 155.6,258.7 156.3,259.0 157.0,259.4 157.7,259.8 158.4,260.1 159.2,260.5 159.9,260.9 160.6,261.3 161.3,261.7 162.0,262.1 162.7,262.5 163.4,262.9 164.2,263.3 164.9,263.7 165.6,264.1 166.3,264.6 167.0,265.0 167.7,265.5 168.4,265.9 169.2,266.4 169.9,266.9 170.6,267.3 171.3,267.8 172.0,268.3 172.7,268.8 173.4,269.3 174.2,269.8 174.9,270.3 175.6,270.9 176.3,271.4 177.0,271.9 177.7,272.5 178.4,273.0 179.1,273.6 179.9,274.1 180.6,274.7 181.3,275.3 182.0,275.8 182.7,276.4 183.4,277.0 184.1,277.6 184.9,278.2 185.6,278.8 186.3,279.4 187.0,280.0 187.7,280.7 188.4,281.3 189.1,281.9 189.9,282.5 190.6,283.2 191.3,283.8 192.0,284.5 192.7,285.1 193.4,285.8 194.1,286.4 194.9,287.1 195.6,287.7 196.3,288.4 197.0,289.1 197.7,289.8 198.4,290.4 199.1,291.1 199.9,291.8 200.6,292.5 201.3,293.1 202.0,293.8 202.7,294.5 203.4,295.2 204.1,295.9 204.9,296.6 205.6,297.3 206.3,298.0 207.0,298.6 207.7,299.3 208.4,300.0 209.1,300.7 209.9,301.4 210.6,302.1 211.3,302.8 212.0,303.4 212.7,304.1 213.4,304.8 214.1,305.5 214.8,306.1 215.6,306.8 216.3,307.5 217.0,308.1 217.7,308.8 218.4,309.5 219.1,310.1 219.8,310.8 220.6,311.4 221.3,312.1 222.0,312.7 222.7,313.3 223.4,314.0 224.1,314.6 224.8,315.2 225.6,315.9 226.3,316.5 227.0,317.1 227.7,317.7" fill="none" stroke="#2a3890" stroke-width="1.5" stroke-linejoin="round" />
<polyline points="84.9,246.0 85.6,246.1 86.3,246.1 87.0,246.1 87.8,246.1 88.5,246.1 89.2,246.2 89.9,246.2 90.6,246.2 91.3,246.2 92.0,246.3 92.8,246.3 93.5,246.3 94.2,246.4 94.9,246.4 95.6,246.4 96.3,246.5 97.0,246.5 97.8,246.5 98.5,246.6 99.2,246.6 99.9,246.7 100.6,246.7 101.3,246.7 102.0,246.8 102.8,246.8 103.5,246.9 104.2,247.0 104.9,247.0 105.6,247.1 106.3,247.1 107.0,247.2 107.7,247.3 108.5,247.3 109.2,247.4 109.9,247.5 110.6,247.6 111.3,247.7 112.0,247.7 112.7,247.8 113.5,247.9 114.2,248.0 114.9,248.1 115.6,248.2 116.3,248.4 117.0,248.5 117.7,248.6 118.5,248.7 119.2,248.9 119.9,249.0 120.6,249.1 121.3,249.3 122.0,249.4 122.7,249.6 123.5,249.8 124.2,249.9 124.9,250.1 125.6,250.3 126.3,250.5 127.0,250.7 127.7,250.9 128.5,251.2 129.2,251.4 129.9,251.6 130.6,251.9 131.3,252.1 132.0,252.4 132.7,252.7 133.5,252.9 134.2,253.2 134.9,253.5 135.6,253.9 136.3,254.2 137.0,254.5 137.7,254.9 138.4,255.2 139.2,255.6 139.9,256.0 140.6,256.4 141.3,256.8 142.0,257.3 142.7,257.7 143.4,258.1 144.2,258.6 144.9,259.1 145.6,259.6 146.3,260.1 147.0,260.6 147.7,261.2 148.4,261.7 149.2,262.3 149.9,262.9 150.6,263.4 151.3,264.1 152.0,264.7 152.7,265.3 153.4,266.0 154.2,266.6 154.9,267.3 155.6,268.0 156.3,268.7 157.0,269.4 157.7,270.1 158.4,270.9 159.2,271.6 159.9,272.4 160.6,273.2 161.3,274.0 162.0,274.8 162.7,275.6 163.4,276.4 164.2,277.2 164.9,278.0 165.6,278.8 166.3,279.7 167.0,280.5 167.7,281.3 168.4,282.2 169.2,283.0 169.9,283.9 170.6,284.7 171.3,285.6 172.0,286.4 172.7,287.3 173.4,288.1 174.2,289.0 174.9,289.8 175.6,290.6 176.3,291.4 177.0,292.3 177.7,293.1 178.4,293.9 179.1,294.7 179.9,295.4 180.6,296.2 181.3,297.0 182.0,297.7 182.7,298.5 183.4,299.2 184.1,299.9 184.9,300.6 185.6,301.3 186.3,302.0 187.0,302.7 187.7,303.3 188.4,303.9 189.1,304.6 189.9,305.2 190.6,305.8 191.3,306.3 192.0,306.9 192.7,307.5 193.4,308.0 194.1,308.5 194.9,309.0 195.6,309.5 196.3,310.0 197.0,310.5 197.7,310.9 198.4,311.4 199.1,311.8 199.9,312.2 200.6,312.6 201.3,313.0 202.0,313.4 202.7,313.7 203.4,314.1 204.1,314.4 204.9,314.8 205.6,315.1 206.3,315.4 207.0,315.7 207.7,316.0 208.4,316.2 209.1,316.5 209.9,316.8 210.6,317.0 211.3,317.2 212.0,317.5 212.7,317.7 213.4,317.9 214.1,318.1 214.8,318.3 215.6,318.5 216.3,318.7 217.0,318.8 217.7,319.0 218.4,319.2 219.1,319.3 219.8,319.5 220.6,319.6 221.3,319.8 222.0,319.9 222.7,320.0 223.4,320.1 224.1,320.3 224.8,320.4 225.6,320.5 226.3,320.6 227.0,320.7 227.7,320.8" fill="none" stroke="#b83444" stroke-width="1.1" stroke-linejoin="round" />
<polyline points="84.9,245.3 85.6,245.3 86.3,245.3 87.0,245.3 87.8,245.3 88.5,245.3 89.2,245.3 89.9,245.3 90.6,245.4 91.3,245.4 92.0,245.4 92.8,245.4 93.5,245.4 94.2,245.4 94.9,245.4 95.6,245.4 96.3,245.4 97.0,245.5 97.8,245.5 98.5,245.5 99.2,245.5 99.9,245.5 100.6,245.6 101.3,245.6 102.0,245.6 102.8,245.6 103.5,245.7 104.2,245.7 104.9,245.7 105.6,245.8 106.3,245.8 107.0,245.9 107.7,245.9 108.5,246.0 109.2,246.0 109.9,246.1 110.6,246.2 111.3,246.2 112.0,246.3 112.7,246.4 113.5,246.5 114.2,246.6 114.9,246.7 115.6,246.8 116.3,247.0 117.0,247.1 117.7,247.3 118.5,247.4 119.2,247.6 119.9,247.8 120.6,248.0 121.3,248.2 122.0,248.4 122.7,248.7 123.5,249.0 124.2,249.2 124.9,249.6 125.6,249.9 126.3,250.2 127.0,250.6 127.7,251.0 128.5,251.5 129.2,251.9 129.9,252.4 130.6,253.0 131.3,253.5 132.0,254.1 132.7,254.8 133.5,255.5 134.2,256.2 134.9,257.0 135.6,257.8 136.3,258.6 137.0,259.5 137.7,260.4 138.4,261.4 139.2,262.5 139.9,263.5 140.6,264.7 141.3,265.8 142.0,267.0 142.7,268.3 143.4,269.6 144.2,270.9 144.9,272.2 145.6,273.6 146.3,275.0 147.0,276.5 147.7,277.9 148.4,279.4 149.2,280.9 149.9,282.3 150.6,283.8 151.3,285.3 152.0,286.8 152.7,288.2 153.4,289.7 154.2,291.1 154.9,292.5 155.6,293.9 156.3,295.2 157.0,296.5 157.7,297.8 158.4,299.0 159.2,300.2 159.9,301.3 160.6,302.4 161.3,303.4 162.0,304.4 162.7,305.4 163.4,306.3 164.2,307.2 164.9,308.0 165.6,308.8 166.3,309.5 167.0,310.2 167.7,310.9 168.4,311.5 169.2,312.1 169.9,312.6 170.6,313.1 171.3,313.6 172.0,314.1 172.7,314.5 173.4,314.9 174.2,315.2 174.9,315.6 175.6,315.9 176.3,316.2 177.0,316.5 177.7,316.7 178.4,317.0 179.1,317.2 179.9,317.4 180.6,317.6 181.3,317.8 182.0,318.0 182.7,318.1 183.4,318.2 184.1,318.4 184.9,318.5 185.6,318.6 186.3,318.7 187.0,318.8 187.7,318.9 188.4,319.0 189.1,319.1 189.9,319.1 190.6,319.2 191.3,319.3 192.0,319.3 192.7,319.4 193.4,319.4 194.1,319.5 194.9,319.5 195.6,319.6 196.3,319.6 197.0,319.6 197.7,319.7 198.4,319.7 199.1,319.7 199.9,319.7 200.6,319.8 201.3,319.8 202.0,319.8 202.7,319.8 203.4,319.8 204.1,319.8 204.9,319.9 205.6,319.9 206.3,319.9 207.0,319.9 207.7,319.9 208.4,319.9 209.1,319.9 209.9,319.9 210.6,319.9 211.3,319.9 212.0,319.9 212.7,320.0 213.4,320.0 214.1,320.0 214.8,320.0 215.6,320.0 216.3,320.0 217.0,320.0 217.7,320.0 218.4,320.0 219.1,320.0 219.8,320.0 220.6,320.0 221.3,320.0 222.0,320.0 222.7,320.0 223.4,320.0 224.1,320.0 224.8,320.0 225.6,320.0 226.3,320.0 227.0,320.0 227.7,320.0" fill="none" stroke="#4a2272" stroke-width="0.95" stroke-linejoin="round" />
<polyline points="84.9,246.3 85.6,246.3 86.3,246.3 87.0,246.3 87.8,246.3 88.5,246.3 89.2,246.3 89.9,246.3 90.6,246.3 91.3,246.3 92.0,246.3 92.8,246.4 93.5,246.4 94.2,246.4 94.9,246.4 95.6,246.4 96.3,246.4 97.0,246.4 97.8,246.5 98.5,246.5 99.2,246.5 99.9,246.5 100.6,246.5 101.3,246.6 102.0,246.6 102.8,246.6 103.5,246.6 104.2,246.7 104.9,246.7 105.6,246.7 106.3,246.8 107.0,246.8 107.7,246.9 108.5,246.9 109.2,247.0 109.9,247.0 110.6,247.1 111.3,247.1 112.0,247.2 112.7,247.3 113.5,247.4 114.2,247.4 114.9,247.5 115.6,247.6 116.3,247.7 117.0,247.8 117.7,248.0 118.5,248.1 119.2,248.2 119.9,248.4 120.6,248.5 121.3,248.7 122.0,248.8 122.7,249.0 123.5,249.2 124.2,249.4 124.9,249.7 125.6,249.9 126.3,250.2 127.0,250.4 127.7,250.7 128.5,251.0 129.2,251.4 129.9,251.7 130.6,252.1 131.3,252.5 132.0,252.9 132.7,253.3 133.5,253.8 134.2,254.3 134.9,254.8 135.6,255.4 136.3,255.9 137.0,256.6 137.7,257.2 138.4,257.9 139.2,258.6 139.9,259.3 140.6,260.1 141.3,260.9 142.0,261.8 142.7,262.7 143.4,263.6 144.2,264.6 144.9,265.5 145.6,266.6 146.3,267.6 147.0,268.7 147.7,269.8 148.4,271.0 149.2,272.2 149.9,273.4 150.6,274.6 151.3,275.8 152.0,277.1 152.7,278.4 153.4,279.6 154.2,280.9 154.9,282.2 155.6,283.5 156.3,284.8 157.0,286.1 157.7,287.4 158.4,288.7 159.2,290.0 159.9,291.2 160.6,292.5 161.3,293.7 162.0,294.9 162.7,296.0 163.4,297.1 164.2,298.2 164.9,299.3 165.6,300.3 166.3,301.3 167.0,302.3 167.7,303.2 168.4,304.1 169.2,305.0 169.9,305.8 170.6,306.6 171.3,307.4 172.0,308.1 172.7,308.8 173.4,309.4 174.2,310.1 174.9,310.6 175.6,311.2 176.3,311.7 177.0,312.2 177.7,312.7 178.4,313.2 179.1,313.6 179.9,314.0 180.6,314.4 181.3,314.7 182.0,315.1 182.7,315.4 183.4,315.7 184.1,315.9 184.9,316.2 185.6,316.5 186.3,316.7 187.0,316.9 187.7,317.1 188.4,317.3 189.1,317.5 189.9,317.6 190.6,317.8 191.3,317.9 192.0,318.1 192.7,318.2 193.4,318.3 194.1,318.4 194.9,318.5 195.6,318.6 196.3,318.7 197.0,318.8 197.7,318.9 198.4,319.0 199.1,319.0 199.9,319.1 200.6,319.1 201.3,319.2 202.0,319.3 202.7,319.3 203.4,319.4 204.1,319.4 204.9,319.4 205.6,319.5 206.3,319.5 207.0,319.5 207.7,319.6 208.4,319.6 209.1,319.6 209.9,319.6 210.6,319.7 211.3,319.7 212.0,319.7 212.7,319.7 213.4,319.7 214.1,319.8 214.8,319.8 215.6,319.8 216.3,319.8 217.0,319.8 217.7,319.8 218.4,319.8 219.1,319.8 219.8,319.9 220.6,319.9 221.3,319.9 222.0,319.9 222.7,319.9 223.4,319.9 224.1,319.9 224.8,319.9 225.6,319.9 226.3,319.9 227.0,319.9 227.7,319.9" fill="none" stroke="#d42a3a" stroke-width="1.1" stroke-linejoin="round" />
<polyline points="84.9,244.7 85.6,244.7 86.3,244.7 87.0,244.7 87.8,244.8 88.5,244.8 89.2,244.8 89.9,244.9 90.6,244.9 91.3,244.9 92.0,245.0 92.8,245.0 93.5,245.1 94.2,245.1 94.9,245.2 95.6,245.2 96.3,245.3 97.0,245.3 97.8,245.4 98.5,245.5 99.2,245.5 99.9,245.6 100.6,245.7 101.3,245.8 102.0,245.9 102.8,246.0 103.5,246.1 104.2,246.2 104.9,246.3 105.6,246.4 106.3,246.6 107.0,246.7 107.7,246.9 108.5,247.0 109.2,247.2 109.9,247.4 110.6,247.6 111.3,247.8 112.0,248.0 112.7,248.2 113.5,248.4 114.2,248.7 114.9,249.0 115.6,249.2 116.3,249.5 117.0,249.8 117.7,250.2 118.5,250.5 119.2,250.9 119.9,251.3 120.6,251.7 121.3,252.1 122.0,252.5 122.7,253.0 123.5,253.5 124.2,254.0 124.9,254.5 125.6,255.1 126.3,255.7 127.0,256.3 127.7,257.0 128.5,257.6 129.2,258.3 129.9,259.0 130.6,259.8 131.3,260.6 132.0,261.4 132.7,262.2 133.5,263.1 134.2,264.0 134.9,264.9 135.6,265.8 136.3,266.8 137.0,267.8 137.7,268.8 138.4,269.8 139.2,270.9 139.9,272.0 140.6,273.1 141.3,274.2 142.0,275.3 142.7,276.4 143.4,277.6 144.2,278.7 144.9,279.9 145.6,281.0 146.3,282.2 147.0,283.4 147.7,284.5 148.4,285.7 149.2,286.8 149.9,288.0 150.6,289.1 151.3,290.2 152.0,291.3 152.7,292.4 153.4,293.4 154.2,294.5 154.9,295.5 155.6,296.5 156.3,297.4 157.0,298.4 157.7,299.3 158.4,300.2 159.2,301.0 159.9,301.9 160.6,302.7 161.3,303.5 162.0,304.2 162.7,304.9 163.4,305.6 164.2,306.3 164.9,306.9 165.6,307.6 166.3,308.2 167.0,308.7 167.7,309.3 168.4,309.8 169.2,310.3 169.9,310.7 170.6,311.2 171.3,311.6 172.0,312.0 172.7,312.4 173.4,312.7 174.2,313.1 174.9,313.4 175.6,313.7 176.3,314.0 177.0,314.3 177.7,314.6 178.4,314.8 179.1,315.1 179.9,315.3 180.6,315.5 181.3,315.7 182.0,315.9 182.7,316.1 183.4,316.2 184.1,316.4 184.9,316.5 185.6,316.7 186.3,316.8 187.0,316.9 187.7,317.1 188.4,317.2 189.1,317.3 189.9,317.4 190.6,317.5 191.3,317.6 192.0,317.6 192.7,317.7 193.4,317.8 194.1,317.9 194.9,317.9 195.6,318.0 196.3,318.0 197.0,318.1 197.7,318.1 198.4,318.2 199.1,318.2 199.9,318.3 200.6,318.3 201.3,318.4 202.0,318.4 202.7,318.4 203.4,318.5 204.1,318.5 204.9,318.5 205.6,318.5 206.3,318.6 207.0,318.6 207.7,318.6 208.4,318.6 209.1,318.7 209.9,318.7 210.6,318.7 211.3,318.7 212.0,318.7 212.7,318.7 213.4,318.7 214.1,318.8 214.8,318.8 215.6,318.8 216.3,318.8 217.0,318.8 217.7,318.8 218.4,318.8 219.1,318.8 219.8,318.8 220.6,318.8 221.3,318.8 222.0,318.9 222.7,318.9 223.4,318.9 224.1,318.9 224.8,318.9 225.6,318.9 226.3,318.9 227.0,318.9 227.7,318.9" fill="none" stroke="#f08aa0" stroke-width="0.95" stroke-linejoin="round" />
<polyline points="84.9,245.1 85.6,245.1 86.3,245.1 87.0,245.1 87.8,245.1 88.5,245.1 89.2,245.1 89.9,245.2 90.6,245.2 91.3,245.2 92.0,245.2 92.8,245.2 93.5,245.3 94.2,245.3 94.9,245.3 95.6,245.4 96.3,245.4 97.0,245.4 97.8,245.5 98.5,245.5 99.2,245.6 99.9,245.6 100.6,245.6 101.3,245.7 102.0,245.8 102.8,245.8 103.5,245.9 104.2,246.0 104.9,246.0 105.6,246.1 106.3,246.2 107.0,246.3 107.7,246.4 108.5,246.5 109.2,246.6 109.9,246.8 110.6,246.9 111.3,247.1 112.0,247.2 112.7,247.4 113.5,247.5 114.2,247.7 114.9,247.9 115.6,248.2 116.3,248.4 117.0,248.6 117.7,248.9 118.5,249.2 119.2,249.5 119.9,249.8 120.6,250.1 121.3,250.5 122.0,250.8 122.7,251.2 123.5,251.7 124.2,252.1 124.9,252.6 125.6,253.1 126.3,253.7 127.0,254.2 127.7,254.8 128.5,255.4 129.2,256.1 129.9,256.8 130.6,257.5 131.3,258.3 132.0,259.1 132.7,259.9 133.5,260.8 134.2,261.7 134.9,262.7 135.6,263.6 136.3,264.7 137.0,265.7 137.7,266.8 138.4,267.9 139.2,269.0 139.9,270.2 140.6,271.4 141.3,272.6 142.0,273.9 142.7,275.2 143.4,276.4 144.2,277.7 144.9,279.0 145.6,280.4 146.3,281.7 147.0,283.0 147.7,284.3 148.4,285.6 149.2,286.9 149.9,288.2 150.6,289.5 151.3,290.7 152.0,291.9 152.7,293.1 153.4,294.3 154.2,295.5 154.9,296.6 155.6,297.7 156.3,298.7 157.0,299.8 157.7,300.8 158.4,301.7 159.2,302.6 159.9,303.5 160.6,304.3 161.3,305.2 162.0,305.9 162.7,306.7 163.4,307.4 164.2,308.0 164.9,308.7 165.6,309.3 166.3,309.8 167.0,310.4 167.7,310.9 168.4,311.4 169.2,311.8 169.9,312.3 170.6,312.7 171.3,313.1 172.0,313.4 172.7,313.8 173.4,314.1 174.2,314.4 174.9,314.7 175.6,314.9 176.3,315.2 177.0,315.4 177.7,315.6 178.4,315.8 179.1,316.0 179.9,316.2 180.6,316.4 181.3,316.5 182.0,316.7 182.7,316.8 183.4,316.9 184.1,317.1 184.9,317.2 185.6,317.3 186.3,317.4 187.0,317.5 187.7,317.5 188.4,317.6 189.1,317.7 189.9,317.8 190.6,317.8 191.3,317.9 192.0,317.9 192.7,318.0 193.4,318.0 194.1,318.1 194.9,318.1 195.6,318.2 196.3,318.2 197.0,318.2 197.7,318.3 198.4,318.3 199.1,318.3 199.9,318.4 200.6,318.4 201.3,318.4 202.0,318.4 202.7,318.4 203.4,318.5 204.1,318.5 204.9,318.5 205.6,318.5 206.3,318.5 207.0,318.5 207.7,318.5 208.4,318.6 209.1,318.6 209.9,318.6 210.6,318.6 211.3,318.6 212.0,318.6 212.7,318.6 213.4,318.6 214.1,318.6 214.8,318.6 215.6,318.6 216.3,318.6 217.0,318.6 217.7,318.6 218.4,318.7 219.1,318.7 219.8,318.7 220.6,318.7 221.3,318.7 222.0,318.7 222.7,318.7 223.4,318.7 224.1,318.7 224.8,318.7 225.6,318.7 226.3,318.7 227.0,318.7 227.7,318.7" fill="none" stroke="#b452e0" stroke-width="0.95" stroke-linejoin="round" />
<polyline points="84.9,246.3 85.6,246.3 86.3,246.3 87.0,246.3 87.8,246.4 88.5,246.4 89.2,246.4 89.9,246.4 90.6,246.4 91.3,246.5 92.0,246.5 92.8,246.5 93.5,246.6 94.2,246.6 94.9,246.6 95.6,246.7 96.3,246.7 97.0,246.8 97.8,246.8 98.5,246.9 99.2,246.9 99.9,247.0 100.6,247.1 101.3,247.1 102.0,247.2 102.8,247.3 103.5,247.4 104.2,247.5 104.9,247.6 105.6,247.7 106.3,247.8 107.0,247.9 107.7,248.1 108.5,248.2 109.2,248.3 109.9,248.5 110.6,248.7 111.3,248.9 112.0,249.0 112.7,249.3 113.5,249.5 114.2,249.7 114.9,250.0 115.6,250.2 116.3,250.5 117.0,250.8 117.7,251.1 118.5,251.5 119.2,251.8 119.9,252.2 120.6,252.6 121.3,253.0 122.0,253.5 122.7,254.0 123.5,254.5 124.2,255.0 124.9,255.6 125.6,256.2 126.3,256.8 127.0,257.5 127.7,258.2 128.5,258.9 129.2,259.6 129.9,260.4 130.6,261.3 131.3,262.1 132.0,263.0 132.7,263.9 133.5,264.9 134.2,265.9 134.9,266.9 135.6,268.0 136.3,269.1 137.0,270.2 137.7,271.3 138.4,272.5 139.2,273.7 139.9,274.9 140.6,276.1 141.3,277.4 142.0,278.6 142.7,279.9 143.4,281.1 144.2,282.4 144.9,283.7 145.6,284.9 146.3,286.2 147.0,287.4 147.7,288.7 148.4,289.9 149.2,291.1 149.9,292.3 150.6,293.4 151.3,294.6 152.0,295.7 152.7,296.7 153.4,297.8 154.2,298.8 154.9,299.8 155.6,300.7 156.3,301.7 157.0,302.5 157.7,303.4 158.4,304.2 159.2,305.0 159.9,305.7 160.6,306.5 161.3,307.1 162.0,307.8 162.7,308.4 163.4,309.0 164.2,309.5 164.9,310.1 165.6,310.6 166.3,311.0 167.0,311.5 167.7,311.9 168.4,312.3 169.2,312.7 169.9,313.0 170.6,313.4 171.3,313.7 172.0,314.0 172.7,314.3 173.4,314.5 174.2,314.8 174.9,315.0 175.6,315.2 176.3,315.4 177.0,315.6 177.7,315.8 178.4,316.0 179.1,316.1 179.9,316.3 180.6,316.4 181.3,316.5 182.0,316.6 182.7,316.8 183.4,316.9 184.1,317.0 184.9,317.1 185.6,317.1 186.3,317.2 187.0,317.3 187.7,317.4 188.4,317.4 189.1,317.5 189.9,317.5 190.6,317.6 191.3,317.6 192.0,317.7 192.7,317.7 193.4,317.8 194.1,317.8 194.9,317.9 195.6,317.9 196.3,317.9 197.0,317.9 197.7,318.0 198.4,318.0 199.1,318.0 199.9,318.0 200.6,318.1 201.3,318.1 202.0,318.1 202.7,318.1 203.4,318.1 204.1,318.1 204.9,318.2 205.6,318.2 206.3,318.2 207.0,318.2 207.7,318.2 208.4,318.2 209.1,318.2 209.9,318.2 210.6,318.2 211.3,318.2 212.0,318.2 212.7,318.3 213.4,318.3 214.1,318.3 214.8,318.3 215.6,318.3 216.3,318.3 217.0,318.3 217.7,318.3 218.4,318.3 219.1,318.3 219.8,318.3 220.6,318.3 221.3,318.3 222.0,318.3 222.7,318.3 223.4,318.3 224.1,318.3 224.8,318.3 225.6,318.3 226.3,318.3 227.0,318.3 227.7,318.3" fill="none" stroke="#a83c90" stroke-width="0.95" stroke-linejoin="round" />
<polyline points="84.9,245.7 85.6,245.7 86.3,245.7 87.0,245.7 87.8,245.7 88.5,245.8 89.2,245.8 89.9,245.8 90.6,245.8 91.3,245.9 92.0,245.9 92.8,245.9 93.5,245.9 94.2,246.0 94.9,246.0 95.6,246.1 96.3,246.1 97.0,246.1 97.8,246.2 98.5,246.3 99.2,246.3 99.9,246.4 100.6,246.4 101.3,246.5 102.0,246.6 102.8,246.7 103.5,246.8 104.2,246.9 104.9,247.0 105.6,247.1 106.3,247.2 107.0,247.3 107.7,247.5 108.5,247.6 109.2,247.8 109.9,247.9 110.6,248.1 111.3,248.3 112.0,248.5 112.7,248.8 113.5,249.0 114.2,249.3 114.9,249.5 115.6,249.8 116.3,250.1 117.0,250.5 117.7,250.8 118.5,251.2 119.2,251.6 119.9,252.1 120.6,252.5 121.3,253.0 122.0,253.5 122.7,254.1 123.5,254.7 124.2,255.3 124.9,255.9 125.6,256.6 126.3,257.3 127.0,258.1 127.7,258.9 128.5,259.7 129.2,260.6 129.9,261.5 130.6,262.4 131.3,263.4 132.0,264.4 132.7,265.5 133.5,266.6 134.2,267.7 134.9,268.9 135.6,270.1 136.3,271.3 137.0,272.5 137.7,273.8 138.4,275.1 139.2,276.4 139.9,277.7 140.6,279.0 141.3,280.4 142.0,281.7 142.7,283.1 143.4,284.4 144.2,285.7 144.9,287.0 145.6,288.3 146.3,289.6 147.0,290.9 147.7,292.1 148.4,293.3 149.2,294.5 149.9,295.6 150.6,296.7 151.3,297.8 152.0,298.8 152.7,299.8 153.4,300.8 154.2,301.7 154.9,302.6 155.6,303.4 156.3,304.2 157.0,305.0 157.7,305.8 158.4,306.5 159.2,307.1 159.9,307.7 160.6,308.3 161.3,308.9 162.0,309.4 162.7,309.9 163.4,310.4 164.2,310.8 164.9,311.3 165.6,311.6 166.3,312.0 167.0,312.4 167.7,312.7 168.4,313.0 169.2,313.3 169.9,313.5 170.6,313.8 171.3,314.0 172.0,314.2 172.7,314.4 173.4,314.6 174.2,314.8 174.9,315.0 175.6,315.1 176.3,315.3 177.0,315.4 177.7,315.5 178.4,315.6 179.1,315.7 179.9,315.8 180.6,315.9 181.3,316.0 182.0,316.1 182.7,316.2 183.4,316.2 184.1,316.3 184.9,316.4 185.6,316.4 186.3,316.5 187.0,316.5 187.7,316.6 188.4,316.6 189.1,316.6 189.9,316.7 190.6,316.7 191.3,316.7 192.0,316.8 192.7,316.8 193.4,316.8 194.1,316.8 194.9,316.9 195.6,316.9 196.3,316.9 197.0,316.9 197.7,316.9 198.4,317.0 199.1,317.0 199.9,317.0 200.6,317.0 201.3,317.0 202.0,317.0 202.7,317.0 203.4,317.0 204.1,317.0 204.9,317.1 205.6,317.1 206.3,317.1 207.0,317.1 207.7,317.1 208.4,317.1 209.1,317.1 209.9,317.1 210.6,317.1 211.3,317.1 212.0,317.1 212.7,317.1 213.4,317.1 214.1,317.1 214.8,317.1 215.6,317.1 216.3,317.1 217.0,317.1 217.7,317.1 218.4,317.1 219.1,317.1 219.8,317.1 220.6,317.1 221.3,317.1 222.0,317.1 222.7,317.1 223.4,317.1 224.1,317.1 224.8,317.1 225.6,317.1 226.3,317.1 227.0,317.1 227.7,317.1" fill="none" stroke="#e8408c" stroke-width="0.95" stroke-linejoin="round" />
<polyline points="84.9,243.8 85.6,243.8 86.3,243.9 87.0,243.9 87.8,243.9 88.5,244.0 89.2,244.0 89.9,244.0 90.6,244.1 91.3,244.1 92.0,244.2 92.8,244.2 93.5,244.3 94.2,244.4 94.9,244.4 95.6,244.5 96.3,244.6 97.0,244.7 97.8,244.8 98.5,244.9 99.2,245.0 99.9,245.1 100.6,245.2 101.3,245.4 102.0,245.5 102.8,245.7 103.5,245.8 104.2,246.0 104.9,246.2 105.6,246.4 106.3,246.6 107.0,246.9 107.7,247.1 108.5,247.4 109.2,247.7 109.9,248.0 110.6,248.4 111.3,248.8 112.0,249.1 112.7,249.6 113.5,250.0 114.2,250.5 114.9,251.0 115.6,251.5 116.3,252.1 117.0,252.7 117.7,253.4 118.5,254.1 119.2,254.8 119.9,255.6 120.6,256.4 121.3,257.2 122.0,258.1 122.7,259.1 123.5,260.1 124.2,261.1 124.9,262.2 125.6,263.3 126.3,264.5 127.0,265.7 127.7,267.0 128.5,268.3 129.2,269.6 129.9,271.0 130.6,272.4 131.3,273.8 132.0,275.3 132.7,276.8 133.5,278.3 134.2,279.8 134.9,281.3 135.6,282.9 136.3,284.4 137.0,286.0 137.7,287.5 138.4,289.0 139.2,290.5 139.9,292.0 140.6,293.5 141.3,294.9 142.0,296.3 142.7,297.7 143.4,299.0 144.2,300.3 144.9,301.6 145.6,302.8 146.3,303.9 147.0,305.0 147.7,306.1 148.4,307.1 149.2,308.1 149.9,309.1 150.6,310.0 151.3,310.8 152.0,311.6 152.7,312.4 153.4,313.1 154.2,313.8 154.9,314.4 155.6,315.0 156.3,315.6 157.0,316.1 157.7,316.6 158.4,317.1 159.2,317.5 159.9,317.9 160.6,318.3 161.3,318.7 162.0,319.0 162.7,319.3 163.4,319.6 164.2,319.9 164.9,320.2 165.6,320.4 166.3,320.6 167.0,320.8 167.7,321.0 168.4,321.2 169.2,321.4 169.9,321.5 170.6,321.7 171.3,321.8 172.0,321.9 172.7,322.0 173.4,322.2 174.2,322.2 174.9,322.3 175.6,322.4 176.3,322.5 177.0,322.6 177.7,322.6 178.4,322.7 179.1,322.8 179.9,322.8 180.6,322.9 181.3,322.9 182.0,323.0 182.7,323.0 183.4,323.0 184.1,323.1 184.9,323.1 185.6,323.1 186.3,323.2 187.0,323.2 187.7,323.2 188.4,323.2 189.1,323.3 189.9,323.3 190.6,323.3 191.3,323.3 192.0,323.3 192.7,323.3 193.4,323.3 194.1,323.4 194.9,323.4 195.6,323.4 196.3,323.4 197.0,323.4 197.7,323.4 198.4,323.4 199.1,323.4 199.9,323.4 200.6,323.4 201.3,323.4 202.0,323.4 202.7,323.4 203.4,323.5 204.1,323.5 204.9,323.5 205.6,323.5 206.3,323.5 207.0,323.5 207.7,323.5 208.4,323.5 209.1,323.5 209.9,323.5 210.6,323.5 211.3,323.5 212.0,323.5 212.7,323.5 213.4,323.5 214.1,323.5 214.8,323.5 215.6,323.5 216.3,323.5 217.0,323.5 217.7,323.5 218.4,323.5 219.1,323.5 219.8,323.5 220.6,323.5 221.3,323.5 222.0,323.5 222.7,323.5 223.4,323.5 224.1,323.5 224.8,323.5 225.6,323.5 226.3,323.5 227.0,323.5 227.7,323.5" fill="none" stroke="#35b53a" stroke-width="1.1" stroke-linejoin="round" />
<circle cx="84.90" cy="238.54" r="1.20" fill="#ecb87a"/>
<circle cx="108.46" cy="239.34" r="1.20" fill="#ecb87a"/>
<circle cx="125.48" cy="239.26" r="1.20" fill="#ecb87a"/>
<circle cx="142.55" cy="243.53" r="1.20" fill="#ecb87a"/>
<circle cx="159.57" cy="246.73" r="1.20" fill="#ecb87a"/>
<circle cx="176.60" cy="251.28" r="1.20" fill="#ecb87a"/>
<circle cx="193.63" cy="259.86" r="1.20" fill="#ecb87a"/>
<circle cx="210.67" cy="267.46" r="1.20" fill="#ecb87a"/>
<circle cx="227.70" cy="278.08" r="1.20" fill="#ecb87a"/>
<rect x="83.80" y="241.64" width="2.20" height="2.20" fill="#8fc0ea"/>
<rect x="107.36" y="245.28" width="2.20" height="2.20" fill="#8fc0ea"/>
<rect x="124.38" y="245.46" width="2.20" height="2.20" fill="#8fc0ea"/>
<rect x="141.45" y="248.75" width="2.20" height="2.20" fill="#8fc0ea"/>
<rect x="158.47" y="250.48" width="2.20" height="2.20" fill="#8fc0ea"/>
<rect x="175.50" y="260.14" width="2.20" height="2.20" fill="#8fc0ea"/>
<rect x="192.53" y="277.65" width="2.20" height="2.20" fill="#8fc0ea"/>
<rect x="209.57" y="291.99" width="2.20" height="2.20" fill="#8fc0ea"/>
<rect x="226.60" y="309.17" width="2.20" height="2.20" fill="#8fc0ea"/>
<rect x="83.90" y="238.23" width="2.00" height="2.00" fill="#98a84a"/>
<rect x="107.46" y="240.68" width="2.00" height="2.00" fill="#98a84a"/>
<rect x="124.48" y="245.53" width="2.00" height="2.00" fill="#98a84a"/>
<rect x="141.55" y="250.60" width="2.00" height="2.00" fill="#98a84a"/>
<rect x="158.57" y="254.98" width="2.00" height="2.00" fill="#98a84a"/>
<rect x="175.60" y="266.25" width="2.00" height="2.00" fill="#98a84a"/>
<rect x="192.63" y="277.48" width="2.00" height="2.00" fill="#98a84a"/>
<rect x="209.67" y="290.79" width="2.00" height="2.00" fill="#98a84a"/>
<rect x="226.70" y="305.37" width="2.00" height="2.00" fill="#98a84a"/>
<path d="M83.50,241.69 L86.30,241.69 L84.90,239.31 Z" fill="#b09050"/>
<path d="M107.06,242.71 L109.86,242.71 L108.46,240.33 Z" fill="#b09050"/>
<path d="M124.08,242.74 L126.88,242.74 L125.48,240.36 Z" fill="#b09050"/>
<path d="M141.15,248.14 L143.95,248.14 L142.55,245.76 Z" fill="#b09050"/>
<path d="M158.17,255.86 L160.97,255.86 L159.57,253.48 Z" fill="#b09050"/>
<path d="M175.20,271.18 L178.00,271.18 L176.60,268.80 Z" fill="#b09050"/>
<path d="M192.23,290.70 L195.03,290.70 L193.63,288.32 Z" fill="#b09050"/>
<path d="M209.27,311.42 L212.07,311.42 L210.67,309.04 Z" fill="#b09050"/>
<path d="M226.30,326.10 L229.10,326.10 L227.70,323.72 Z" fill="#b09050"/>
<path d="M84.90,240.05 L86.60,241.75 L84.90,243.45 L83.20,241.75 Z" fill="#2a3890"/>
<path d="M108.46,242.06 L110.16,243.76 L108.46,245.46 L106.76,243.76 Z" fill="#2a3890"/>
<path d="M125.48,245.49 L127.18,247.19 L125.48,248.89 L123.78,247.19 Z" fill="#2a3890"/>
<path d="M142.55,250.71 L144.25,252.41 L142.55,254.11 L140.85,252.41 Z" fill="#2a3890"/>
<path d="M159.57,259.82 L161.27,261.52 L159.57,263.22 L157.87,261.52 Z" fill="#2a3890"/>
<path d="M176.60,271.10 L178.30,272.80 L176.60,274.50 L174.90,272.80 Z" fill="#2a3890"/>
<path d="M193.63,285.17 L195.33,286.87 L193.63,288.57 L191.93,286.87 Z" fill="#2a3890"/>
<path d="M210.67,302.33 L212.37,304.03 L210.67,305.73 L208.97,304.03 Z" fill="#2a3890"/>
<path d="M227.70,314.82 L229.40,316.52 L227.70,318.22 L226.00,316.52 Z" fill="#2a3890"/>
<circle cx="84.90" cy="246.48" r="1.50" fill="none" stroke="#b83444" stroke-width="0.9"/>
<circle cx="108.46" cy="245.83" r="1.50" fill="none" stroke="#b83444" stroke-width="0.9"/>
<circle cx="125.48" cy="250.78" r="1.50" fill="none" stroke="#b83444" stroke-width="0.9"/>
<circle cx="142.55" cy="255.59" r="1.50" fill="none" stroke="#b83444" stroke-width="0.9"/>
<circle cx="159.57" cy="270.58" r="1.50" fill="none" stroke="#b83444" stroke-width="0.9"/>
<circle cx="176.60" cy="293.96" r="1.50" fill="none" stroke="#b83444" stroke-width="0.9"/>
<circle cx="193.63" cy="309.41" r="1.50" fill="none" stroke="#b83444" stroke-width="0.9"/>
<circle cx="210.67" cy="315.26" r="1.50" fill="none" stroke="#b83444" stroke-width="0.9"/>
<circle cx="227.70" cy="320.91" r="1.50" fill="none" stroke="#b83444" stroke-width="0.9"/>
<path d="M84.90,241.52 L86.60,243.22 L84.90,244.92 L83.20,243.22 Z" fill="#4a2272"/>
<path d="M108.46,244.72 L110.16,246.42 L108.46,248.12 L106.76,246.42 Z" fill="#4a2272"/>
<path d="M125.48,249.98 L127.18,251.68 L125.48,253.38 L123.78,251.68 Z" fill="#4a2272"/>
<path d="M142.55,265.68 L144.25,267.38 L142.55,269.08 L140.85,267.38 Z" fill="#4a2272"/>
<path d="M159.57,297.92 L161.27,299.62 L159.57,301.32 L157.87,299.62 Z" fill="#4a2272"/>
<path d="M176.60,315.63 L178.30,317.33 L176.60,319.03 L174.90,317.33 Z" fill="#4a2272"/>
<path d="M193.63,319.53 L195.33,321.23 L193.63,322.93 L191.93,321.23 Z" fill="#4a2272"/>
<path d="M210.67,318.96 L212.37,320.66 L210.67,322.36 L208.97,320.66 Z" fill="#4a2272"/>
<path d="M227.70,316.29 L229.40,317.99 L227.70,319.69 L226.00,317.99 Z" fill="#4a2272"/>
<line x1="83.40" y1="245.15" x2="86.40" y2="245.15" stroke="#d42a3a" stroke-width="0.9" />
<line x1="84.90" y1="243.65" x2="84.90" y2="246.65" stroke="#d42a3a" stroke-width="0.9" />
<line x1="106.96" y1="248.57" x2="109.96" y2="248.57" stroke="#d42a3a" stroke-width="0.9" />
<line x1="108.46" y1="247.07" x2="108.46" y2="250.07" stroke="#d42a3a" stroke-width="0.9" />
<line x1="123.98" y1="250.96" x2="126.98" y2="250.96" stroke="#d42a3a" stroke-width="0.9" />
<line x1="125.48" y1="249.46" x2="125.48" y2="252.46" stroke="#d42a3a" stroke-width="0.9" />
<line x1="141.05" y1="264.18" x2="144.05" y2="264.18" stroke="#d42a3a" stroke-width="0.9" />
<line x1="142.55" y1="262.68" x2="142.55" y2="265.68" stroke="#d42a3a" stroke-width="0.9" />
<line x1="158.07" y1="292.62" x2="161.07" y2="292.62" stroke="#d42a3a" stroke-width="0.9" />
<line x1="159.57" y1="291.12" x2="159.57" y2="294.12" stroke="#d42a3a" stroke-width="0.9" />
<line x1="175.10" y1="310.67" x2="178.10" y2="310.67" stroke="#d42a3a" stroke-width="0.9" />
<line x1="176.60" y1="309.17" x2="176.60" y2="312.17" stroke="#d42a3a" stroke-width="0.9" />
<line x1="192.13" y1="319.75" x2="195.13" y2="319.75" stroke="#d42a3a" stroke-width="0.9" />
<line x1="193.63" y1="318.25" x2="193.63" y2="321.25" stroke="#d42a3a" stroke-width="0.9" />
<line x1="209.17" y1="319.41" x2="212.17" y2="319.41" stroke="#d42a3a" stroke-width="0.9" />
<line x1="210.67" y1="317.91" x2="210.67" y2="320.91" stroke="#d42a3a" stroke-width="0.9" />
<line x1="226.20" y1="320.15" x2="229.20" y2="320.15" stroke="#d42a3a" stroke-width="0.9" />
<line x1="227.70" y1="318.65" x2="227.70" y2="321.65" stroke="#d42a3a" stroke-width="0.9" />
<circle cx="84.90" cy="246.01" r="1.50" fill="none" stroke="#f08aa0" stroke-width="0.9"/>
<circle cx="108.46" cy="246.03" r="1.50" fill="none" stroke="#f08aa0" stroke-width="0.9"/>
<circle cx="125.48" cy="256.62" r="1.50" fill="none" stroke="#f08aa0" stroke-width="0.9"/>
<circle cx="142.55" cy="275.51" r="1.50" fill="none" stroke="#f08aa0" stroke-width="0.9"/>
<circle cx="159.57" cy="303.20" r="1.50" fill="none" stroke="#f08aa0" stroke-width="0.9"/>
<circle cx="176.60" cy="314.49" r="1.50" fill="none" stroke="#f08aa0" stroke-width="0.9"/>
<circle cx="193.63" cy="319.05" r="1.50" fill="none" stroke="#f08aa0" stroke-width="0.9"/>
<circle cx="210.67" cy="319.69" r="1.50" fill="none" stroke="#f08aa0" stroke-width="0.9"/>
<circle cx="227.70" cy="316.85" r="1.50" fill="none" stroke="#f08aa0" stroke-width="0.9"/>
<path d="M84.90,242.04 L86.60,243.74 L84.90,245.44 L83.20,243.74 Z" fill="#b452e0"/>
<path d="M108.46,245.68 L110.16,247.38 L108.46,249.08 L106.76,247.38 Z" fill="#b452e0"/>
<path d="M125.48,249.66 L127.18,251.36 L125.48,253.06 L123.78,251.36 Z" fill="#b452e0"/>
<path d="M142.55,274.39 L144.25,276.09 L142.55,277.79 L140.85,276.09 Z" fill="#b452e0"/>
<path d="M159.57,301.90 L161.27,303.60 L159.57,305.30 L157.87,303.60 Z" fill="#b452e0"/>
<path d="M176.60,312.04 L178.30,313.74 L176.60,315.44 L174.90,313.74 Z" fill="#b452e0"/>
<path d="M193.63,315.74 L195.33,317.44 L193.63,319.14 L191.93,317.44 Z" fill="#b452e0"/>
<path d="M210.67,318.62 L212.37,320.32 L210.67,322.02 L208.97,320.32 Z" fill="#b452e0"/>
<path d="M227.70,314.86 L229.40,316.56 L227.70,318.26 L226.00,316.56 Z" fill="#b452e0"/>
<line x1="83.40" y1="247.53" x2="86.40" y2="247.53" stroke="#a83c90" stroke-width="0.9" />
<line x1="84.90" y1="246.03" x2="84.90" y2="249.03" stroke="#a83c90" stroke-width="0.9" />
<line x1="106.96" y1="249.24" x2="109.96" y2="249.24" stroke="#a83c90" stroke-width="0.9" />
<line x1="108.46" y1="247.74" x2="108.46" y2="250.74" stroke="#a83c90" stroke-width="0.9" />
<line x1="123.98" y1="254.91" x2="126.98" y2="254.91" stroke="#a83c90" stroke-width="0.9" />
<line x1="125.48" y1="253.41" x2="125.48" y2="256.41" stroke="#a83c90" stroke-width="0.9" />
<line x1="141.05" y1="280.28" x2="144.05" y2="280.28" stroke="#a83c90" stroke-width="0.9" />
<line x1="142.55" y1="278.78" x2="142.55" y2="281.78" stroke="#a83c90" stroke-width="0.9" />
<line x1="158.07" y1="306.32" x2="161.07" y2="306.32" stroke="#a83c90" stroke-width="0.9" />
<line x1="159.57" y1="304.82" x2="159.57" y2="307.82" stroke="#a83c90" stroke-width="0.9" />
<line x1="175.10" y1="317.36" x2="178.10" y2="317.36" stroke="#a83c90" stroke-width="0.9" />
<line x1="176.60" y1="315.86" x2="176.60" y2="318.86" stroke="#a83c90" stroke-width="0.9" />
<line x1="192.13" y1="319.57" x2="195.13" y2="319.57" stroke="#a83c90" stroke-width="0.9" />
<line x1="193.63" y1="318.07" x2="193.63" y2="321.07" stroke="#a83c90" stroke-width="0.9" />
<line x1="209.17" y1="317.87" x2="212.17" y2="317.87" stroke="#a83c90" stroke-width="0.9" />
<line x1="210.67" y1="316.37" x2="210.67" y2="319.37" stroke="#a83c90" stroke-width="0.9" />
<line x1="226.20" y1="319.43" x2="229.20" y2="319.43" stroke="#a83c90" stroke-width="0.9" />
<line x1="227.70" y1="317.93" x2="227.70" y2="320.93" stroke="#a83c90" stroke-width="0.9" />
<line x1="83.40" y1="245.24" x2="86.40" y2="245.24" stroke="#e8408c" stroke-width="1.0" />
<line x1="106.96" y1="248.17" x2="109.96" y2="248.17" stroke="#e8408c" stroke-width="1.0" />
<line x1="123.98" y1="256.69" x2="126.98" y2="256.69" stroke="#e8408c" stroke-width="1.0" />
<line x1="141.05" y1="280.72" x2="144.05" y2="280.72" stroke="#e8408c" stroke-width="1.0" />
<line x1="158.07" y1="307.56" x2="161.07" y2="307.56" stroke="#e8408c" stroke-width="1.0" />
<line x1="175.10" y1="314.99" x2="178.10" y2="314.99" stroke="#e8408c" stroke-width="1.0" />
<line x1="192.13" y1="315.24" x2="195.13" y2="315.24" stroke="#e8408c" stroke-width="1.0" />
<line x1="209.17" y1="318.47" x2="212.17" y2="318.47" stroke="#e8408c" stroke-width="1.0" />
<line x1="226.20" y1="318.64" x2="229.20" y2="318.64" stroke="#e8408c" stroke-width="1.0" />
<path d="M83.40,240.92 L86.40,240.92 L84.90,243.47 Z" fill="#35b53a"/>
<path d="M106.96,244.92 L109.96,244.92 L108.46,247.47 Z" fill="#35b53a"/>
<path d="M123.98,263.08 L126.98,263.08 L125.48,265.63 Z" fill="#35b53a"/>
<path d="M141.05,297.56 L144.05,297.56 L142.55,300.11 Z" fill="#35b53a"/>
<path d="M158.07,315.61 L161.07,315.61 L159.57,318.16 Z" fill="#35b53a"/>
<path d="M175.10,319.50 L178.10,319.50 L176.60,322.05 Z" fill="#35b53a"/>
<path d="M192.13,323.54 L195.13,323.54 L193.63,326.09 Z" fill="#35b53a"/>
<path d="M209.17,320.40 L212.17,320.40 L210.67,322.95 Z" fill="#35b53a"/>
<path d="M226.20,320.72 L229.20,320.72 L227.70,323.27 Z" fill="#35b53a"/>
<line x1="108.50" y1="229.90" x2="108.50" y2="253.90" stroke="#999" stroke-width="0.7" />
<line x1="107.50" y1="229.90" x2="109.50" y2="229.90" stroke="#999" stroke-width="0.7" />
<line x1="107.50" y1="253.90" x2="109.50" y2="253.90" stroke="#999" stroke-width="0.7" />
<line x1="125.50" y1="229.90" x2="125.50" y2="251.60" stroke="#aaa" stroke-width="0.7" />
<line x1="124.50" y1="229.90" x2="126.50" y2="229.90" stroke="#aaa" stroke-width="0.7" />
<line x1="124.50" y1="251.60" x2="126.50" y2="251.60" stroke="#aaa" stroke-width="0.7" />
<line x1="143.10" y1="232.50" x2="143.10" y2="241.00" stroke="#888" stroke-width="0.7" />
<line x1="142.00" y1="232.50" x2="144.20" y2="232.50" stroke="#888" stroke-width="0.7" />
<line x1="142.00" y1="241.00" x2="144.20" y2="241.00" stroke="#888" stroke-width="0.7" />
<rect x="141.90" y="235.30" width="2.40" height="2.40" fill="#111"/>
<line x1="160.00" y1="225.80" x2="160.00" y2="235.80" stroke="#888" stroke-width="0.7" />
<line x1="158.90" y1="225.80" x2="161.10" y2="225.80" stroke="#888" stroke-width="0.7" />
<line x1="158.90" y1="235.80" x2="161.10" y2="235.80" stroke="#888" stroke-width="0.7" />
<rect x="158.80" y="229.40" width="2.40" height="2.40" fill="#111"/>
<line x1="210.80" y1="223.90" x2="210.80" y2="243.00" stroke="#888" stroke-width="0.7" />
<line x1="209.70" y1="223.90" x2="211.90" y2="223.90" stroke="#888" stroke-width="0.7" />
<line x1="209.70" y1="243.00" x2="211.90" y2="243.00" stroke="#888" stroke-width="0.7" />
<rect x="209.60" y="231.50" width="2.40" height="2.40" fill="#111"/>
<line x1="227.70" y1="230.40" x2="227.70" y2="261.20" stroke="#888" stroke-width="0.7" />
<line x1="226.60" y1="230.40" x2="228.80" y2="230.40" stroke="#888" stroke-width="0.7" />
<line x1="226.60" y1="261.20" x2="228.80" y2="261.20" stroke="#888" stroke-width="0.7" />
<rect x="226.50" y="244.60" width="2.40" height="2.40" fill="#111"/>
<circle cx="66.8" cy="267.10" r="1.3" fill="#111"/>
<text x="73.20" y="269.10" font-size="5.9" fill="#333" stroke="#333" stroke-width="0.14" textLength="31.68" lengthAdjust="spacingAndGlyphs" >Control mAb</text>
<line x1="63.70" y1="272.90" x2="69.80" y2="272.90" stroke="#8fc0ea" stroke-width="0.9" />
<rect x="65.42" y="271.53" width="2.75" height="2.75" fill="#8fc0ea"/>
<text x="73.20" y="274.90" font-size="5.9" fill="#333" stroke="#333" stroke-width="0.14" textLength="9.51" lengthAdjust="spacingAndGlyphs" >992</text>
<line x1="63.70" y1="278.70" x2="69.80" y2="278.70" stroke="#ecb87a" stroke-width="0.9" />
<circle cx="66.80" cy="278.70" r="1.50" fill="#ecb87a"/>
<text x="73.20" y="280.70" font-size="5.9" fill="#333" stroke="#333" stroke-width="0.14" textLength="12.68" lengthAdjust="spacingAndGlyphs" >1024</text>
<line x1="63.70" y1="284.50" x2="69.80" y2="284.50" stroke="#35b53a" stroke-width="0.9" />
<path d="M64.92,283.09 L68.67,283.09 L66.80,286.28 Z" fill="#35b53a"/>
<text x="73.20" y="286.50" font-size="5.9" fill="#333" stroke="#333" stroke-width="0.14" textLength="20.91" lengthAdjust="spacingAndGlyphs" >Sym004</text>
<line x1="63.70" y1="290.30" x2="69.80" y2="290.30" stroke="#d42a3a" stroke-width="0.9" />
<line x1="64.92" y1="290.30" x2="68.67" y2="290.30" stroke="#d42a3a" stroke-width="0.9" />
<line x1="66.80" y1="288.43" x2="66.80" y2="292.18" stroke="#d42a3a" stroke-width="0.9" />
<text x="73.20" y="292.30" font-size="5.9" fill="#333" stroke="#333" stroke-width="0.14" textLength="38.82" lengthAdjust="spacingAndGlyphs" >992+1024 (2:1)</text>
<line x1="63.70" y1="296.10" x2="69.80" y2="296.10" stroke="#f08aa0" stroke-width="0.9" />
<circle cx="66.80" cy="296.10" r="1.88" fill="none" stroke="#f08aa0" stroke-width="0.9"/>
<text x="73.20" y="298.10" font-size="5.9" fill="#333" stroke="#333" stroke-width="0.14" textLength="38.82" lengthAdjust="spacingAndGlyphs" >992+1024 (4:1)</text>
<line x1="63.70" y1="301.90" x2="69.80" y2="301.90" stroke="#b83444" stroke-width="0.9" />
<circle cx="66.80" cy="301.90" r="1.88" fill="none" stroke="#b83444" stroke-width="0.9"/>
<text x="73.20" y="303.90" font-size="5.9" fill="#333" stroke="#333" stroke-width="0.14" textLength="41.99" lengthAdjust="spacingAndGlyphs" >992+1024 (12:1)</text>
<line x1="63.70" y1="307.70" x2="69.80" y2="307.70" stroke="#c0a060" stroke-width="0.9" />
<path d="M65.05,309.01 L68.55,309.01 L66.80,306.04 Z" fill="#c0a060"/>
<text x="73.20" y="309.70" font-size="5.9" fill="#333" stroke="#333" stroke-width="0.14" textLength="45.16" lengthAdjust="spacingAndGlyphs" >992+1024 (100:1)</text>
<line x1="63.70" y1="313.50" x2="69.80" y2="313.50" stroke="#2a3890" stroke-width="0.9" />
<path d="M66.80,311.38 L68.92,313.50 L66.80,315.62 L64.67,313.50 Z" fill="#2a3890"/>
<text x="73.20" y="315.50" font-size="5.9" fill="#333" stroke="#333" stroke-width="0.14" textLength="45.16" lengthAdjust="spacingAndGlyphs" >992+1024 (250:1)</text>
<line x1="63.70" y1="319.30" x2="69.80" y2="319.30" stroke="#b452e0" stroke-width="0.9" />
<path d="M66.80,317.18 L68.92,319.30 L66.80,321.43 L64.67,319.30 Z" fill="#b452e0"/>
<text x="73.20" y="321.30" font-size="5.9" fill="#333" stroke="#333" stroke-width="0.14" textLength="38.82" lengthAdjust="spacingAndGlyphs" >992+1024 (1:2)</text>
<line x1="63.70" y1="325.10" x2="69.80" y2="325.10" stroke="#4a2272" stroke-width="0.9" />
<path d="M66.80,322.98 L68.92,325.10 L66.80,327.23 L64.67,325.10 Z" fill="#4a2272"/>
<text x="73.20" y="327.10" font-size="5.9" fill="#333" stroke="#333" stroke-width="0.14" textLength="38.82" lengthAdjust="spacingAndGlyphs" >992+1024 (1:4)</text>
<line x1="63.70" y1="330.90" x2="69.80" y2="330.90" stroke="#e8408c" stroke-width="0.9" />
<line x1="64.92" y1="330.90" x2="68.67" y2="330.90" stroke="#e8408c" stroke-width="1.0" />
<text x="73.20" y="332.90" font-size="5.9" fill="#333" stroke="#333" stroke-width="0.14" textLength="41.99" lengthAdjust="spacingAndGlyphs" >992+1024 (1:12)</text>
<line x1="63.70" y1="336.70" x2="69.80" y2="336.70" stroke="#a83c90" stroke-width="0.9" />
<line x1="64.92" y1="336.70" x2="68.67" y2="336.70" stroke="#a83c90" stroke-width="0.9" />
<line x1="66.80" y1="334.83" x2="66.80" y2="338.58" stroke="#a83c90" stroke-width="0.9" />
<text x="73.20" y="338.70" font-size="5.9" fill="#333" stroke="#333" stroke-width="0.14" textLength="45.16" lengthAdjust="spacingAndGlyphs" >992+1024 (1:100)</text>
<line x1="63.70" y1="342.50" x2="69.80" y2="342.50" stroke="#98a84a" stroke-width="0.9" />
<line x1="64.92" y1="342.50" x2="68.67" y2="342.50" stroke="#98a84a" stroke-width="1.0" />
<text x="73.20" y="344.50" font-size="5.9" fill="#333" stroke="#333" stroke-width="0.14" textLength="45.16" lengthAdjust="spacingAndGlyphs" >992+1024 (1:250)</text>
<text x="259.40" y="217.70" font-size="10.8" fill="#111" stroke="#111" stroke-width="0.35" font-weight="bold" textLength="7.00" lengthAdjust="spacingAndGlyphs" >D</text>
<line x1="298.50" y1="218.90" x2="298.50" y2="354.20" stroke="#333" stroke-width="1.0" />
<line x1="298.00" y1="353.70" x2="499.30" y2="353.70" stroke="#333" stroke-width="1.0" />
<line x1="297.10" y1="219.30" x2="298.50" y2="219.30" stroke="#333" stroke-width="1.0" />
<text x="295.20" y="221.90" font-size="8.4" fill="#222" stroke="#222" stroke-width="0.24" text-anchor="end" textLength="9.12" lengthAdjust="spacingAndGlyphs" >10</text>
<line x1="297.10" y1="246.18" x2="298.50" y2="246.18" stroke="#333" stroke-width="1.0" />
<text x="295.20" y="248.78" font-size="8.4" fill="#222" stroke="#222" stroke-width="0.24" text-anchor="end" textLength="4.56" lengthAdjust="spacingAndGlyphs" >1</text>
<line x1="297.10" y1="273.06" x2="298.50" y2="273.06" stroke="#333" stroke-width="1.0" />
<text x="295.20" y="275.66" font-size="8.4" fill="#222" stroke="#222" stroke-width="0.24" text-anchor="end" textLength="11.40" lengthAdjust="spacingAndGlyphs" >0.1</text>
<line x1="297.10" y1="299.94" x2="298.50" y2="299.94" stroke="#333" stroke-width="1.0" />
<text x="295.20" y="302.54" font-size="8.4" fill="#222" stroke="#222" stroke-width="0.24" text-anchor="end" textLength="15.96" lengthAdjust="spacingAndGlyphs" >0.01</text>
<line x1="297.10" y1="326.82" x2="298.50" y2="326.82" stroke="#333" stroke-width="1.0" />
<text x="295.20" y="329.42" font-size="8.4" fill="#222" stroke="#222" stroke-width="0.24" text-anchor="end" textLength="20.52" lengthAdjust="spacingAndGlyphs" >0.001</text>
<line x1="297.10" y1="353.70" x2="298.50" y2="353.70" stroke="#333" stroke-width="1.0" />
<text x="295.20" y="356.30" font-size="8.4" fill="#222" stroke="#222" stroke-width="0.24" text-anchor="end" textLength="25.08" lengthAdjust="spacingAndGlyphs" >0.0001</text>
<line x1="298.50" y1="353.70" x2="298.50" y2="355.80" stroke="#333" stroke-width="1.0" />
<line x1="327.18" y1="353.70" x2="327.18" y2="355.80" stroke="#333" stroke-width="1.0" />
<line x1="355.86" y1="353.70" x2="355.86" y2="355.80" stroke="#333" stroke-width="1.0" />
<line x1="384.54" y1="353.70" x2="384.54" y2="355.80" stroke="#333" stroke-width="1.0" />
<line x1="413.22" y1="353.70" x2="413.22" y2="355.80" stroke="#333" stroke-width="1.0" />
<line x1="441.90" y1="353.70" x2="441.90" y2="355.80" stroke="#333" stroke-width="1.0" />
<line x1="470.58" y1="353.70" x2="470.58" y2="355.80" stroke="#333" stroke-width="1.0" />
<line x1="499.26" y1="353.70" x2="499.26" y2="355.80" stroke="#333" stroke-width="1.0" />
<text x="298.90" y="363.70" font-size="8.3" fill="#222" stroke="#222" stroke-width="0.24" text-anchor="middle" textLength="30.00" lengthAdjust="spacingAndGlyphs" >0.00001</text>
<text x="327.58" y="363.70" font-size="8.3" fill="#222" stroke="#222" stroke-width="0.24" text-anchor="middle" textLength="25.38" lengthAdjust="spacingAndGlyphs" >0.0001</text>
<text x="356.26" y="363.70" font-size="8.3" fill="#222" stroke="#222" stroke-width="0.24" text-anchor="middle" textLength="20.77" lengthAdjust="spacingAndGlyphs" >0.001</text>
<text x="384.94" y="363.70" font-size="8.3" fill="#222" stroke="#222" stroke-width="0.24" text-anchor="middle" textLength="16.15" lengthAdjust="spacingAndGlyphs" >0.01</text>
<text x="413.62" y="363.70" font-size="8.3" fill="#222" stroke="#222" stroke-width="0.24" text-anchor="middle" textLength="11.54" lengthAdjust="spacingAndGlyphs" >0.1</text>
<text x="442.30" y="363.70" font-size="8.3" fill="#222" stroke="#222" stroke-width="0.24" text-anchor="middle" textLength="4.62" lengthAdjust="spacingAndGlyphs" >1</text>
<text x="470.98" y="363.70" font-size="8.3" fill="#222" stroke="#222" stroke-width="0.24" text-anchor="middle" textLength="9.23" lengthAdjust="spacingAndGlyphs" >10</text>
<text x="499.66" y="363.70" font-size="8.3" fill="#222" stroke="#222" stroke-width="0.24" text-anchor="middle" textLength="13.85" lengthAdjust="spacingAndGlyphs" >100</text>
<text x="398.20" y="378.70" font-size="8.0" fill="#222" stroke="#222" stroke-width="0.24" text-anchor="middle" textLength="78.40" lengthAdjust="spacingAndGlyphs" >Dose of 1024 (µg/mL)</text>
<text x="268.40" y="282.40" font-size="8.1" fill="#222" stroke="#222" stroke-width="0.24" text-anchor="middle" textLength="76.00" lengthAdjust="spacingAndGlyphs" transform="rotate(-90 268.40 282.40)" >Dose of 992 (µg/mL)</text>
<polyline points="310.6,238.5 324.0,238.5 337.9,238.5 351.5,238.5 365.4,238.5 378.8,238.5 392.9,238.6 406.5,238.6 415.2,238.8 423.8,239.0 432.3,239.3 441.2,239.8 449.8,240.8 458.5,243.0 467.4,248.2 475.8,276.9 476.4,333.2" fill="none" stroke="#111" stroke-width="1.0" stroke-linejoin="round" />
<circle cx="310.60" cy="238.50" r="1.25" fill="#111"/>
<circle cx="324.00" cy="238.50" r="1.25" fill="#111"/>
<circle cx="337.90" cy="238.50" r="1.25" fill="#111"/>
<circle cx="351.50" cy="238.50" r="1.25" fill="#111"/>
<circle cx="365.40" cy="238.50" r="1.25" fill="#111"/>
<circle cx="378.80" cy="238.50" r="1.25" fill="#111"/>
<circle cx="392.90" cy="238.60" r="1.25" fill="#111"/>
<circle cx="406.50" cy="238.60" r="1.25" fill="#111"/>
<circle cx="415.20" cy="238.80" r="1.25" fill="#111"/>
<circle cx="423.80" cy="239.00" r="1.25" fill="#111"/>
<circle cx="432.30" cy="239.30" r="1.25" fill="#111"/>
<circle cx="441.20" cy="239.80" r="1.25" fill="#111"/>
<circle cx="449.80" cy="240.80" r="1.25" fill="#111"/>
<circle cx="458.50" cy="243.00" r="1.25" fill="#111"/>
<circle cx="467.40" cy="248.20" r="1.25" fill="#111"/>
<circle cx="475.80" cy="276.90" r="1.25" fill="#111"/>
<circle cx="476.40" cy="333.20" r="1.25" fill="#111"/>
<path d="M368.80,245.30 L374.20,245.30 L371.50,250.10 Z" fill="#2a9e32"/>
<path d="M379.80,245.30 L385.20,245.30 L382.50,250.10 Z" fill="#2a9e32"/>
<path d="M389.30,260.90 L394.70,260.90 L392.00,265.70 Z" fill="#2a9e32"/>
<path d="M384.50,273.70 L389.90,273.70 L387.20,278.50 Z" fill="#2a9e32"/>
<path d="M387.80,283.60 L393.20,283.60 L390.50,288.40 Z" fill="#2a9e32"/>
<path d="M384.80,294.30 L390.20,294.30 L387.50,299.10 Z" fill="#2a9e32"/>
<path d="M395.50,292.50 L400.90,292.50 L398.20,297.30 Z" fill="#2a9e32"/>
<path d="M408.60,293.40 L414.00,293.40 L411.30,298.20 Z" fill="#2a9e32"/>
<path d="M415.80,294.60 L421.20,294.60 L418.50,299.40 Z" fill="#2a9e32"/>
<path d="M421.90,297.20 L427.30,297.20 L424.60,302.00 Z" fill="#2a9e32"/>
<path d="M439.80,297.20 L445.20,297.20 L442.50,302.00 Z" fill="#2a9e32"/>
<path d="M448.80,299.00 L454.20,299.00 L451.50,303.80 Z" fill="#2a9e32"/>
<text x="370.80" y="254.50" font-size="3.6" fill="#666" stroke="#666" stroke-width="0.14" text-anchor="middle" >250:1</text>
<text x="385.00" y="255.00" font-size="3.6" fill="#666" stroke="#666" stroke-width="0.14" text-anchor="middle" >100:1</text>
<text x="383.00" y="288.30" font-size="3.6" fill="#666" stroke="#666" stroke-width="0.14" text-anchor="middle" >2:1</text>
<text x="383.20" y="302.30" font-size="3.6" fill="#666" stroke="#666" stroke-width="0.14" text-anchor="middle" >1:4</text>
<text x="398.50" y="302.80" font-size="3.6" fill="#666" stroke="#666" stroke-width="0.14" text-anchor="middle" >1:2</text>
<text x="441.50" y="295.00" font-size="3.6" fill="#666" stroke="#666" stroke-width="0.14" text-anchor="middle" >1:100</text>
<text x="453.30" y="297.80" font-size="3.6" fill="#666" stroke="#666" stroke-width="0.14" text-anchor="middle" >1:250</text>
<rect x="1.5" y="1.5" width="517" height="391" fill="none" stroke="#e6f9fd" stroke-width="1"/>
<rect x="0.5" y="0.5" width="519" height="393" fill="none" stroke="#6a8db4" stroke-width="1"/>
</svg></body></html>
